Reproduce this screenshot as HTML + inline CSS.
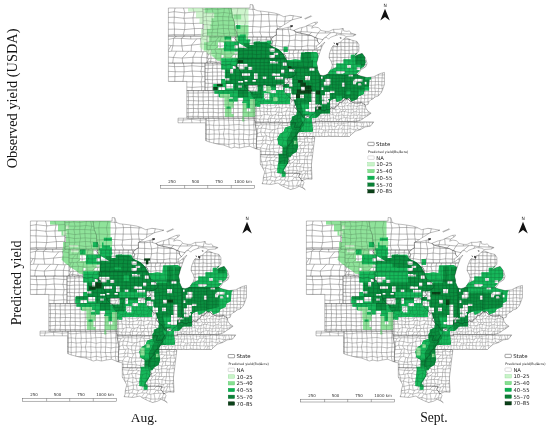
<!DOCTYPE html>
<html><head><meta charset="utf-8"><title>Yield maps</title>
<style>html,body{margin:0;padding:0;background:#fff}body{width:550px;height:430px;overflow:hidden;position:relative}svg{display:block}</style>
</head><body>
<svg width="550" height="430" viewBox="0 0 550 430">
<defs>
<clipPath id="cND"><path d="M168.4,8 231,8 231.7,12.1 232.2,16.3 233.6,19.9 234.5,22.7 234.8,27.3 235.4,30 236.8,32.8 237.2,36.1 168.4,36.1Z"/></clipPath><clipPath id="cSD"><path d="M168.4,36.1 237.2,36.1 235,38.3 236.1,40.9 238.2,42 238.2,58.5 237,60.3 238.2,62.2 237.2,64.5 236.5,66.8 238.2,67.7 235.9,66.6 233.1,65.4 229.4,64.3 224.9,65.1 221.2,64.2 219.3,63.1 168.4,63.1Z"/></clipPath><clipPath id="cNE"><path d="M168.4,63.1 219.3,63.1 221.2,64.2 224.9,65.1 229.4,64.3 233.1,65.4 235.9,66.6 238.2,67.7 239.5,70.4 241.2,72.7 241.4,75.9 242.9,78.7 243.7,81.9 244.4,85.3 246,87.9 248.7,90.6 186.8,90.6 186.8,81.4 168.4,81.4Z"/></clipPath><clipPath id="cKS"><path d="M186.8,90.6 248.7,90.6 251,91.7 252.4,92.9 250.6,94.8 252.4,96.6 255,98.7 255,118.2 186.8,118.2Z"/></clipPath><clipPath id="cOK"><path d="M178,118.2 255,118.2 255,122.8 256.7,132.8 256.3,149 249.6,146.2 244.1,147.1 239.5,148 235,147.1 231.3,148 227.6,146.6 223,144.8 218.4,144.3 212.9,142.9 209.3,142 205.6,140.6 205.6,122.8 178,122.8Z"/></clipPath><clipPath id="cMN"><path d="M237.2,36.1 236.8,32.8 235.4,30 234.8,27.3 234.5,22.7 233.6,19.9 232.2,16.3 231.7,12.1 231,8 250.1,8 250.1,4.5 252.9,4.8 254.2,9.4 257.9,10.8 266.2,11.7 274.4,13 279,14.4 283.6,16.7 290,15.3 296.5,16.3 302,17.2 291.9,19.9 284.5,24.5 278.1,28.7 276.4,29.5 276.4,34.8 274.4,36 271.2,38.8 272.6,41.5 271.9,44.3 271.7,47 274.9,48.9 279,50.4 281.8,53.4 285.4,55.3 286.2,58.5 238.2,58.5 238.2,42 236.1,40.9 235,38.3 237.2,36.1Z"/></clipPath><clipPath id="cIA"><path d="M238.2,58.5 286.2,58.5 286.8,62.2 287.7,65.4 291.5,67.6 294.2,70.4 296,72.7 295.5,74.3 294.2,76.1 291,77.3 287.7,77.8 287.3,79.6 288.7,81.4 287.3,83.3 284.7,85.3 284.3,87.1 283.1,86.2 281.5,85 244.4,85.3 243.7,81.9 242.9,78.7 241.4,75.9 241.2,72.7 239.5,70.4 238.2,67.7 236.5,66.8 237.2,64.5 238.2,62.2 237,60.3 238.2,58.5Z"/></clipPath><clipPath id="cMO"><path d="M244.4,85.3 281.5,85 283.1,86.2 284.3,87.1 283.6,89.2 284.3,91.5 286.4,94.3 290,97.5 291.4,99.8 293.7,100.3 296,101.6 295.5,103.9 294.2,106.7 296.5,109.4 300.1,112.2 302,115.4 302.9,117.2 305.2,118.2 304.7,120.9 302.4,122.8 301.1,125 300.1,127.3 294,127.3 296,122.8 255,122.8 255,98.7 252.4,96.6 250.6,94.8 252.4,92.9 251,91.7 248.7,90.6 246,87.9 244.4,85.3Z"/></clipPath><clipPath id="cAR"><path d="M255,122.8 296,122.8 294,127.3 300.1,127.3 300.6,128.7 298.3,131 296.9,133.3 296,135.1 294.6,136.5 292.3,139.7 291.9,142 288.7,144.8 287.3,148 286.8,151.2 286.8,154.9 260.3,154.7 260.3,149.8 256.3,149 256.7,132.8Z"/></clipPath><clipPath id="cLA"><path d="M260.3,154.7 286.8,154.9 287.3,157.6 289.1,160.8 287.3,163.6 284.5,167.7 283.1,170.5 282.4,173.2 299.9,173.2 298.8,176.5 300.6,178.7 301.8,180.8 302,180 304,182.5 302.3,187.3 305.3,189.7 303.4,188.2 299,186.3 295.7,188.2 290.6,189.5 285.5,187.5 280.5,185 278,183 271.5,184.4 262,183.7 263,181.5 263.4,176.9 264.8,171.9 262.5,167.7 260.3,164.1 260.3,154.7Z"/></clipPath><clipPath id="cMS"><path d="M294.6,136.5 313.9,136.5 314.8,137.4 311.4,165 312.1,179.2 306.6,178.9 301.8,180.8 300.6,178.7 298.8,176.5 299.9,173.2 282.4,173.2 283.1,170.5 284.5,167.7 287.3,163.6 289.1,160.8 287.3,157.6 286.8,154.9 286.8,151.2 287.3,148 288.7,144.8 291.9,142 292.3,139.7 294.6,136.5Z"/></clipPath><clipPath id="cTN"><path d="M294.6,136.5 296,135.1 296.9,133.3 298.3,131 300.6,128.7 300.1,127.3 301.1,125 302.4,122.8 315.3,122.8 315.3,121.3 355.4,121.8 373.8,121.9 370.4,126.2 365.3,126.9 360.7,129.5 355.2,131.3 352,134 349.5,136.5Z"/></clipPath><clipPath id="cKY"><path d="M302.4,122.8 304.7,120.9 305.2,118.2 307,116.3 310.2,117.4 311.6,114.9 314.8,113.6 315.5,110.8 316.7,109.9 319.7,109.4 324,110.8 326.8,109.4 329.5,109.7 331.3,107.6 334.1,109 335.5,106.7 338.7,104.4 339.6,102.4 342.4,102.1 344.9,98.9 347.9,98.9 350.2,101.2 354.3,103 358,103 361.6,102.4 363.5,103.9 365.3,105.1 365.8,108.1 368.1,111.3 371.1,113.2 368.1,115.4 364.4,117.7 362.6,119.1 359.8,120.5 355.4,121.8 315.3,121.3 315.3,122.8Z"/></clipPath><clipPath id="cIL"><path d="M291.5,67.6 317.6,67.8 317.6,69.5 319.4,73.6 320.1,75 320.1,96.6 319.2,98.9 320.3,102.6 318,105.3 316.2,107.6 315.5,110.8 314.8,113.6 311.6,114.9 310.2,117.4 307,116.3 305.2,118.2 302.9,117.2 302,115.4 300.1,112.2 296.5,109.4 294.2,106.7 295.5,103.9 296,101.6 293.7,100.3 291.4,99.8 290,97.5 286.4,94.3 284.3,91.5 283.6,89.2 284.3,87.1 284.7,85.3 287.3,83.3 288.7,81.4 287.3,79.6 287.7,77.8 291,77.3 294.2,76.1 295.5,74.3 296,72.7 294.2,70.4 291.5,67.6Z"/></clipPath><clipPath id="cIN"><path d="M320.1,75 323.1,75.7 326.8,74.5 344.9,75 344.9,98.9 342.4,102.1 339.6,102.4 338.7,104.4 335.5,106.7 334.1,109 331.3,107.6 329.5,109.7 326.8,109.4 324,110.8 319.7,109.4 316.7,109.9 315.5,110.8 316.2,107.6 318,105.3 320.3,102.6 319.2,98.9 320.1,96.6Z"/></clipPath><clipPath id="cOH"><path d="M344.9,75 357.5,74.7 360.7,75.9 363.9,76.8 367.1,77.6 373.6,76.8 380,73.6 384.4,72.4 384.4,84.7 383.7,86.5 382.6,89.7 381.2,92.9 378.2,96.1 374.9,97 373.1,98.9 370.8,99.8 369,101.6 368.1,104.4 365.3,105.1 363.5,103.9 361.6,102.4 358,103 354.3,103 350.2,101.2 347.9,98.9 344.9,98.9Z"/></clipPath><clipPath id="cMI"><path d="M326.8,74.5 344.9,75 357.5,74.7 359.8,71.8 360.7,69.5 363,68.6 366.2,66.3 367,63.1 365.3,57.6 362.1,53.3 358,54.8 353.4,57.1 356.1,54.4 358.9,51.1 358.9,44.7 357,41.5 351.5,40.1 345.6,37.6 343.3,39.2 340.1,42.4 337.8,42.9 337.3,46.6 333.2,45.6 331.8,47.5 329.5,53.4 329.1,57.6 331.3,61.7 332.3,65.4 331.3,68.6 329.5,71.3 326.8,74.5Z"/></clipPath><clipPath id="cUP"><path d="M293.7,30.5 299.2,28.2 304.7,26.8 309.3,24.5 313.9,22.5 317.6,22 316.7,23.6 313,25.9 311.6,28.2 314.8,27.1 318.5,27.7 321.2,30.5 325.8,31.4 329.1,31.4 333.2,29.4 338.7,29.3 343.3,28.5 343.7,30.9 347,31.4 349.2,30.9 351.5,33.2 356.1,34.6 353.4,36 346,36.5 343.3,35.1 338.7,34.6 334.1,36 330.4,37.4 328.6,39.2 326.8,37.4 324.5,37.8 322.2,40.6 319.4,43.8 317.6,41.5 317.1,38.3 314.8,37.4 311.1,35.5 305.6,34.3 296.5,32.3 293.7,30.5Z"/></clipPath><clipPath id="cWI"><path d="M291.5,67.6 287.7,65.4 286.8,62.2 286.2,58.5 285.4,55.3 281.8,53.4 279,50.4 274.9,48.9 271.7,47 271.9,44.3 272.6,41.5 271.2,38.8 274.4,36 276.4,34.8 276.4,29.5 278.1,28.7 282.7,28.7 286.4,27.7 290,26.8 290.5,29.6 293.7,30.5 296.5,32.3 305.6,34.3 311.1,35.5 314.8,37.4 317.1,38.3 317.6,41.5 319.4,43.8 316.7,45.6 315.7,49.1 318,47.9 321.7,44.7 324.9,42.1 322.2,46.1 320.3,51.1 318.5,56.2 316.7,63.1 317.6,67.8Z"/></clipPath><clipPath id="land"><path d="M168.4,8 231,8 231.7,12.1 232.2,16.3 233.6,19.9 234.5,22.7 234.8,27.3 235.4,30 236.8,32.8 237.2,36.1 168.4,36.1ZM168.4,36.1 237.2,36.1 235,38.3 236.1,40.9 238.2,42 238.2,58.5 237,60.3 238.2,62.2 237.2,64.5 236.5,66.8 238.2,67.7 235.9,66.6 233.1,65.4 229.4,64.3 224.9,65.1 221.2,64.2 219.3,63.1 168.4,63.1ZM168.4,63.1 219.3,63.1 221.2,64.2 224.9,65.1 229.4,64.3 233.1,65.4 235.9,66.6 238.2,67.7 239.5,70.4 241.2,72.7 241.4,75.9 242.9,78.7 243.7,81.9 244.4,85.3 246,87.9 248.7,90.6 186.8,90.6 186.8,81.4 168.4,81.4ZM186.8,90.6 248.7,90.6 251,91.7 252.4,92.9 250.6,94.8 252.4,96.6 255,98.7 255,118.2 186.8,118.2ZM178,118.2 255,118.2 255,122.8 256.7,132.8 256.3,149 249.6,146.2 244.1,147.1 239.5,148 235,147.1 231.3,148 227.6,146.6 223,144.8 218.4,144.3 212.9,142.9 209.3,142 205.6,140.6 205.6,122.8 178,122.8ZM237.2,36.1 236.8,32.8 235.4,30 234.8,27.3 234.5,22.7 233.6,19.9 232.2,16.3 231.7,12.1 231,8 250.1,8 250.1,4.5 252.9,4.8 254.2,9.4 257.9,10.8 266.2,11.7 274.4,13 279,14.4 283.6,16.7 290,15.3 296.5,16.3 302,17.2 291.9,19.9 284.5,24.5 278.1,28.7 276.4,29.5 276.4,34.8 274.4,36 271.2,38.8 272.6,41.5 271.9,44.3 271.7,47 274.9,48.9 279,50.4 281.8,53.4 285.4,55.3 286.2,58.5 238.2,58.5 238.2,42 236.1,40.9 235,38.3 237.2,36.1ZM238.2,58.5 286.2,58.5 286.8,62.2 287.7,65.4 291.5,67.6 294.2,70.4 296,72.7 295.5,74.3 294.2,76.1 291,77.3 287.7,77.8 287.3,79.6 288.7,81.4 287.3,83.3 284.7,85.3 284.3,87.1 283.1,86.2 281.5,85 244.4,85.3 243.7,81.9 242.9,78.7 241.4,75.9 241.2,72.7 239.5,70.4 238.2,67.7 236.5,66.8 237.2,64.5 238.2,62.2 237,60.3 238.2,58.5ZM244.4,85.3 281.5,85 283.1,86.2 284.3,87.1 283.6,89.2 284.3,91.5 286.4,94.3 290,97.5 291.4,99.8 293.7,100.3 296,101.6 295.5,103.9 294.2,106.7 296.5,109.4 300.1,112.2 302,115.4 302.9,117.2 305.2,118.2 304.7,120.9 302.4,122.8 301.1,125 300.1,127.3 294,127.3 296,122.8 255,122.8 255,98.7 252.4,96.6 250.6,94.8 252.4,92.9 251,91.7 248.7,90.6 246,87.9 244.4,85.3ZM255,122.8 296,122.8 294,127.3 300.1,127.3 300.6,128.7 298.3,131 296.9,133.3 296,135.1 294.6,136.5 292.3,139.7 291.9,142 288.7,144.8 287.3,148 286.8,151.2 286.8,154.9 260.3,154.7 260.3,149.8 256.3,149 256.7,132.8ZM260.3,154.7 286.8,154.9 287.3,157.6 289.1,160.8 287.3,163.6 284.5,167.7 283.1,170.5 282.4,173.2 299.9,173.2 298.8,176.5 300.6,178.7 301.8,180.8 302,180 304,182.5 302.3,187.3 305.3,189.7 303.4,188.2 299,186.3 295.7,188.2 290.6,189.5 285.5,187.5 280.5,185 278,183 271.5,184.4 262,183.7 263,181.5 263.4,176.9 264.8,171.9 262.5,167.7 260.3,164.1 260.3,154.7ZM294.6,136.5 313.9,136.5 314.8,137.4 311.4,165 312.1,179.2 306.6,178.9 301.8,180.8 300.6,178.7 298.8,176.5 299.9,173.2 282.4,173.2 283.1,170.5 284.5,167.7 287.3,163.6 289.1,160.8 287.3,157.6 286.8,154.9 286.8,151.2 287.3,148 288.7,144.8 291.9,142 292.3,139.7 294.6,136.5ZM294.6,136.5 296,135.1 296.9,133.3 298.3,131 300.6,128.7 300.1,127.3 301.1,125 302.4,122.8 315.3,122.8 315.3,121.3 355.4,121.8 373.8,121.9 370.4,126.2 365.3,126.9 360.7,129.5 355.2,131.3 352,134 349.5,136.5ZM302.4,122.8 304.7,120.9 305.2,118.2 307,116.3 310.2,117.4 311.6,114.9 314.8,113.6 315.5,110.8 316.7,109.9 319.7,109.4 324,110.8 326.8,109.4 329.5,109.7 331.3,107.6 334.1,109 335.5,106.7 338.7,104.4 339.6,102.4 342.4,102.1 344.9,98.9 347.9,98.9 350.2,101.2 354.3,103 358,103 361.6,102.4 363.5,103.9 365.3,105.1 365.8,108.1 368.1,111.3 371.1,113.2 368.1,115.4 364.4,117.7 362.6,119.1 359.8,120.5 355.4,121.8 315.3,121.3 315.3,122.8ZM291.5,67.6 317.6,67.8 317.6,69.5 319.4,73.6 320.1,75 320.1,96.6 319.2,98.9 320.3,102.6 318,105.3 316.2,107.6 315.5,110.8 314.8,113.6 311.6,114.9 310.2,117.4 307,116.3 305.2,118.2 302.9,117.2 302,115.4 300.1,112.2 296.5,109.4 294.2,106.7 295.5,103.9 296,101.6 293.7,100.3 291.4,99.8 290,97.5 286.4,94.3 284.3,91.5 283.6,89.2 284.3,87.1 284.7,85.3 287.3,83.3 288.7,81.4 287.3,79.6 287.7,77.8 291,77.3 294.2,76.1 295.5,74.3 296,72.7 294.2,70.4 291.5,67.6ZM320.1,75 323.1,75.7 326.8,74.5 344.9,75 344.9,98.9 342.4,102.1 339.6,102.4 338.7,104.4 335.5,106.7 334.1,109 331.3,107.6 329.5,109.7 326.8,109.4 324,110.8 319.7,109.4 316.7,109.9 315.5,110.8 316.2,107.6 318,105.3 320.3,102.6 319.2,98.9 320.1,96.6ZM344.9,75 357.5,74.7 360.7,75.9 363.9,76.8 367.1,77.6 373.6,76.8 380,73.6 384.4,72.4 384.4,84.7 383.7,86.5 382.6,89.7 381.2,92.9 378.2,96.1 374.9,97 373.1,98.9 370.8,99.8 369,101.6 368.1,104.4 365.3,105.1 363.5,103.9 361.6,102.4 358,103 354.3,103 350.2,101.2 347.9,98.9 344.9,98.9ZM326.8,74.5 344.9,75 357.5,74.7 359.8,71.8 360.7,69.5 363,68.6 366.2,66.3 367,63.1 365.3,57.6 362.1,53.3 358,54.8 353.4,57.1 356.1,54.4 358.9,51.1 358.9,44.7 357,41.5 351.5,40.1 345.6,37.6 343.3,39.2 340.1,42.4 337.8,42.9 337.3,46.6 333.2,45.6 331.8,47.5 329.5,53.4 329.1,57.6 331.3,61.7 332.3,65.4 331.3,68.6 329.5,71.3 326.8,74.5ZM293.7,30.5 299.2,28.2 304.7,26.8 309.3,24.5 313.9,22.5 317.6,22 316.7,23.6 313,25.9 311.6,28.2 314.8,27.1 318.5,27.7 321.2,30.5 325.8,31.4 329.1,31.4 333.2,29.4 338.7,29.3 343.3,28.5 343.7,30.9 347,31.4 349.2,30.9 351.5,33.2 356.1,34.6 353.4,36 346,36.5 343.3,35.1 338.7,34.6 334.1,36 330.4,37.4 328.6,39.2 326.8,37.4 324.5,37.8 322.2,40.6 319.4,43.8 317.6,41.5 317.1,38.3 314.8,37.4 311.1,35.5 305.6,34.3 296.5,32.3 293.7,30.5ZM291.5,67.6 287.7,65.4 286.8,62.2 286.2,58.5 285.4,55.3 281.8,53.4 279,50.4 274.9,48.9 271.7,47 271.9,44.3 272.6,41.5 271.2,38.8 274.4,36 276.4,34.8 276.4,29.5 278.1,28.7 282.7,28.7 286.4,27.7 290,26.8 290.5,29.6 293.7,30.5 296.5,32.3 305.6,34.3 311.1,35.5 314.8,37.4 317.1,38.3 317.6,41.5 319.4,43.8 316.7,45.6 315.7,49.1 318,47.9 321.7,44.7 324.9,42.1 322.2,46.1 320.3,51.1 318.5,56.2 316.7,63.1 317.6,67.8ZM304.7,18.6 311.1,15.8 311.6,16.3 305.2,19Z"/></clipPath>
<g id="base"><path clip-path="url(#cND)" d="M167.4,7L175.3,7L183.3,7L192.6,7L202,7M167.4,12.7L174.2,11.7L184.8,12.9L194,12L203,11.5M167.4,17.4L174.3,17.2L184,18.3L193,17.9L203,17.6M167.4,22.7L174,22.9L185,23.3L193.3,23.5L203,23.1M167.4,29.3L174.5,29.1L184.6,29.6L194.4,28.6L203,28.4M167.4,35L174.3,34.6L183.3,34.8L194.5,34.7L203,34.3M167.4,37.1L175.4,37.1L185.4,37.1L193.7,37.1L202,37.1M167.4,7L167.4,12.7L167.4,17.4L167.4,22.7L167.4,29.3L167.4,35L167.4,37.1M175.3,7L174.2,11.7L174.3,17.2L174,22.9L174.5,29.1L174.3,34.6L175.4,37.1M183.3,7L184.8,12.9L184,18.3L185,23.3L184.6,29.6L183.3,34.8L185.4,37.1M192.6,7L194,12L193,17.9L193.3,23.5L194.4,28.6L194.5,34.7L193.7,37.1M202,7L203,11.5L203,17.6L203,23.1L203,28.4L203,34.3L202,37.1M203,7L206.6,7L211.6,7L217.5,7L222.9,7L228.6,7L234.6,7L238.2,7M203,9.4L207.3,9.4L212,8.9L217.8,9.4L224.3,8.6L228.7,8.7L234.4,9L238.2,8.7M203,12.9L206.6,13.1L213.1,13.2L218,13.1L223.9,12.5L229.8,13.3L235.4,13.3L238.2,12.9M203,17.2L206.1,16.5L211.9,16.6L217.7,16.5L222.8,16.6L228.6,16.9L234,17.4L238.2,16.6M203,20.8L206.6,20.6L212.9,21.6L217.9,21L222.9,20.6L228.9,20.8L235.3,20.6L238.2,21.5M203,24.6L206.9,24.5L212.4,25.5L218.6,25.2L223.2,24.9L228.7,25.3L234.8,25.3L238.2,24.7M203,29.6L207.3,29.4L212.9,29.3L217.6,29L223.4,28.5L228.4,28.8L234.4,29.2L238.2,29M203,33.6L207.5,32.9L211.9,32.7L217.5,32.7L223.8,33.5L229.7,33L235,33.3L238.2,33.2M203,37.1L207.2,37L211.9,37.1L217.7,37.1L224.3,36.9L229,37.1L235.1,36.6L238.2,36.6M203,7L203,9.4L203,12.9L203,17.2L203,20.8L203,24.6L203,29.6L203,33.6L203,37.1M206.6,7L207.3,9.4L206.6,13.1L206.1,16.5L206.6,20.6L206.9,24.5L207.3,29.4L207.5,32.9L207.2,37M211.6,7L212,8.9L213.1,13.2L211.9,16.6L212.9,21.6L212.4,25.5L212.9,29.3L211.9,32.7L211.9,37.1M217.5,7L217.8,9.4L218,13.1L217.7,16.5L217.9,21L218.6,25.2L217.6,29L217.5,32.7L217.7,37.1M222.9,7L224.3,8.6L223.9,12.5L222.8,16.6L222.9,20.6L223.2,24.9L223.4,28.5L223.8,33.5L224.3,36.9M228.6,7L228.7,8.7L229.8,13.3L228.6,16.9L228.9,20.8L228.7,25.3L228.4,28.8L229.7,33L229,37.1M234.6,7L234.4,9L235.4,13.3L234,17.4L235.3,20.6L234.8,25.3L234.4,29.2L235,33.3L235.1,36.6M238.2,7L238.2,8.7L238.2,12.9L238.2,16.6L238.2,21.5L238.2,24.7L238.2,29L238.2,33.2L238.2,36.6" fill="none" stroke="#606060" stroke-width="0.44"/><path clip-path="url(#cSD)" d="M167.4,35.1L174.1,35.1L181.6,35.1L190.5,35.1L202.5,35.1L207,35.1M167.4,39.6L173.6,38.3L181.3,38.4L190.8,39L200.4,38.7L207,39.7M167.4,45L172.9,45.8L181.9,45.9L191.6,45.1L201.2,44.1L207,44.4M167.4,51.8L171.6,51.2L182.8,51.3L191.1,51.3L201.3,51.8L207,51.4M167.4,57L173.4,57.5L182.3,58L192.9,57.3L201.4,57.4L207,57.8M167.4,63.7L172.5,64.5L182.7,64.4L192.9,63.2L201.3,64.5L207,62.9M167.4,68.7L171.3,68.7L180.8,68.7L192.5,68.7L200.1,68.7L207,68.7M167.4,35.1L167.4,39.6L167.4,45M171.1,45.6L167.4,51.8L167.4,57L167.4,63.7L167.4,68.7M177.6,35.1L173.6,38.3L172.9,45.8L171.6,51.2M176.4,51.3L173.4,57.5L172.5,64.5M177.8,64.4L171.3,68.7M185.5,35.1L181.3,38.4L181.9,45.9L182.8,51.3M188.5,51.3L182.3,58L182.7,64.4L180.8,68.7M190.5,35.1L190.8,39M196.7,38.8L191.6,45.1L191.1,51.3M195.9,51.5L192.9,57.3L192.9,63.2L192.5,68.7M205.5,35.1L200.4,38.7L201.2,44.1L201.3,51.8M203.1,51.7L201.4,57.4L201.3,64.5L200.1,68.7M207,35.1L207,39.7L207,44.4L207,51.4M207,51.4L207,57.8M207,57.8L207,62.9L207,68.7M207,35.1L210.7,35.1L215,35.1L219.9,35.1L225.3,35.1L231,35.1L235.6,35.1L239.2,35.1M207,36.7L211,37.4L215.1,37.3L221.3,36.8L226.1,37.2L230.6,37.8L235.4,37.3L239.2,38M207,41.9L210.9,41.6L215.5,41.2L219.9,41L224.9,41.8L230.2,41L235,41.9L239.2,41.7M207,45.2L210.3,45.5L215.1,45.5L220.2,46.1L226.4,45.6L230.2,46.1L235.3,45.3L239.2,45.4M207,49.6L210.1,49.6L214.8,49.3L220,49.5L224.9,49L230.3,49.3L235.8,49.7L239.2,49.8M207,54.2L210.4,53.5L216.4,53.3L221,53.9L224.9,54.2L231.2,53.9L236,54.1L239.2,53.8M207,58.3L211.1,58.3L215.8,58.4L220.9,58.1L225.2,57.2L230,57.7L235,58.3L239.2,58M207,62.2L210.6,61.3L216.1,62.3L220.6,62L225.9,61.4L231,61.6L234.9,61.6L239.2,61.6M207,66.7L210.6,65.9L215.6,66.3L221,66.2L225.8,65.5L230.1,65.7L236,65.8L239.2,65.4M207,68.7L210.9,68.7L215.9,68.7L220.6,68.7L225.6,68.7L231.2,68.7L236.4,68.7L239.2,68.7M207,35.1L207,36.7L207,41.9L207,45.2L207,49.6M209.1,49.6L207,54.2M208.8,53.8L207,58.3M209.1,58.3L207,62.2L207,66.7M209.3,66.2L207,68.7M210.7,35.1L211,37.4L210.9,41.6M213.9,41.4L210.3,45.5L210.1,49.6M211.6,49.5L210.4,53.5L211.1,58.3L210.6,61.3L210.6,65.9M212.8,66.1L210.9,68.7M215,35.1L215.1,37.3M218.8,37L215.5,41.2L215.1,45.5M218.5,45.9L214.8,49.3L216.4,53.3L215.8,58.4L216.1,62.3L215.6,66.3L215.9,68.7M219.9,35.1L221.3,36.8L219.9,41L220.2,46.1L220,49.5M221.6,49.3L221,53.9L220.9,58.1L220.6,62L221,66.2M223,65.9L220.6,68.7M227.9,35.1L226.1,37.2L224.9,41.8L226.4,45.6L224.9,49L224.9,54.2L225.2,57.2L225.9,61.4L225.8,65.5L225.6,68.7M231,35.1L230.6,37.8L230.2,41L230.2,46.1L230.3,49.3L231.2,53.9M234.4,54.1L230,57.7M232.5,58L231,61.6L230.1,65.7L231.2,68.7M235.6,35.1L235.4,37.3L235,41.9L235.3,45.3L235.8,49.7L236,54.1L235,58.3M236.5,58.2L234.9,61.6M237.7,61.6L236,65.8L236.4,68.7M239.2,35.1L239.2,38L239.2,41.7L239.2,45.4M239.2,45.4L239.2,49.8M239.2,49.8L239.2,53.8M239.2,53.8L239.2,58L239.2,61.6L239.2,65.4L239.2,68.7" fill="none" stroke="#606060" stroke-width="0.44"/><path clip-path="url(#cNE)" d="M167.4,62.1L174.3,62.1L183.2,62.1L192,62.1L201.7,62.1L205,62.1M167.4,66.1L174.5,66.6L184,66.5L191.9,65.8L201.8,66.5L205,66.3M167.4,71.3L175.2,71.7L184.1,71.8L192.2,71.1L201,71.4L205,71.8M167.4,76.7L174.9,76.6L183.6,76.2L192.9,76.4L202.1,76.7L205,76.3M167.4,81.9L174.8,81.5L182.9,81.8L192.7,81.7L201.1,81.9L205,81.6M167.4,87.4L174.8,87.3L183.5,86.8L192.2,87.4L201.8,86.8L205,87M167.4,91.6L174.2,91.6L184.2,91.6L191.9,91.6L201.4,91.6L205,91.6M167.4,62.1L167.4,66.1L167.4,71.3L167.4,76.7L167.4,81.9L167.4,87.4L167.4,91.6M174.3,62.1L174.5,66.6L175.2,71.7L174.9,76.6L174.8,81.5L174.8,87.3L174.2,91.6M183.2,62.1L184,66.5L184.1,71.8L183.6,76.2L182.9,81.8L183.5,86.8L184.2,91.6M192,62.1L191.9,65.8L192.2,71.1L192.9,76.4L192.7,81.7L192.2,87.4L191.9,91.6M201.7,62.1L201.8,66.5L201,71.4L202.1,76.7L201.1,81.9L201.8,86.8L201.4,91.6M205,62.1L205,66.3L205,71.8L205,76.3L205,81.6L205,87L205,91.6M205,62.1L207.8,62.1L212.3,62.1L217.3,62.1L222,62.1L226.1,62.1L230.8,62.1L235.8,62.1L240,62.1L245,62.1L249,62.1M205,65.1L208.2,65L212.9,65.1L217,64.7L222,65L226,64.9L230.8,64.8L235.4,64.7L239.7,64.7L244.6,65.1L249,65.1M205,68.5L208.1,68.7L212.5,68.3L217.1,68.5L222,68.4L226.2,68.8L230.6,68.5L235.7,68.7L239.8,68.3L244.4,68.8L249.1,68.7M205,72.2L207.7,72.5L212.6,72.1L217.3,72.1L221.5,72L226.5,72.5L231,72.5L235.1,72.1L240.1,72.5L245,72.2L249.1,72.2M205,76.2L207.7,76.1L212.7,76.1L217.3,76L221.6,75.8L226.2,76.1L230.6,75.8L235.7,75.8L239.8,75.7L244.7,75.8L249.7,76.2M205,79.5L207.6,79.4L212.5,79.8L217.1,79.5L221.6,79.7L226.4,79.8L231.2,79.7L235.2,79.8L239.9,79.7L244.6,79.8L249.1,79.5M205,83.1L208.2,83.4L212.4,83.3L217.5,83.4L221.5,83.5L226.4,83.6L230.6,83.3L235.7,83.5L240.4,83.1L244.5,83.1L249.1,83.6M205,87.3L207.8,87.3L212.5,86.9L217.3,87.3L221.4,87.1L226.4,86.9L230.8,86.8L235.3,86.9L240.2,87.1L244.5,86.8L249.2,87.2M205,90.6L207.7,90.9L212.5,90.5L216.8,90.7L221.7,90.8L226,90.5L231,90.7L235.3,90.6L240.4,90.6L244.7,90.7L249.2,91M205,62.1L205,65.1L205,68.5L205,72.2L205,76.2L205,79.5L205,83.1L205,87.3L205,90.6M207.8,62.1L208.2,65L208.1,68.7L207.7,72.5L207.7,76.1L207.6,79.4L208.2,83.4L207.8,87.3L207.7,90.9M212.3,62.1L212.9,65.1L212.5,68.3L212.6,72.1L212.7,76.1L212.5,79.8L212.4,83.3L212.5,86.9L212.5,90.5M217.3,62.1L217,64.7L217.1,68.5L217.3,72.1L217.3,76L217.1,79.5L217.5,83.4L217.3,87.3L216.8,90.7M222,62.1L222,65L222,68.4L221.5,72L221.6,75.8L221.6,79.7L221.5,83.5L221.4,87.1L221.7,90.8M226.1,62.1L226,64.9L226.2,68.8L226.5,72.5L226.2,76.1L226.4,79.8L226.4,83.6L226.4,86.9L226,90.5M230.8,62.1L230.8,64.8L230.6,68.5L231,72.5L230.6,75.8L231.2,79.7L230.6,83.3L230.8,86.8L231,90.7M235.8,62.1L235.4,64.7L235.7,68.7L235.1,72.1L235.7,75.8L235.2,79.8L235.7,83.5L235.3,86.9L235.3,90.6M240,62.1L239.7,64.7L239.8,68.3L240.1,72.5L239.8,75.7L239.9,79.7L240.4,83.1L240.2,87.1L240.4,90.6M245,62.1L244.6,65.1L244.4,68.8L245,72.2L244.7,75.8L244.6,79.8L244.5,83.1L244.5,86.8L244.7,90.7M249,62.1L249,65.1L249.1,68.7L249.1,72.2L249.7,76.2L249.1,79.5L249.1,83.6L249.2,87.2L249.2,91" fill="none" stroke="#606060" stroke-width="0.44"/><path clip-path="url(#cKS)" d="M185.8,89.6L188.1,89.6L193.5,89.6L198.5,89.6L203.5,89.6L208.1,89.6L213.3,89.6L218.5,89.6L223.3,89.6L228.3,89.6L233.1,89.6L238.5,89.6L243.3,89.6L248.5,89.6L253,89.6L256,89.6M185.8,93L188.2,93L193.3,93L198.1,93L203.1,92.8L208.5,93L213.1,92.7L218.2,92.9L223.2,92.7L228.1,92.9L233.5,92.6L238.3,93L243,93L248,92.9L253.3,92.9L256,92.8M185.8,96.7L188.4,96.8L193.2,96.6L198.3,96.8L203.1,96.9L208.4,96.8L213.1,96.8L218,96.6L223.2,96.6L228.2,96.8L233,96.8L238,96.9L243.4,96.8L248,96.8L253.2,97L256,97M185.8,100.8L188.5,100.6L193.6,100.7L198.5,100.9L203.1,100.9L208.5,100.5L213.2,100.8L218.1,100.9L223.1,100.9L228.1,100.7L233.5,100.6L238.1,100.7L243.2,100.5L248.1,100.6L253.5,100.8L256,100.6M185.8,104.5L188.3,104.7L193.2,104.8L198.3,104.7L203.5,104.5L208.6,104.7L213.2,104.8L218.1,104.9L223.3,104.6L228.4,104.6L233.1,104.8L238,104.8L243.1,104.7L248.6,104.7L253.4,104.6L256,104.4M185.8,108.7L188.2,108.6L193.5,108.4L198.1,108.7L203,108.4L208.2,108.4L213.2,108.5L218.3,108.6L223.1,108.7L228.3,108.4L233.5,108.5L238.1,108.4L243.4,108.8L248.4,108.6L253.1,108.4L256,108.6M185.8,112.6L188.2,112.8L193.4,112.4L198.5,112.3L203.3,112.5L208.1,112.3L213.4,112.3L218.3,112.8L223.1,112.4L228.3,112.5L233.4,112.7L238.1,112.5L243.1,112.3L248.5,112.7L253.4,112.3L256,112.7M185.8,116.6L188.2,116.4L193,116.4L198,116.4L203.4,116.6L208.5,116.6L213.1,116.5L218.2,116.6L223.3,116.4L228.4,116.7L233.1,116.7L238,116.4L243.1,116.6L248.5,116.6L253.2,116.7L256,116.4M185.8,119.2L188.4,119.2L193.6,119.2L198.5,119.2L203.5,119.2L208.4,119.2L213.2,119.2L218.3,119.2L223.5,119.2L228,119.2L233.5,119.2L238.1,119.2L243,119.2L248.3,119.2L253.4,119.2L256,119.2M185.8,89.6L185.8,93L185.8,96.7L185.8,100.8L185.8,104.5L185.8,108.7L185.8,112.6L185.8,116.6L185.8,119.2M188.1,89.6L188.2,93L188.4,96.8L188.5,100.6L188.3,104.7L188.2,108.6L188.2,112.8L188.2,116.4L188.4,119.2M193.5,89.6L193.3,93L193.2,96.6L193.6,100.7L193.2,104.8L193.5,108.4L193.4,112.4L193,116.4L193.6,119.2M198.5,89.6L198.1,93L198.3,96.8L198.5,100.9L198.3,104.7L198.1,108.7L198.5,112.3L198,116.4L198.5,119.2M203.5,89.6L203.1,92.8L203.1,96.9L203.1,100.9L203.5,104.5L203,108.4L203.3,112.5L203.4,116.6L203.5,119.2M208.1,89.6L208.5,93L208.4,96.8L208.5,100.5L208.6,104.7L208.2,108.4L208.1,112.3L208.5,116.6L208.4,119.2M213.3,89.6L213.1,92.7L213.1,96.8L213.2,100.8L213.2,104.8L213.2,108.5L213.4,112.3L213.1,116.5L213.2,119.2M218.5,89.6L218.2,92.9L218,96.6L218.1,100.9L218.1,104.9L218.3,108.6L218.3,112.8L218.2,116.6L218.3,119.2M223.3,89.6L223.2,92.7L223.2,96.6L223.1,100.9L223.3,104.6L223.1,108.7L223.1,112.4L223.3,116.4L223.5,119.2M228.3,89.6L228.1,92.9L228.2,96.8L228.1,100.7L228.4,104.6L228.3,108.4L228.3,112.5L228.4,116.7L228,119.2M233.1,89.6L233.5,92.6L233,96.8L233.5,100.6L233.1,104.8L233.5,108.5L233.4,112.7L233.1,116.7L233.5,119.2M238.5,89.6L238.3,93L238,96.9L238.1,100.7L238,104.8L238.1,108.4L238.1,112.5L238,116.4L238.1,119.2M243.3,89.6L243,93L243.4,96.8L243.2,100.5L243.1,104.7L243.4,108.8L243.1,112.3L243.1,116.6L243,119.2M248.5,89.6L248,92.9L248,96.8L248.1,100.6L248.6,104.7L248.4,108.6L248.5,112.7L248.5,116.6L248.3,119.2M253,89.6L253.3,92.9L253.2,97L253.5,100.8L253.4,104.6L253.1,108.4L253.4,112.3L253.2,116.7L253.4,119.2M256,89.6L256,92.8L256,97L256,100.6L256,104.4L256,108.6L256,112.7L256,116.4L256,119.2" fill="none" stroke="#606060" stroke-width="0.44"/><path clip-path="url(#cOK)" d="M177,117.1L183.4,117.1L192.8,117.1L200.5,117.1L206,117.1M177,120L183.3,120L191.4,119.4L200.2,120.2L206,119.7M177,123.9L182,124.2L192.3,124.3L200.7,125L206,124.9M177,128.6L182.3,129L192.4,128.9L201.6,129.1L206,129.5M177,134L181.8,133.1L191.2,134L202.2,133.1L206,133.7M177,137.9L182.5,138.1L192.6,138L202.1,138L206,138.5M177,142.4L182.8,142.4L192.5,143.1L201.8,143L206,142.8M177,147.9L181.6,147.9L190.8,147.2L200.6,147.9L206,147.3M177,150L182.5,150L192.4,150L201.5,150L206,150M177,117.1L177,120L177,123.9L177,128.6L177,134L177,137.9L177,142.4L177,147.9L177,150M183.4,117.1L183.3,120L182,124.2L182.3,129L181.8,133.1L182.5,138.1L182.8,142.4L181.6,147.9L182.5,150M192.8,117.1L191.4,119.4L192.3,124.3L192.4,128.9L191.2,134L192.6,138L192.5,143.1L190.8,147.2L192.4,150M200.5,117.1L200.2,120.2L200.7,125L201.6,129.1L202.2,133.1L202.1,138L201.8,143L200.6,147.9L201.5,150M206,117.1L206,119.7L206,124.9L206,129.5L206,133.7L206,138.5L206,142.8L206,147.3L206,150M206,117.1L208.8,117.1L214,117.1L218.8,117.1L223.6,117.1L228.7,117.1L234.3,117.1L238.5,117.1L243.7,117.1L248.5,117.1L253.5,117.1L257.7,117.1M206,119.9L208.8,120.8L214.2,120.6L218.8,120L224.1,119.9L228.5,120.2L233.3,120.2L239.2,120.5L243.9,120.5L248.8,119.9L254,120.2L257.7,120.8M206,125.1L209.2,124.9L213.6,125.3L219.3,125.3L224.1,125.4L229.1,125.2L233.8,124.8L239,124.6L243.8,125.3L249.1,125.2L253.6,124.9L257.7,125.1M206,129.9L209.4,129.3L214.1,130L218.8,129.7L224.5,129.2L228.9,129.3L234.2,130.2L238.9,129.3L244,129.8L249.2,129.7L254.1,130.1L257.7,129.6M206,134.1L209.1,134.3L214.2,134L219.5,134.2L223.4,134.1L228.8,133.9L233.8,134.3L239.1,134.2L243.6,134.1L249.2,134.9L253.9,134.1L257.7,134.3M206,138.7L209.2,139.5L214.1,139.1L219,138.8L224.4,138.9L229.1,139.5L234.3,139.1L238.6,139.2L243.4,139.5L248.7,139.5L253.6,139L257.7,139M206,143.2L209.2,143.6L213.6,143.6L218.9,143.7L224.1,144L228.7,144.3L234.3,143.3L239.3,144.3L244.2,143.4L249.3,144L253.3,143.3L257.7,144M206,148.1L208.5,148.2L214.2,148.3L218.5,149L224.2,148.1L229.4,148.6L234.2,148.7L239.4,148.8L244.3,148.2L249.1,148.5L254.2,148.4L257.7,148.6M206,117.1L206,119.9L206,125.1L206,129.9L206,134.1L206,138.7L206,143.2L206,148.1M208.8,117.1L208.8,120.8L209.2,124.9L209.4,129.3L209.1,134.3L209.2,139.5L209.2,143.6L208.5,148.2M214,117.1L214.2,120.6L213.6,125.3L214.1,130L214.2,134L214.1,139.1L213.6,143.6L214.2,148.3M218.8,117.1L218.8,120L219.3,125.3L218.8,129.7L219.5,134.2L219,138.8L218.9,143.7L218.5,149M223.6,117.1L224.1,119.9L224.1,125.4L224.5,129.2L223.4,134.1L224.4,138.9L224.1,144L224.2,148.1M228.7,117.1L228.5,120.2L229.1,125.2L228.9,129.3L228.8,133.9L229.1,139.5L228.7,144.3L229.4,148.6M234.3,117.1L233.3,120.2L233.8,124.8L234.2,130.2L233.8,134.3L234.3,139.1L234.3,143.3L234.2,148.7M238.5,117.1L239.2,120.5L239,124.6L238.9,129.3L239.1,134.2L238.6,139.2L239.3,144.3L239.4,148.8M243.7,117.1L243.9,120.5L243.8,125.3L244,129.8L243.6,134.1L243.4,139.5L244.2,143.4L244.3,148.2M248.5,117.1L248.8,119.9L249.1,125.2L249.2,129.7L249.2,134.9L248.7,139.5L249.3,144L249.1,148.5M253.5,117.1L254,120.2L253.6,124.9L254.1,130.1L253.9,134.1L253.6,139L253.3,143.3L254.2,148.4M257.7,117.1L257.7,120.8L257.7,125.1L257.7,129.6L257.7,134.3L257.7,139L257.7,144L257.7,148.6" fill="none" stroke="#686868" stroke-width="0.42"/><path clip-path="url(#cMN)" d="M230,3.5L236.1,3.5L244.3,3.5L252.9,3.5L261.6,3.5L269.6,3.5L277.1,3.5L285.6,3.5L292.8,3.5L300.1,3.5L303,3.5M230,9.1L237.8,8.6L245.9,8.8L252.9,9.4L260.1,9.1L269.2,8.6L277.6,8.6L284.9,8.8L293.5,8.4L300.8,8.7L303,9.3M230,15.3L236.8,14.8L244.5,14.8L253.9,15L261.5,14.6L268.6,14.5L277.1,15L285.5,14.1L293.4,15.4L301,14.2L303,14.1M230,21.4L237.2,21L245.5,21.4L253.2,21L261.2,21.1L269.1,21.1L276.4,21L284.9,21.2L292.2,20.4L300.1,21.2L303,21M230,27.3L237.5,26.9L244.5,26.5L252.8,26.5L260.8,27L269.8,26.2L277.1,26.1L284.2,27.3L293.1,27.4L300.8,26.1L303,26.9M230,33.5L236.9,32.7L244.2,33L252.4,32.3L260,32.1L269.3,32.3L277.8,32.2L285.7,32.3L292,33.1L300.5,33.1L303,32.2M230,37L237.6,37L244.2,37L253.4,37L261.8,37L269.8,37L276,37L285.2,37L292.1,37L301.4,37L303,37M230,3.5L230,9.1L230,15.3L230,21.4L230,27.3L230,33.5L230,37M236.1,3.5L237.8,8.6L236.8,14.8L237.2,21L237.5,26.9L236.9,32.7L237.6,37M244.3,3.5L245.9,8.8L244.5,14.8L245.5,21.4L244.5,26.5L244.2,33L244.2,37M252.9,3.5L252.9,9.4L253.9,15L253.2,21L252.8,26.5L252.4,32.3L253.4,37M261.6,3.5L260.1,9.1L261.5,14.6L261.2,21.1L260.8,27L260,32.1L261.8,37M269.6,3.5L269.2,8.6L268.6,14.5L269.1,21.1L269.8,26.2L269.3,32.3L269.8,37M277.1,3.5L277.6,8.6L277.1,15L276.4,21L277.1,26.1L277.8,32.2L276,37M285.6,3.5L284.9,8.8L285.5,14.1L284.9,21.2L284.2,27.3L285.7,32.3L285.2,37M292.8,3.5L293.5,8.4L293.4,15.4L292.2,20.4L293.1,27.4L292,33.1L292.1,37M300.1,3.5L300.8,8.7L301,14.2L300.1,21.2L300.8,26.1L300.5,33.1L301.4,37M303,3.5L303,9.3L303,14.1L303,21L303,26.9L303,32.2L303,37M230,37L234.6,37L239.2,37L243.5,37L247.8,37L252.7,37L257.2,37L261.1,37L266.4,37L270.7,37L275,37L279.7,37L283.7,37L288.8,37L293.1,37L297.8,37L301.6,37L303,37M230,40.2L234.8,39.5L239.2,40.2L243.8,40L247.6,40.2L252.7,40.1L257.3,39.8L260.9,40L266.2,39.7L270.6,40.3L274.6,40L279.6,39.9L283.6,39.7L288.6,40.2L292.8,39.6L297.7,40.2L301.6,40L303,40.3M230,43.5L234.5,43.3L238.5,43.3L243.6,43.4L247.9,43.5L252.4,43.2L256.4,44L261.2,43.2L266,43.8L270,43.6L274.7,43.6L278.9,43.1L284.4,43.9L288.4,43.6L292.6,43.8L297.3,43.9L302.2,43.8L303,43.3M230,46.9L234,46.8L238.4,47.2L243.8,47.1L248.4,47.5L251.9,47.2L256.8,46.8L261.9,46.9L265.9,47.3L270.9,47.3L274.8,47.1L279,47.5L284.4,46.9L287.9,46.9L292.7,47.5L297.8,47.4L301.4,47.4L303,47.3M230.4,50.4L234,51L239.3,50.9L243.2,50.8L248.2,50.4L252.2,50.5L256.5,50.7L261,50.5L265.5,50.9L269.8,50.9L274.5,50.3L279.8,50.5L284.3,51.1L288.8,50.4L292.8,50.4L297.8,51L302,50.7L303,51M230,54.4L234,54.1L238.4,54.5L243.4,54L248.3,54.1L252.3,54L256.6,54.6L261.2,54.1L265.9,54.2L270.8,54L275.4,54L279.8,54.5L283.6,54.3L288.1,54.1L292.6,54.2L297.9,54.8L302.3,54L303,54.7M230,58.1L234.2,58.4L238.4,58.2L243.2,57.6L247.3,58.2L252.4,57.7L256.8,58.3L261.1,58L265.5,57.7L270.7,58.1L274.5,57.6L278.9,58L283.9,57.7L288.1,58L293.1,58.2L297.5,57.7L301.4,58.1L303,58.1M230,59.5L234.2,59.5L239.3,59.5L242.8,59.5L247.8,59.5L252.1,59.5L257.2,59.5L261,59.5L266,59.5L270.4,59.5L274.9,59.5L279.6,59.5L284.3,59.5L288.6,59.5L293.1,59.5L297.8,59.5L301.9,59.5L303,59.5M230,37L230,40.2L230,43.5L230,46.9L230.4,50.4L230,54.4L230,58.1L230,59.5M234.6,37L234.8,39.5L234.5,43.3L234,46.8L234,51L234,54.1L234.2,58.4L234.2,59.5M239.2,37L239.2,40.2L238.5,43.3L238.4,47.2L239.3,50.9L238.4,54.5L238.4,58.2L239.3,59.5M243.5,37L243.8,40L243.6,43.4L243.8,47.1L243.2,50.8L243.4,54L243.2,57.6L242.8,59.5M247.8,37L247.6,40.2L247.9,43.5L248.4,47.5L248.2,50.4L248.3,54.1L247.3,58.2L247.8,59.5M252.7,37L252.7,40.1L252.4,43.2L251.9,47.2L252.2,50.5L252.3,54L252.4,57.7L252.1,59.5M257.2,37L257.3,39.8L256.4,44L256.8,46.8L256.5,50.7L256.6,54.6L256.8,58.3L257.2,59.5M261.1,37L260.9,40L261.2,43.2L261.9,46.9L261,50.5L261.2,54.1L261.1,58L261,59.5M266.4,37L266.2,39.7L266,43.8L265.9,47.3L265.5,50.9L265.9,54.2L265.5,57.7L266,59.5M270.7,37L270.6,40.3L270,43.6L270.9,47.3L269.8,50.9L270.8,54L270.7,58.1L270.4,59.5M275,37L274.6,40L274.7,43.6L274.8,47.1L274.5,50.3L275.4,54L274.5,57.6L274.9,59.5M279.7,37L279.6,39.9L278.9,43.1L279,47.5L279.8,50.5L279.8,54.5L278.9,58L279.6,59.5M283.7,37L283.6,39.7L284.4,43.9L284.4,46.9L284.3,51.1L283.6,54.3L283.9,57.7L284.3,59.5M288.8,37L288.6,40.2L288.4,43.6L287.9,46.9L288.8,50.4L288.1,54.1L288.1,58L288.6,59.5M293.1,37L292.8,39.6L292.6,43.8L292.7,47.5L292.8,50.4L292.6,54.2L293.1,58.2L293.1,59.5M297.8,37L297.7,40.2L297.3,43.9L297.8,47.4L297.8,51L297.9,54.8L297.5,57.7L297.8,59.5M301.6,37L301.6,40L302.2,43.8L301.4,47.4L302,50.7L302.3,54L301.4,58.1L301.9,59.5M303,37L303,40.3L303,43.3L303,47.3L303,51L303,54.7L303,58.1L303,59.5" fill="none" stroke="#606060" stroke-width="0.44"/><path clip-path="url(#cIA)" d="M235.5,57.5L239.4,57.5L243.8,57.5L247.6,57.5L251.7,57.5L256,57.5L260.1,57.5L264,57.5L268.4,57.5L272.2,57.5L276.5,57.5L280.4,57.5L284.5,57.5L288.9,57.5L292.9,57.5L296.8,57.5M235.7,59.2L239.5,59.3L243.7,59.2L248,59.3L251.8,59.1L255.9,59.2L260.3,59.3L264.3,59.3L268.4,59L272.4,59.3L276.7,59.1L280.5,59.2L284.6,59.2L288.6,59.2L292.9,59L296.8,59.3M235.6,62.6L239.6,62.6L243.8,62.6L247.6,62.5L251.8,62.6L255.9,62.5L260.2,62.5L264.1,62.5L268.2,62.6L272.3,62.4L276.5,62.4L280.6,62.6L284.7,62.4L288.8,62.5L292.7,62.4L296.8,62.4M235.5,65.7L239.5,65.7L243.7,65.9L247.8,65.8L251.9,65.7L256.1,65.8L260.1,65.8L264.2,65.7L268.2,65.7L272.4,65.8L276.5,65.6L280.5,65.9L284.6,65.8L288.8,65.7L293.1,65.7L297,65.7M235.5,69.2L239.5,68.9L243.6,69.1L247.9,69L251.8,69.2L256.1,69L260,69L264.2,69.1L268.4,69.2L272.4,69.2L276.6,69.2L280.6,69.2L284.8,69.2L288.6,69.2L292.7,69.2L297,69.1M235.7,72.4L239.5,72.5L243.8,72.4L247.7,72.4L251.9,72.5L255.9,72.4L260.1,72.4L264.1,72.5L268.4,72.4L272.4,72.3L276.4,72.3L280.6,72.4L284.5,72.5L288.7,72.5L293,72.5L296.9,72.4M235.6,75.5L239.4,75.7L243.7,75.8L247.9,75.7L252.1,75.7L256,75.8L260,75.6L264.2,75.6L268.5,75.8L272.4,75.6L276.4,75.7L280.6,75.7L284.8,75.8L288.8,75.7L292.9,75.9L296.9,75.7M235.6,78.9L239.5,79.2L243.8,79L247.6,79.1L252,79.1L256.2,79.1L260,78.9L264.1,79L268.3,78.9L272.2,79L276.5,78.9L280.8,79L284.5,79L288.9,78.9L293,78.8L296.9,79.1M235.5,82.3L239.4,82.3L243.7,82.2L247.8,82.3L252.1,82.3L255.9,82.2L259.9,82.4L264,82.2L268.1,82.3L272.5,82.3L276.6,82.1L280.4,82.4L284.6,82.4L288.7,82.2L292.8,82.2L297,82.3M235.5,85.6L239.5,85.4L243.8,85.6L248,85.6L251.9,85.5L255.8,85.7L260.2,85.5L264.3,85.7L268.2,85.6L272.6,85.6L276.7,85.5L280.5,85.7L284.6,85.5L288.9,85.6L293,85.5L296.8,85.5M235.5,88.1L239.5,88.1L243.5,88.1L247.7,88.1L251.7,88.1L256.1,88.1L260,88.1L264.1,88.1L268.1,88.1L272.3,88.1L276.6,88.1L280.5,88.1L284.5,88.1L288.9,88.1L292.7,88.1L297,88.1M235.5,57.5L235.7,59.2L235.6,62.6L235.5,65.7L235.5,69.2L235.7,72.4L235.6,75.5L235.6,78.9L235.5,82.3L235.5,85.6L235.5,88.1M239.4,57.5L239.5,59.3L239.6,62.6L239.5,65.7L239.5,68.9L239.5,72.5L239.4,75.7L239.5,79.2L239.4,82.3L239.5,85.4L239.5,88.1M243.8,57.5L243.7,59.2L243.8,62.6L243.7,65.9L243.6,69.1L243.8,72.4L243.7,75.8L243.8,79L243.7,82.2L243.8,85.6L243.5,88.1M247.6,57.5L248,59.3L247.6,62.5L247.8,65.8L247.9,69L247.7,72.4L247.9,75.7L247.6,79.1L247.8,82.3L248,85.6L247.7,88.1M251.7,57.5L251.8,59.1L251.8,62.6L251.9,65.7L251.8,69.2L251.9,72.5L252.1,75.7L252,79.1L252.1,82.3L251.9,85.5L251.7,88.1M256,57.5L255.9,59.2L255.9,62.5L256.1,65.8L256.1,69L255.9,72.4L256,75.8L256.2,79.1L255.9,82.2L255.8,85.7L256.1,88.1M260.1,57.5L260.3,59.3L260.2,62.5L260.1,65.8L260,69L260.1,72.4L260,75.6L260,78.9L259.9,82.4L260.2,85.5L260,88.1M264,57.5L264.3,59.3L264.1,62.5L264.2,65.7L264.2,69.1L264.1,72.5L264.2,75.6L264.1,79L264,82.2L264.3,85.7L264.1,88.1M268.4,57.5L268.4,59L268.2,62.6L268.2,65.7L268.4,69.2L268.4,72.4L268.5,75.8L268.3,78.9L268.1,82.3L268.2,85.6L268.1,88.1M272.2,57.5L272.4,59.3L272.3,62.4L272.4,65.8L272.4,69.2L272.4,72.3L272.4,75.6L272.2,79L272.5,82.3L272.6,85.6L272.3,88.1M276.5,57.5L276.7,59.1L276.5,62.4L276.5,65.6L276.6,69.2L276.4,72.3L276.4,75.7L276.5,78.9L276.6,82.1L276.7,85.5L276.6,88.1M280.4,57.5L280.5,59.2L280.6,62.6L280.5,65.9L280.6,69.2L280.6,72.4L280.6,75.7L280.8,79L280.4,82.4L280.5,85.7L280.5,88.1M284.5,57.5L284.6,59.2L284.7,62.4L284.6,65.8L284.8,69.2L284.5,72.5L284.8,75.8L284.5,79L284.6,82.4L284.6,85.5L284.5,88.1M288.9,57.5L288.6,59.2L288.8,62.5L288.8,65.7L288.6,69.2L288.7,72.5L288.8,75.7L288.9,78.9L288.7,82.2L288.9,85.6L288.9,88.1M292.9,57.5L292.9,59L292.7,62.4L293.1,65.7L292.7,69.2L293,72.5L292.9,75.9L293,78.8L292.8,82.2L293,85.5L292.7,88.1M296.8,57.5L296.8,59.3L296.8,62.4L297,65.7L297,69.1L296.9,72.4L296.9,75.7L296.9,79.1L297,82.3L296.8,85.5L297,88.1" fill="none" stroke="#606060" stroke-width="0.44"/><path clip-path="url(#cMO)" d="M243.4,84L244.9,84L248.4,84L252.3,84.3L256.6,84L259.7,84L263.4,84.2L266.9,84L271.3,84L275.4,84L278.9,84L282,84L285.4,84L290.3,84L293.7,84L297.2,84L300.8,84L303.8,84M243.4,86.6L245.7,86.8L248.9,87.8L253.2,87.7L257,86.6L259.8,86.4L264.1,87.4L267.3,87L271.5,87.5L274.5,87.7L278.4,87.4L281.8,86.6L286.7,87.5L290.1,86.4L292.7,86.6L296.6,86.9L300.6,86.4L304.2,87.4M243.4,91.2L245.5,91L248.6,90.6L253,90.4L255.6,91.2L260.6,90.3L263.1,91.2L267.7,90L270.8,90.1L275.4,90.2L279.3,91L281.7,91L285.9,91L290.3,90.3L292.8,91.3L297,91.3L301.1,91L305.1,90.9M243.4,93.5L245.7,94L249.1,94.8L252.1,94.6L255.7,94.5L260.6,93.8L263.9,94.9L267.8,94.2L270.8,93.5L274.7,94L278.2,93.9L281.7,94.5L286.3,93.8L289.3,94.2L293.3,94.8L296.9,93.8L301.5,93.6L304.6,93.9M243.4,97.7L245.8,97.1L249.3,97.8L252.7,98.1L257,97.1L259.8,97.4L263.4,97L267.2,97.2L271.6,97.6L274.3,97.4L278.6,97.4L281.8,97L285.2,98.4L290.1,97L293.8,98.4L297.2,97.1L300.8,97.6L304,97.7M243.4,101.8L245.6,101.4L249.7,101.4L252.3,100.8L255.8,100.4L260.6,101.7L263.5,100.7L267.8,101.7L271.9,100.6L275.4,101.7L279,100.9L281.8,101.7L285.7,101L289.8,101L294,100.8L296.4,101.3L301,101.6L304.9,101.8M243.4,104.6L245.3,104.1L248.7,104.8L252.1,104.9L255.9,104.6L260.9,104L263.1,104.6L267,105L270.4,105.2L275.5,105.1L278.5,104.3L282.6,104.7L285.9,104.4L289.6,104.9L294,105.3L296.6,104.3L300.7,104.8L304.3,104.2M243.4,107.9L245.3,108.9L249.7,108.7L253.5,108.9L256.6,108.6L259.4,108.4L264,107.8L267.7,108.9L271.2,108.4L274.6,107.9L279.3,107.4L281.8,108.4L286,107.5L290,108L293.6,108L297.2,108.3L300.7,107.6L304,108.8M243.4,111.1L245.9,111.3L248.4,111.7L252.3,111.6L256.5,111.2L260.3,111.1L263.9,111.8L266.9,111.5L270.5,111.6L275.5,111.7L279,112.1L281.7,112.4L286.4,111L290.3,111.5L292.9,112.4L297.2,112.1L300.2,112.1L303.8,111.3M243.4,114.4L245.5,114.7L248.7,115.5L252.6,115.8L256.6,115.7L260.2,115.8L264.4,114.6L267.9,114.9L271.7,115.4L275.5,114.6L278.4,115.5L283.1,115.5L285.3,115.3L289.1,115.2L293.9,114.6L297.8,115.4L300.4,114.7L304.5,115.7M243.4,118.1L244.6,118.1L249.5,118.2L252.8,118.3L256.7,118.5L259.6,119.2L263.9,118.9L268,119.3L270.4,118.4L274.4,118.7L279.2,119.1L281.6,118.2L286.6,118.9L289.6,118.6L292.9,119.2L297,119.2L301,118L304.3,118.2M243.4,122.3L244.6,121.6L248.8,122.1L252.9,122L256.2,121.4L260.3,121.9L263.1,122.1L268.3,121.5L270.7,122.4L274.6,121.8L278.6,121.8L282.4,122.2L286.8,122.9L289,122.2L293.9,122.7L297.6,122.4L301.1,121.9L304.2,122.6M243.4,126.3L245.6,125.4L249.5,126L252.8,125.9L256.2,125.7L260,125L263.6,125.4L268.3,125.6L271,125.3L274.5,125.4L278,124.9L282.9,125.6L285.9,125.8L289.4,125.1L292.7,125.4L296.8,126L300.9,126.3L304.3,126.3M243.4,128.3L244.8,128.3L249.8,128.3L253.2,128.3L257,128.3L260.1,128.3L263.5,128.3L266.8,128.3L270.9,128.3L274.5,128.3L278.1,128.3L282.9,128.3L285.5,128.3L290.5,128.3L292.8,128.3L297.7,128.3L300.2,128.3L304.6,128.3M243.4,84L243.4,86.6L243.4,91.2M244.3,91.1L243.4,93.5L243.4,97.7L243.4,101.8L243.4,104.6L243.4,107.9L243.4,111.1M244.6,111.2L243.4,114.4M244.6,114.6L243.4,118.1L243.4,122.3L243.4,126.3L243.4,128.3M244.9,84L245.7,86.8M247.8,87.5L245.5,91L245.7,94L245.8,97.1M247.7,97.5L245.6,101.4L245.3,104.1L245.3,108.9M246.9,108.8L245.9,111.3M247.4,111.5L245.5,114.7M247.5,115.2L244.6,118.1L244.6,121.6L245.6,125.4L244.8,128.3M248.4,84L248.9,87.8L248.6,90.6L249.1,94.8L249.3,97.8L249.7,101.4L248.7,104.8L249.7,108.7L248.4,111.7L248.7,115.5L249.5,118.2L248.8,122.1L249.5,126L249.8,128.3M252.3,84.3L253.2,87.7M254.4,87.4L253,90.4L252.1,94.6L252.7,98.1L252.3,100.8L252.1,104.9L253.5,108.9M255.4,108.7L252.3,111.6M253.6,111.5L252.6,115.8M253.9,115.7L252.8,118.3L252.9,122L252.8,125.9M255.1,125.8L253.2,128.3M257.7,84L257,86.6L255.6,91.2L255.7,94.5M257.2,94.3L257,97.1L255.8,100.4M259.1,101.3L255.9,104.6L256.6,108.6L256.5,111.2L256.6,115.7L256.7,118.5L256.2,121.4L256.2,125.7L257,128.3M259.7,84L259.8,86.4M262.2,87L260.6,90.3L260.6,93.8L259.8,97.4M261.7,97.2L260.6,101.7L260.9,104L259.4,108.4L260.3,111.1L260.2,115.8M261.9,115.3L259.6,119.2L260.3,121.9L260,125M261.4,125.1L260.1,128.3M263.4,84.2L264.1,87.4L263.1,91.2L263.9,94.9M265.9,94.5L263.4,97M265.8,97.1L263.5,100.7L263.1,104.6L264,107.8L263.9,111.8L264.4,114.6L263.9,118.9L263.1,122.1L263.6,125.4L263.5,128.3M266.9,84L267.3,87L267.7,90L267.8,94.2L267.2,97.2L267.8,101.7M270.5,101L267,105L267.7,108.9L266.9,111.5L267.9,114.9M270.3,115.2L268,119.3L268.3,121.5L268.3,125.6M269.3,125.5L266.8,128.3M274,84L271.5,87.5M273.3,87.6L270.8,90.1M272.5,90.1L270.8,93.5L271.6,97.6M272.8,97.5L271.9,100.6L270.4,105.2L271.2,108.4L270.5,111.6L271.7,115.4M273.2,115.1L270.4,118.4L270.7,122.4L271,125.3M272.8,125.3L270.9,128.3M275.4,84L274.5,87.7M275.7,87.6L275.4,90.2L274.7,94L274.3,97.4L275.4,101.7M277.2,101.3L275.5,105.1M276.9,104.7L274.6,107.9M277.3,107.6L275.5,111.7M277.6,111.9L275.5,114.6L274.4,118.7M276.5,118.9L274.6,121.8L274.5,125.4L274.5,128.3M281,84L278.4,87.4L279.3,91L278.2,93.9L278.6,97.4M279.9,97.3L279,100.9M279.9,101.1L278.5,104.3L279.3,107.4L279,112.1L278.4,115.5L279.2,119.1M280.6,118.6L278.6,121.8L278,124.9L278.1,128.3M282,84L281.8,86.6L281.7,91L281.7,94.5L281.8,97L281.8,101.7L282.6,104.7L281.8,108.4L281.7,112.4L283.1,115.5L281.6,118.2L282.4,122.2M285.5,122.7L282.9,125.6M284.6,125.7L282.9,128.3M285.4,84L286.7,87.5L285.9,91L286.3,93.8M287.5,93.9L285.2,98.4M288.4,97.5L285.7,101L285.9,104.4L286,107.5M288.3,107.8L286.4,111L285.3,115.3L286.6,118.9L286.8,122.9L285.9,125.8L285.5,128.3M290.3,84L290.1,86.4L290.3,90.3L289.3,94.2L290.1,97L289.8,101M292.1,100.8L289.6,104.9L290,108L290.3,111.5L289.1,115.2L289.6,118.6L289,122.2L289.4,125.1L290.5,128.3M293.7,84L292.7,86.6L292.8,91.3M295.1,91.3L293.3,94.8L293.8,98.4L294,100.8L294,105.3L293.6,108L292.9,112.4L293.9,114.6M295.3,114.9L292.9,119.2L293.9,122.7L292.7,125.4L292.8,128.3M297.2,84L296.6,86.9M298.1,86.7L297,91.3L296.9,93.8L297.2,97.1L296.4,101.3L296.6,104.3L297.2,108.3L297.2,112.1M298.6,112.1L297.8,115.4L297,119.2L297.6,122.4M298.8,122.2L296.8,126L297.7,128.3M300.8,84L300.6,86.4L301.1,91L301.5,93.6L300.8,97.6M302.3,97.6L301,101.6L300.7,104.8L300.7,107.6L300.2,112.1L300.4,114.7L301,118L301.1,121.9M302.8,122.3L300.9,126.3L300.2,128.3M303.8,84L304.2,87.4L305.1,90.9L304.6,93.9M304.6,93.9L304,97.7L304.9,101.8M304.9,101.8L304.3,104.2L304,108.8L303.8,111.3L304.5,115.7M304.5,115.7L304.3,118.2M304.3,118.2L304.2,122.6L304.3,126.3M304.3,126.3L304.6,128.3" fill="none" stroke="#6c6c6c" stroke-width="0.4"/><path clip-path="url(#cAR)" d="M254,121.7L256.7,121.7L260.8,121.7L265.9,121.7L269.5,121.7L274.3,121.9L277.8,121.9L283.2,121.7L287.4,121.7L290.4,121.7L295.4,121.7L299.9,121.8L301.6,121.7M254,124.9L256.9,125.6L261.1,124.9L266.4,124.8L269.8,124.9L274.8,125.3L279,124.7L281.8,125.3L287.2,125.5L291.9,124.2L295,124.1L300.6,124.1L301.6,125.4M254,128L257.3,129.2L261.2,128L265.9,128.7L270,129.8L274.8,129.6L277.7,128.5L282.8,127.9L288.1,128.4L290.8,128.5L295.1,129.5L300.1,128.8L301.6,128M254,133.4L257.6,133.4L260.7,132.1L264.6,132.8L269.6,132.7L274.1,132.9L278.2,133.3L282.1,133.5L287.2,131.9L290.9,132.8L295.4,132.9L299.6,132.3L301.6,132.3M254,137.2L257.1,136.5L262.2,136.5L266.4,135.8L269.7,136.9L273.2,137.3L277.5,136.8L282.1,137.4L287.2,137.2L291.3,137L296,136.2L299.3,137.3L301.6,137.4M254,139.7L256.1,141.1L262.2,140.4L265.9,140.1L270.7,140.9L273.4,139.7L278.9,139.6L283.5,140.1L286.5,140.7L290.9,140.6L294.9,141.3L299.6,141.2L301.6,141.1M254,144.2L255.9,144.2L261.5,143.9L265.6,143.6L269.8,144.9L274,144.8L277.6,145.1L281.9,145.3L288.1,145.3L291.4,144L295.3,144.9L299.9,145.3L301.6,144.4M254,148.5L257,147.5L260.5,147.9L266.4,149L269.3,149.2L273.1,148.5L279.4,148L283.7,148.6L286.1,148L291.2,147.8L296.2,147.7L300.6,147.9L301.6,148.4M254,152.3L257.6,152.4L261.2,151.3L265.6,151.4L270.2,151.5L274.3,151.9L278.2,152.5L282,151.6L288,151.9L292.1,153L295.6,151.5L299.1,153L301.6,152.2M254,155.4L256.9,155.5L261.3,155.9L265.3,155.5L269.6,155.5L273.3,155.6L279.2,155.9L283.6,155.2L288,155.9L292,155.9L296,155.6L300.5,155.4L301.6,155.2M254,121.7L254,124.9L254,128L254,133.4L254,137.2M255.6,136.9L254,139.7M255.1,140.5L254,144.2L254,148.5L254,152.3M255.4,152.4L254,155.4M256.7,121.7L256.9,125.6M259.2,125.2L257.3,129.2L257.6,133.4L257.1,136.5L256.1,141.1L255.9,144.2L257,147.5L257.6,152.4M260,151.7L256.9,155.5M260.8,121.7L261.1,124.9M263.2,124.8L261.2,128L260.7,132.1L262.2,136.5M264,136.2L262.2,140.4M263.6,140.2L261.5,143.9M263.3,143.8L260.5,147.9L261.2,151.3L261.3,155.9M265.9,121.7L266.4,124.8L265.9,128.7L264.6,132.8L266.4,135.8L265.9,140.1L265.6,143.6M267.9,144.3L266.4,149L265.6,151.4L265.3,155.5M269.5,121.7L269.8,124.9L270,129.8M273.3,129.6L269.6,132.7L269.7,136.9L270.7,140.9M272.4,140.1L269.8,144.9L269.3,149.2L270.2,151.5L269.6,155.5M274.3,121.9L274.8,125.3L274.8,129.6L274.1,132.9L273.2,137.3L273.4,139.7L274,144.8L273.1,148.5L274.3,151.9L273.3,155.6M281.5,121.8L279,124.7L277.7,128.5L278.2,133.3L277.5,136.8M279.2,137.1L278.9,139.6L277.6,145.1M279.8,145.2L279.4,148L278.2,152.5L279.2,155.9M283.2,121.7L281.8,125.3L282.8,127.9L282.1,133.5L282.1,137.4L283.5,140.1L281.9,145.3L283.7,148.6M285,148.3L282,151.6L283.6,155.2M287.4,121.7L287.2,125.5L288.1,128.4L287.2,131.9M289,132.3L287.2,137.2M288.6,137.1L286.5,140.7L288.1,145.3L286.1,148L288,151.9L288,155.9M292.6,121.7L291.9,124.2L290.8,128.5L290.9,132.8L291.3,137M293.2,136.7L290.9,140.6L291.4,144L291.2,147.8L292.1,153L292,155.9M295.4,121.7L295,124.1M298.6,124.1L295.1,129.5M297.1,129.2L295.4,132.9L296,136.2L294.9,141.3M298,141.2L295.3,144.9L296.2,147.7L295.6,151.5L296,155.6M299.9,121.8L300.6,124.1L300.1,128.8L299.6,132.3M300.9,132.3L299.3,137.3M300.5,137.4L299.6,141.2M300.3,141.2L299.9,145.3L300.6,147.9L299.1,153L300.5,155.4M301.6,121.7L301.6,125.4M301.6,125.4L301.6,128L301.6,132.3L301.6,137.4L301.6,141.1L301.6,144.4L301.6,148.4L301.6,152.2M301.6,152.2L301.6,155.2" fill="none" stroke="#707070" stroke-width="0.4"/><path clip-path="url(#cLA)" d="M259.3,153.7L261.3,153.7L266.4,153.9L270.4,153.7L276,153.7L280,153.7L283.7,153.7L288.6,153.8L292.9,153.7L295.6,153.7L300.3,154L306.3,153.7M259.3,157.1L260.5,156.7L266.6,157.3L269.8,157.6L274.3,157.1L279,158L284,157.7L288.4,156.7L293.5,157.4L297.3,156.5L300.4,157.1L306.3,157.6M259.3,160.2L261.6,161.8L265.2,161.5L269.6,160.6L273.7,160.5L278.9,162L284.7,160.3L287.5,162L291.6,160.6L296.6,160.1L300.6,160.7L305.3,162M259.3,164.3L262.6,164.9L266.8,165.3L271.1,164.6L273.9,165.5L279.1,165.1L284,165.5L287.4,164.7L293.4,165L296.3,165.3L300.6,165.6L304.5,165.7M259.3,168.6L262.7,168.4L265.4,168L270.5,169.5L275.2,168.8L279.9,168.1L283.1,169.3L289.1,169.3L292.9,169.6L296.5,170L301.8,168.6L305.3,169.7M259.3,172.3L262.5,173L266,173.4L271.4,172.2L274.4,172L279,173L284.5,173.3L288.2,172.8L292.6,172.5L297.6,173.6L302,172.2L306,173.5M259.3,177.9L262.6,177.5L266.8,177.3L271.3,176.1L275.3,177.4L279.5,176.5L282.5,177.2L288.8,176.5L291.7,176.4L295.8,177.4L302.4,177.6L305.2,177.4M259.3,181.7L261.2,179.9L266.3,180.2L269.8,180L274.7,181.1L279.9,179.9L284.4,180.1L287.3,181.3L292,180.6L297,180.3L301.9,180.3L306.3,181.7M259.3,183.9L262.3,183.9L266,184.8L269.3,185.3L275.3,185.2L278.9,185L283.8,184.4L288.9,186.1L293.1,186L296.4,186.1L300.1,184.9L304.7,184.9M259.3,189.4L261.5,188.6L265.2,188.8L269.8,188.3L275.4,189L279,188.3L284.1,188.3L287.4,189.1L292.9,190L297.4,190L302.2,189.5L306.1,188M259.3,190.7L262.5,190.7L266.3,190.7L270,190.7L275.1,190.7L278.7,190.7L282.8,190.7L289,190.7L292.3,190.7L295.8,190.7L301.9,190.7L306.3,190.7M259.3,153.7L259.3,157.1L259.3,160.2L259.3,164.3M260.4,164.5L259.3,168.6L259.3,172.3L259.3,177.9M260.6,177.7L259.3,181.7M260.5,180.5L259.3,183.9L259.3,189.4L259.3,190.7M261.3,153.7L260.5,156.7L261.6,161.8L262.6,164.9L262.7,168.4L262.5,173M263.6,173.1L262.6,177.5M264.8,177.4L261.2,179.9L262.3,183.9M264.6,184.5L261.5,188.6L262.5,190.7M269,153.8L266.6,157.3L265.2,161.5M267.1,161.1L266.8,165.3L265.4,168L266,173.4L266.8,177.3L266.3,180.2M267.7,180.1L266,184.8L265.2,188.8L266.3,190.7M270.4,153.7L269.8,157.6M271.5,157.4L269.6,160.6L271.1,164.6L270.5,169.5L271.4,172.2L271.3,176.1L269.8,180M272.7,180.6L269.3,185.3M272.3,185.2L269.8,188.3L270,190.7M276,153.7L274.3,157.1M276.9,157.6L273.7,160.5L273.9,165.5L275.2,168.8M278.4,168.3L274.4,172L275.3,177.4M276.9,177L274.7,181.1L275.3,185.2M277,185.1L275.4,189L275.1,190.7M280,153.7L279,158L278.9,162M280.9,161.4L279.1,165.1L279.9,168.1L279,173M280.7,173.1L279.5,176.5M281.5,177L279.9,179.9M282.5,180L278.9,185L279,188.3L278.7,190.7M283.7,153.7L284,157.7M285.3,157.4L284.7,160.3L284,165.5M286.4,164.9L283.1,169.3L284.5,173.3M286.8,173L282.5,177.2M285.7,176.8L284.4,180.1M286.2,180.8L283.8,184.4L284.1,188.3L282.8,190.7M288.6,153.8L288.4,156.7L287.5,162L287.4,164.7L289.1,169.3L288.2,172.8L288.8,176.5L287.3,181.3M288.8,181L288.9,186.1L287.4,189.1L289,190.7M294.6,153.7L293.5,157.4M295.9,156.8L291.6,160.6L293.4,165L292.9,169.6M294.9,169.8L292.6,172.5M295,173L291.7,176.4M294.5,177.1L292,180.6L293.1,186L292.9,190M295.6,190L292.3,190.7M295.6,153.7L297.3,156.5M298.6,156.8L296.6,160.1L296.3,165.3L296.5,170M299.4,169.2L297.6,173.6L295.8,177.4L297,180.3M298.6,180.3L296.4,186.1M298.5,185.4L297.4,190L295.8,190.7M300.3,154L300.4,157.1L300.6,160.7L300.6,165.6L301.8,168.6L302,172.2L302.4,177.6L301.9,180.3L300.1,184.9L302.2,189.5L301.9,190.7M306.3,153.7L306.3,157.6L305.3,162L304.5,165.7L305.3,169.7M305.3,169.7L306,173.5L305.2,177.4L306.3,181.7L304.7,184.9L306.1,188L306.3,190.7" fill="none" stroke="#707070" stroke-width="0.4"/><path clip-path="url(#cMS)" d="M282,135.5L285.8,135.5L289.4,135.5L293.1,135.5L296,135.5L299.4,135.5L304.7,135.5L307.5,135.5L312.1,135.5L315.8,135.5L315.8,135.5M281.4,138.5L284.8,138.4L289.6,137.8L292.7,138.6L296.5,139L300.1,139L304.4,139.1L307.1,137.9L311.3,139L314.6,137.9L315.8,139.1M281.4,141.8L285.3,142.2L289.2,142.3L292.2,141.5L295.6,142.2L299.7,141.5L304.8,142.1L308,142.2L311.8,142.2L315.1,141.2L315.8,141.2M281.4,145L284.4,145.5L289.6,145.8L292.3,145.9L295.9,144.9L299.9,145.4L304.4,145.4L308.2,144.9L312.4,145.3L315.8,144.8L315.8,145.1M281.8,149.6L285.3,148.8L288,148.6L293.3,148.6L296.7,149.3L300.5,148.6L303.4,148.5L308.6,148.9L311.9,149.2L315,148.4L315.8,149.7M281.4,153.5L284.8,153.1L288.2,153.2L292.2,152.5L296.5,152.1L299.8,153.2L303.7,152.5L308.3,152.3L311.1,152.3L315.2,152.5L315.8,152.7M281.9,155.6L285.3,156.9L288.4,155.6L292.5,155.7L296.4,156.7L299.6,155.7L304,155.8L307.4,156.2L311,155.6L315.2,156.3L315.8,156.4M281.4,159.5L285.4,160L289.5,160.7L293.2,159.3L297.2,160L299.8,159.4L304.6,159.5L307.1,159.6L312.3,159.9L315.8,159.2L315.8,159.6M281.4,163.8L284.8,162.9L289.6,163.5L292.1,162.7L296.7,163.5L299.4,163.5L304.4,163.6L307.4,163.5L311.8,163.8L314.8,164L315.8,163.9M281.8,166.9L285.7,166.6L288.4,167.3L293.3,166.5L296,166.4L300.1,166.6L303.5,167.5L308,167.8L311.5,167.4L314.6,167.8L315.8,167.1M281.4,171.4L285,171.5L289,170.3L293.2,170.3L297.3,170.7L299.8,171.5L303.7,170.6L307.6,171L310.8,170.5L314.9,171.2L315.8,170.9M281.4,174.3L285.1,174.7L288.2,173.9L292,175.1L295.8,173.7L300.3,174.5L304.7,173.6L307.4,173.8L311.8,174.2L315.3,174.9L315.8,174.9M282,177.6L285.8,177.8L288.1,178.6L292,177.2L296.1,177.6L301,178.5L303.9,178L308.4,178.4L311.9,177.9L314.8,177.5L315.8,178.1M281.7,181.8L285.8,181L288.1,181.8L292.8,181L296.8,181.1L299.8,181.3L304.1,181.8L307.1,181.8L311.8,181.5L315.7,181.8L315.8,181.5M282,135.5L281.4,138.5L281.4,141.8L281.4,145M283.4,145.3L281.8,149.6L281.4,153.5M283,153.3L281.9,155.6L281.4,159.5M283.3,159.7L281.4,163.8L281.8,166.9L281.4,171.4M283.6,171.5L281.4,174.3L282,177.6L281.7,181.8M287.2,135.5L284.8,138.4M286.8,138.1L285.3,142.2M286.7,142.3L284.4,145.5L285.3,148.8L284.8,153.1M286.6,153.1L285.3,156.9L285.4,160L284.8,162.9L285.7,166.6L285,171.5L285.1,174.7M286.7,174.3L285.8,177.8M287.1,178.2L285.8,181M289.4,135.5L289.6,137.8L289.2,142.3L289.6,145.8L288,148.6L288.2,153.2L288.4,155.6L289.5,160.7L289.6,163.5M291.1,163L288.4,167.3L289,170.3L288.2,173.9L288.1,178.6L288.1,181.8M293.1,135.5L292.7,138.6L292.2,141.5M293.3,141.7L292.3,145.9L293.3,148.6L292.2,152.5L292.5,155.7M293.7,156L293.2,159.3M295.5,159.7L292.1,162.7M293.9,163.1L293.3,166.5L293.2,170.3L292,175.1L292,177.2M293.4,177.3L292.8,181M296,135.5L296.5,139M298.1,139L295.6,142.2L295.9,144.9L296.7,149.3L296.5,152.1L296.4,156.7L297.2,160M298.1,159.8L296.7,163.5M297.6,163.5L296,166.4L297.3,170.7L295.8,173.7L296.1,177.6L296.8,181.1M299.4,135.5L300.1,139L299.7,141.5M303.1,142L299.9,145.4L300.5,148.6M301.6,148.6L299.8,153.2L299.6,155.7L299.8,159.4L299.4,163.5M302.5,163.5L300.1,166.6L299.8,171.5M301.9,171L300.3,174.5M302.8,174L301,178.5L299.8,181.3M305.6,135.5L304.4,139.1L304.8,142.1L304.4,145.4M305.8,145.2L303.4,148.5L303.7,152.5M306.2,152.4L304,155.8M305.4,156L304.6,159.5L304.4,163.6L303.5,167.5L303.7,170.6M306,170.8L304.7,173.6M305.8,173.7L303.9,178L304.1,181.8M307.5,135.5L307.1,137.9L308,142.2M309.6,142.2L308.2,144.9L308.6,148.9L308.3,152.3M309.4,152.3L307.4,156.2L307.1,159.6L307.4,163.5L308,167.8L307.6,171L307.4,173.8L308.4,178.4L307.1,181.8M314.1,135.5L311.3,139M312.3,138.6L311.8,142.2L312.4,145.3M314.7,144.9L311.9,149.2L311.1,152.3L311,155.6M312.5,155.9L312.3,159.9L311.8,163.8L311.5,167.4L310.8,170.5L311.8,174.2L311.9,177.9L311.8,181.5M315.8,135.5L314.6,137.9L315.1,141.2L315.8,144.8L315,148.4M315.3,149L315.2,152.5L315.2,156.3L315.8,159.2L314.8,164L314.6,167.8L314.9,171.2L315.3,174.9L314.8,177.5L315.7,181.8M315.8,135.5L315.8,139.1L315.8,141.2L315.8,145.1M315.8,145.1L315.8,149.7L315.8,152.7M315.8,152.7L315.8,156.4L315.8,159.6L315.8,163.9M315.8,163.9L315.8,167.1L315.8,170.9L315.8,174.9M315.8,174.9L315.8,178.1M315.8,178.1L315.8,181.5" fill="none" stroke="#707070" stroke-width="0.4"/><path clip-path="url(#cTN)" d="M293.6,120.3L295.7,120.3L299.6,120.3L302.2,120.3L306.4,120.3L308.9,120.3L312,120.3L315,120.3L319.1,120.3L322.6,120.3L325.9,120.3L328,120.3L331.9,120.3L334.2,120.3L338.7,120.3L341.7,120.3L344,120.3L347.5,120.3L350.2,120.3L353.7,120.3L357.6,120.3L359.9,120.3L364.1,120.3L366.9,120.3L370.4,120.3L373.8,120.3L374.8,120.3M293.7,122L296.1,122.2L299.3,122.2L302.1,122L306.6,122.3L309.4,123.1L312.8,122L316.2,123L319.5,122.8L322.4,123L324.8,122.7L328.2,123L331,122.5L334.5,123L337.7,123L341.7,123.1L343.8,123.2L348,122.7L351,121.6L354.6,122.5L357.1,122.2L360.8,122.9L364.2,121.9L366.5,122L369.3,122.1L372.4,123L374.8,121.7M293.6,126.4L295.9,125.9L299.4,126.5L303.5,125.6L306.2,126.6L309.1,126.6L312.7,125.6L316.2,126.1L318.1,126.1L322.5,126L325.1,125.8L329,126.2L331.1,125.7L334.5,126.7L338.3,125.3L341.8,125.1L344.5,125.8L347.9,125.8L350.1,126L354.5,126.4L356.9,125.5L360.8,126.5L363.1,126.6L367.6,125.8L369.8,126.3L373.9,125.4L374.8,125.6M293.6,128.9L296.4,129.4L299.8,128.8L303.5,130.3L306.1,130L308.7,130.2L312.4,129.9L316.2,129.2L319.4,128.9L321.2,129.4L325.8,130.1L329.1,129.5L332.3,129.5L334.2,129.7L338.4,129.3L341.3,129L344,129.3L347.6,129.4L350.1,128.6L353.7,129.8L357.6,129L360,129.5L363,129.6L367.4,128.9L370.1,129.8L373.6,129.8L374.8,129M293.7,133.7L295.6,133.7L299.5,132.2L302.1,133.5L306.2,132.3L309.1,133.2L313.2,132.7L316,132.5L318.3,132.3L321.8,133.1L324.8,132.3L327.9,132.2L331.1,132.6L334.8,132.4L337.9,132.8L341.9,132.9L345.1,132.9L347.1,133.1L350.2,132.4L353.3,133.3L357.9,132.8L360.1,132.8L363.3,133.3L366.6,132.3L370.5,133.1L372.4,133.5L374.8,132.7M293.6,137.2L296.2,136.3L299.2,136.5L303,136.8L306.7,135.8L308.9,137.1L312.8,136.6L315.8,136.2L319.5,136.5L321.8,135.9L324.5,137.1L328.8,135.6L331.3,136.4L334.8,136.2L338.6,136.2L341.2,137.2L344.6,136.4L347.3,136.2L350.9,136.9L353.6,136.2L357,136.2L361,136.5L363.2,136.1L367.3,135.8L370.3,135.6L372.7,135.7L374.8,135.8M294.3,120.3L293.7,122L293.6,126.4L293.6,128.9L293.7,133.7L293.6,137.2M295.7,120.3L296.1,122.2L295.9,125.9M298.2,126.3L296.4,129.4L295.6,133.7M297.9,132.8L296.2,136.3M299.6,120.3L299.3,122.2M301.2,122.1L299.4,126.5L299.8,128.8L299.5,132.2L299.2,136.5M303.7,120.3L302.1,122M304.8,122.1L303.5,125.6L303.5,130.3M304.4,130.2L302.1,133.5M304.3,132.8L303,136.8M306.4,120.3L306.6,122.3L306.2,126.6L306.1,130L306.2,132.3L306.7,135.8M311,120.3L309.4,123.1L309.1,126.6L308.7,130.2M310.1,130.1L309.1,133.2M310.9,132.9L308.9,137.1M313.5,120.3L312.8,122L312.7,125.6M314.4,125.8L312.4,129.9L313.2,132.7L312.8,136.6M315,120.3L316.2,123L316.2,126.1L316.2,129.2L316,132.5L315.8,136.2M319.1,120.3L319.5,122.8L318.1,126.1M319.7,126L319.4,128.9L318.3,132.3L319.5,136.5M322.6,120.3L322.4,123L322.5,126L321.2,129.4M324.1,129.9L321.8,133.1L321.8,135.9M325.9,120.3L324.8,122.7L325.1,125.8L325.8,130.1L324.8,132.3L324.5,137.1M328,120.3L328.2,123L329,126.2L329.1,129.5L327.9,132.2L328.8,135.6M331.9,120.3L331,122.5L331.1,125.7L332.3,129.5L331.1,132.6L331.3,136.4M334.2,120.3L334.5,123L334.5,126.7M336.9,125.8L334.2,129.7L334.8,132.4L334.8,136.2M340.7,120.3L337.7,123L338.3,125.3M340.4,125.2L338.4,129.3L337.9,132.8L338.6,136.2M341.7,120.3L341.7,123.1L341.8,125.1M343.5,125.5L341.3,129M342.4,129.1L341.9,132.9M344,132.9L341.2,137.2M344,120.3L343.8,123.2L344.5,125.8L344,129.3L345.1,132.9M346.1,133L344.6,136.4M349,120.3L348,122.7L347.9,125.8L347.6,129.4L347.1,133.1L347.3,136.2M350.2,120.3L351,121.6L350.1,126L350.1,128.6L350.2,132.4L350.9,136.9M353.7,120.3L354.6,122.5L354.5,126.4L353.7,129.8M356,129.3L353.3,133.3M355.9,133L353.6,136.2M357.6,120.3L357.1,122.2L356.9,125.5L357.6,129M358.9,129.2L357.9,132.8L357,136.2M359.9,120.3L360.8,122.9M362.5,122.4L360.8,126.5M362.3,126.6L360,129.5L360.1,132.8M361.7,133L361,136.5M364.1,120.3L364.2,121.9L363.1,126.6L363,129.6L363.3,133.3M364.5,132.9L363.2,136.1M368.2,120.3L366.5,122L367.6,125.8L367.4,128.9M369.2,129.5L366.6,132.3L367.3,135.8M370.4,120.3L369.3,122.1L369.8,126.3M372.5,125.7L370.1,129.8L370.5,133.1L370.3,135.6M373.8,120.3L372.4,123L373.9,125.4L373.6,129.8L372.4,133.5M374,133L372.7,135.7M374.8,120.3L374.8,121.7L374.8,125.6M374.8,125.6L374.8,129L374.8,132.7L374.8,135.8" fill="none" stroke="#787878" stroke-width="0.38"/><path clip-path="url(#cKY)" d="M301.4,97.9L303.6,97.9L306.9,97.9L309.5,97.9L312.9,97.9L315.8,97.9L319.2,97.9L322.2,97.9L323.8,97.9L328,97.9L330.3,97.9L332.4,97.9L335.4,97.9L339.1,97.9L342.5,97.9L344.5,97.9L347.8,97.9L351.1,97.9L353.2,97.9L356,97.9L358.8,97.9L361.4,97.9L365.1,97.9L367.9,97.9L371.3,97.9L372.1,97.9M302,100.2L304.4,99.1L306.3,99.8L310.6,99.6L312.9,99.1L315.6,100.6L318.7,100.5L320.7,99.4L323.9,100.5L326.7,100.6L329.8,100.6L333.1,99.6L336.7,99.8L339.2,99.2L342.3,100.7L344.1,100.3L347.2,99.3L350.3,100.2L354.1,100.7L357.1,100.1L359.4,99.4L362.4,100L364.8,100.6L367.5,99.3L370.3,99.3L372.1,100.4M301.4,103L304.2,103.1L306.9,103.1L309.1,102.3L312.7,102.6L316.1,102.6L319.1,102.6L320.9,103L324.2,102.7L327.7,102.6L330.5,103.6L333,103L336.7,103.2L338.4,102.3L341.1,102.7L344.1,103.3L347.5,102.7L350.5,103.8L353,102.4L356,102.7L359.8,103.4L362,102.5L364.3,102.4L368.4,103.3L370.3,103.2L372.1,103M301.4,105.5L304.5,106.5L307,105.6L310.2,106L313,105.4L316.3,105.3L318.2,106L321,105.4L324.7,106.9L327,105.7L330.5,105.7L332.9,106.4L335.9,105.5L338.2,106.2L342.6,106.8L344.1,106.1L347.6,105.6L350.8,106.1L353.9,105.8L357,106.6L359.2,105.5L362.1,105.5L365.3,106.5L368,106.9L370.1,106.5L372.1,105.5M301.4,108.5L304.2,109.6L306.8,109.5L309.7,109.6L312.4,110L315.6,108.4L318,109.6L322.1,109.5L323.9,109.8L327.6,108.6L330,109.5L332.3,108.5L335.8,109.8L339.7,108.9L342.4,109.7L345.3,109.4L348.3,109.5L351.2,109.3L352.9,109.3L356.3,108.9L359,109.2L362.2,108.8L364.6,109.2L367.9,109.1L371.1,108.7L372.1,108.8M301.6,112.7L304.5,112.4L306.6,113L309.9,112.1L312.5,112.2L316,112.9L318.6,112.7L321,112.2L324.2,112L327.1,112.7L330.6,111.8L332.7,112.8L336.2,112.6L339.1,112.6L341.4,111.6L344.5,111.5L348.3,112.4L350.8,113.1L353.9,111.9L356,111.7L359.7,112.7L362.1,112.1L364.6,112.3L368.2,113L371.3,112.9L372.1,112.2M301.4,116.2L303.6,114.8L306.7,116.1L310.4,115.1L313.3,116.1L315.6,114.9L319,115.2L320.9,116.1L324.3,115.3L327.4,115L329.4,115.2L332.9,114.6L335.8,115.9L338.6,115.7L342,114.9L343.9,115.7L347.8,115.1L350,116L354,115L356.4,115.5L358.9,114.6L361.8,115.7L365.2,115.4L367.3,114.9L370.5,115.3L372.1,116.1M301.4,119.3L303.7,119.1L306.6,118.7L309.7,117.7L313.3,119L315.3,119L318.6,119.3L320.8,118.3L324,118.7L327.7,119.1L330.3,118.3L333.6,117.9L335.6,118.9L338.8,119.3L341.2,118.5L344.2,117.7L347,117.8L350.3,118.4L353.4,118.2L356.6,118.5L359.9,118L362.1,118.5L364.8,119.1L367.4,119.2L370.6,118.2L372.1,118.6M301.4,120.9L304.8,121.4L306.4,121.9L309.9,121.3L312.5,122.2L315.4,121.5L319.3,121.4L321.3,121.1L324.6,121.9L327.2,121.5L329.8,122.1L333,122.2L335.8,122L338.2,121.2L342.5,121.9L345,121.6L347.6,121.1L350,121.9L353.7,121.2L356.5,121L359.4,121.1L362.1,121.3L365.1,121L367.9,121.8L370.2,121.3L372.1,121.7M301.4,123.8L304.2,123.8L306.9,123.8L310,123.8L312.6,123.8L316.4,123.8L318.8,123.8L321.7,123.8L325.1,123.8L327.7,123.8L330.7,123.8L333.6,123.8L335.2,123.8L338.8,123.8L342.1,123.8L345.3,123.8L348.2,123.8L349.8,123.8L352.7,123.8L356.5,123.8L358.7,123.8L361.7,123.8L365.6,123.8L368.7,123.8L371.3,123.8L372.1,123.8M301.4,97.9L302,100.2M302.8,99.8L301.4,103L301.4,105.5L301.4,108.5L301.6,112.7L301.4,116.2M302.7,115.4L301.4,119.3L301.4,120.9L301.4,123.8M305.9,97.9L304.4,99.1L304.2,103.1L304.5,106.5L304.2,109.6M305.7,109.6L304.5,112.4L303.6,114.8M304.8,115.3L303.7,119.1L304.8,121.4L304.2,123.8M306.9,97.9L306.3,99.8M308.9,99.7L306.9,103.1L307,105.6L306.8,109.5L306.6,113M308.1,112.6L306.7,116.1L306.6,118.7L306.4,121.9L306.9,123.8M311.8,97.9L310.6,99.6L309.1,102.3L310.2,106L309.7,109.6M311.3,109.8L309.9,112.1L310.4,115.1L309.7,117.7M311.2,118.3L309.9,121.3L310,123.8M312.9,97.9L312.9,99.1L312.7,102.6M314.3,102.6L313,105.4M315.1,105.3L312.4,110L312.5,112.2L313.3,116.1L313.3,119L312.5,122.2L312.6,123.8M315.8,97.9L315.6,100.6L316.1,102.6L316.3,105.3L315.6,108.4L316,112.9L315.6,114.9L315.3,119L315.4,121.5L316.4,123.8M320.6,97.9L318.7,100.5L319.1,102.6M319.8,102.7L318.2,106L318,109.6L318.6,112.7M319.5,112.5L319,115.2L318.6,119.3M319.7,118.8L319.3,121.4L318.8,123.8M322.2,97.9L320.7,99.4L320.9,103M323.1,102.8L321,105.4M322.2,105.9L322.1,109.5L321,112.2L320.9,116.1L320.8,118.3M322.7,118.6L321.3,121.1L321.7,123.8M326.1,97.9L323.9,100.5L324.2,102.7L324.7,106.9L323.9,109.8M326,109.1L324.2,112L324.3,115.3M325.9,115.1L324,118.7L324.6,121.9M326.3,121.6L325.1,123.8M328.9,97.9L326.7,100.6M327.9,100.6L327.7,102.6M329.1,103.1L327,105.7L327.6,108.6L327.1,112.7L327.4,115L327.7,119.1L327.2,121.5L327.7,123.8M330.9,97.9L329.8,100.6L330.5,103.6M331.9,103.3L330.5,105.7L330,109.5L330.6,111.8M331.2,112.1L329.4,115.2L330.3,118.3L329.8,122.1L330.7,123.8M332.4,97.9L333.1,99.6M335.6,99.7L333,103L332.9,106.4L332.3,108.5L332.7,112.8L332.9,114.6L333.6,117.9L333,122.2M334.3,122.1L333.6,123.8M335.4,97.9L336.7,99.8L336.7,103.2L335.9,105.5L335.8,109.8L336.2,112.6M337.7,112.6L335.8,115.9L335.6,118.9M337,119.1L335.8,122L335.2,123.8M341,97.9L339.2,99.2L338.4,102.3L338.2,106.2L339.7,108.9M340.8,109.2L339.1,112.6L338.6,115.7L338.8,119.3M340.1,118.9L338.2,121.2L338.8,123.8M343.4,97.9L342.3,100.7L341.1,102.7L342.6,106.8L342.4,109.7M344,109.5L341.4,111.6L342,114.9L341.2,118.5L342.5,121.9L342.1,123.8M346.4,97.9L344.1,100.3M346.2,99.7L344.1,103.3M346.1,102.9L344.1,106.1L345.3,109.4M346.7,109.4L344.5,111.5L343.9,115.7L344.2,117.7M345.6,117.8L345,121.6L345.3,123.8M347.8,97.9L347.2,99.3L347.5,102.7M349.6,103.4L347.6,105.6L348.3,109.5L348.3,112.4L347.8,115.1L347,117.8L347.6,121.1L348.2,123.8M352.1,97.9L350.3,100.2L350.5,103.8M351.7,103.1L350.8,106.1L351.2,109.3L350.8,113.1M352.3,112.5L350,116L350.3,118.4L350,121.9L349.8,123.8M353.2,97.9L354.1,100.7L353,102.4M354.4,102.6L353.9,105.8L352.9,109.3L353.9,111.9L354,115L353.4,118.2M355.6,118.4L353.7,121.2M354.9,121.1L352.7,123.8M357.2,97.9L357.1,100.1M358.2,99.7L356,102.7M357.4,103L357,106.6M357.7,106.3L356.3,108.9M357.3,109.1L356,111.7L356.4,115.5M358,115L356.6,118.5L356.5,121L356.5,123.8M358.8,97.9L359.4,99.4M361.2,99.7L359.8,103.4M361.3,102.8L359.2,105.5L359,109.2L359.7,112.7L358.9,114.6M359.9,115L359.9,118L359.4,121.1L358.7,123.8M361.4,97.9L362.4,100L362,102.5M363.1,102.4L362.1,105.5L362.2,108.8L362.1,112.1L361.8,115.7L362.1,118.5L362.1,121.3M363.9,121.1L361.7,123.8M366.1,97.9L364.8,100.6L364.3,102.4L365.3,106.5L364.6,109.2L364.6,112.3L365.2,115.4L364.8,119.1L365.1,121L365.6,123.8M367.9,97.9L367.5,99.3L368.4,103.3L368,106.9L367.9,109.1L368.2,113M370.4,113L367.3,114.9L367.4,119.2L367.9,121.8L368.7,123.8M371.3,97.9L370.3,99.3M371,99.8L370.3,103.2L370.1,106.5M371.1,106L371.1,108.7L371.3,112.9M371.8,112.5L370.5,115.3M371.3,115.7L370.6,118.2L370.2,121.3L371.3,123.8M372.1,97.9L372.1,100.4L372.1,103L372.1,105.5L372.1,108.8L372.1,112.2L372.1,116.1L372.1,118.6L372.1,121.7L372.1,123.8" fill="none" stroke="#787878" stroke-width="0.38"/><path clip-path="url(#cIL)" d="M282.7,66.6L286.5,66.6L290,66.6L293.6,66.6L297.5,66.6L301.2,66.6L304.8,66.6L308,66.6L312.2,66.6L315.9,66.6L318.9,66.6L321.3,66.6M282.6,68.1L285.6,68.7L289.4,68.8L293.2,68.8L296.9,68.2L300.7,68L304.4,68.3L307.7,68.8L311.7,68L316,68.2L319,68L321.3,68.7M282.6,72.1L285.7,71.9L290.1,71.9L293.9,72.5L296.7,72.4L300.3,72.3L304.8,72.3L308.2,72.4L311.5,72.1L315.3,72L318.9,72.3L321.3,72.4M282.6,75.8L286.4,76L289.7,75.5L293.8,75.5L296.6,75.5L301,76.1L304.6,75.8L308.6,75.9L311.8,75.6L315.8,75.5L318.9,75.8L321.3,75.4M282.6,79.7L285.6,78.9L289.7,79.1L293.8,79.8L297,79.6L300.9,78.9L305,78.9L307.7,79.2L311.4,79.2L315.5,79.7L319.2,79.6L321.3,79.4M282.6,82.7L286,82.8L289.8,82.9L293.2,83L297.6,82.6L300.6,82.4L304,82.4L308.1,83.2L312.1,83.3L315.9,83L319.3,82.4L321.3,82.6M282.6,86L286,86.3L289.7,86.4L292.9,86.7L297.4,86.6L300.4,86.6L304.8,87L308.4,86L312.3,86.6L315.3,86.9L319.6,86.9L321.3,86.5M282.6,89.9L286.2,90.2L289.5,90.1L293.8,90.1L297.5,90.1L301.3,89.6L304.4,90.1L308.4,90.5L312,90L315.7,90.1L319.5,90.5L321.3,89.9M282.7,93.2L286.3,93.2L289.8,94L293.1,93.5L296.8,93.9L300.8,93.8L304.3,93.8L308.6,94L312.3,93.4L315.6,93.6L319.1,94L321.3,93.7M282.6,97.7L285.5,97L289.7,97.7L293,97.6L297,97.3L301.2,96.8L304.3,96.9L307.8,97.1L312.1,97.4L315.2,97.6L319.3,96.9L321.3,97.6M282.6,101.3L286.3,100.6L289.1,101.2L293.7,100.5L297.3,101.1L300.9,101.2L305,100.7L308.5,101.3L311.7,101.1L315.8,101.2L319.3,100.6L321.3,100.9M282.6,104.8L286.4,104.2L289.9,104.6L293,104.7L297.3,104.3L300.3,104.2L304.7,104.4L308.5,104.1L311.5,104.3L316,104.1L318.8,104.7L321.3,104.6M282.6,107.8L286.1,108.4L289.6,108L292.9,107.9L296.8,108.4L301,108.4L304.5,108.3L307.8,108L311.6,107.8L315.8,107.8L319.1,107.8L321.3,108.2M282.6,111.5L286.4,112.1L289.6,111.7L293.7,111.4L296.8,111.3L300.8,111.9L304.1,111.6L308.7,111.7L311.7,112L316,111.5L318.9,111.8L321.3,112.1M282.6,115.1L286,115.1L289.6,115.2L293.8,115.7L297.5,115.2L301.2,114.9L304.9,115.4L308.5,115.2L312.4,114.8L315.9,115.6L319.1,115.6L321.3,115.5M282.6,118.8L285.6,119.2L289.9,118.5L293.9,118.6L296.9,118.8L300.8,119.2L304.9,119L308,118.5L311.4,118.9L315.6,118.8L319.8,118.8L321.3,118.8M282.7,66.6L282.6,68.1L282.6,72.1L282.6,75.8L282.6,79.7L282.6,82.7L282.6,86L282.6,89.9L282.7,93.2L282.6,97.7L282.6,101.3L282.6,104.8L282.6,107.8L282.6,111.5L282.6,115.1L282.6,118.8M286.5,66.6L285.6,68.7L285.7,71.9L286.4,76L285.6,78.9L286,82.8L286,86.3L286.2,90.2L286.3,93.2L285.5,97L286.3,100.6L286.4,104.2L286.1,108.4L286.4,112.1L286,115.1L285.6,119.2M290,66.6L289.4,68.8L290.1,71.9L289.7,75.5L289.7,79.1L289.8,82.9L289.7,86.4L289.5,90.1L289.8,94L289.7,97.7L289.1,101.2L289.9,104.6L289.6,108L289.6,111.7L289.6,115.2L289.9,118.5M293.6,66.6L293.2,68.8L293.9,72.5L293.8,75.5L293.8,79.8L293.2,83L292.9,86.7L293.8,90.1L293.1,93.5L293,97.6L293.7,100.5L293,104.7L292.9,107.9L293.7,111.4L293.8,115.7L293.9,118.6M297.5,66.6L296.9,68.2L296.7,72.4L296.6,75.5L297,79.6L297.6,82.6L297.4,86.6L297.5,90.1L296.8,93.9L297,97.3L297.3,101.1L297.3,104.3L296.8,108.4L296.8,111.3L297.5,115.2L296.9,118.8M301.2,66.6L300.7,68L300.3,72.3L301,76.1L300.9,78.9L300.6,82.4L300.4,86.6L301.3,89.6L300.8,93.8L301.2,96.8L300.9,101.2L300.3,104.2L301,108.4L300.8,111.9L301.2,114.9L300.8,119.2M304.8,66.6L304.4,68.3L304.8,72.3L304.6,75.8L305,78.9L304,82.4L304.8,87L304.4,90.1L304.3,93.8L304.3,96.9L305,100.7L304.7,104.4L304.5,108.3L304.1,111.6L304.9,115.4L304.9,119M308,66.6L307.7,68.8L308.2,72.4L308.6,75.9L307.7,79.2L308.1,83.2L308.4,86L308.4,90.5L308.6,94L307.8,97.1L308.5,101.3L308.5,104.1L307.8,108L308.7,111.7L308.5,115.2L308,118.5M312.2,66.6L311.7,68L311.5,72.1L311.8,75.6L311.4,79.2L312.1,83.3L312.3,86.6L312,90L312.3,93.4L312.1,97.4L311.7,101.1L311.5,104.3L311.6,107.8L311.7,112L312.4,114.8L311.4,118.9M315.9,66.6L316,68.2L315.3,72L315.8,75.5L315.5,79.7L315.9,83L315.3,86.9L315.7,90.1L315.6,93.6L315.2,97.6L315.8,101.2L316,104.1L315.8,107.8L316,111.5L315.9,115.6L315.6,118.8M318.9,66.6L319,68L318.9,72.3L318.9,75.8L319.2,79.6L319.3,82.4L319.6,86.9L319.5,90.5L319.1,94L319.3,96.9L319.3,100.6L318.8,104.7L319.1,107.8L318.9,111.8L319.1,115.6L319.8,118.8M321.3,66.6L321.3,68.7L321.3,72.4L321.3,75.4L321.3,79.4L321.3,82.6L321.3,86.5L321.3,89.9L321.3,93.7L321.3,97.6L321.3,100.9L321.3,104.6L321.3,108.2L321.3,112.1L321.3,115.5L321.3,118.8" fill="none" stroke="#666" stroke-width="0.42"/><path clip-path="url(#cIN)" d="M314.5,73.5L317.2,73.5L320.3,73.5L323.5,73.5L326.6,73.5L329.4,73.5L332.7,73.5L336.2,73.5L339.2,73.5L342.1,73.5L344.9,73.5L345.9,73.5M314.5,75.5L317.5,75L320.1,75.2L323.6,74.9L326.3,75.2L329.4,75.3L332.9,75L335.9,75L338.8,74.9L342.3,75.1L345.4,75L345.9,75.2M314.5,78.3L317.3,78.1L320.7,78.5L323.5,78.5L326.3,78.2L329.5,78.6L332.4,78.3L336.2,78.6L339.2,78.2L341.9,78.5L345,78.5L345.9,78.6M314.5,81.8L317.7,81.5L320.8,81.2L323.8,81.2L326.6,81.5L329.9,81.4L332.6,81.8L335.9,81.8L339,81.2L342.3,81.3L345.2,81.2L345.9,81.7M314.5,84.9L317.3,84.9L320.5,84.5L323.5,84.8L326.8,84.5L329.6,84.6L332.5,84.6L336.1,84.8L338.8,84.9L341.8,85L344.9,84.5L345.9,84.8M314.5,88.3L317.6,87.8L320.6,88.1L323.5,87.8L326.9,88.3L329.3,87.8L332.7,87.7L335.8,88.3L338.6,88.2L342,87.6L345.5,87.8L345.9,87.7M314.5,90.9L317.1,91L320.5,91.1L323.4,91.2L326.8,91.3L329.6,91.5L333,91.2L335.9,91L338.7,91.5L342.2,90.9L345.5,91.5L345.9,91.3M314.5,94.4L317.5,94.2L320.4,94.5L323.3,94.5L326.5,94.7L329.5,94.5L332.5,94.2L335.6,94.1L339,94.1L342.3,94.1L345.3,94.6L345.9,94.1M314.5,97.5L317.6,97.4L320.3,97.9L323.4,97.9L326.9,97.3L329.7,97.9L332.5,97.8L336.1,97.8L339.1,97.3L342.4,97.3L345.4,97.7L345.9,97.7M314.5,101L317,101.1L320.3,101L323.5,101L326.4,100.8L329.3,100.8L332.5,101L336,100.7L339.4,101.1L342.4,100.4L345.3,100.9L345.9,100.4M314.5,103.9L317.4,104.2L320.2,103.6L323.8,103.8L326.3,103.7L330.1,104.1L332.6,103.7L336.2,104.1L339.1,103.7L342,104.3L344.8,103.9L345.9,104.3M314.5,107.5L317.6,107.3L320.1,107.3L323.5,107.2L326.3,107.2L329.9,106.9L333.1,107.1L335.7,107L339,107.3L342.1,107.5L345.2,107.2L345.9,106.9M314.5,110.2L317.2,110.1L320.3,110L323.8,110.3L326.9,110.5L329.9,110.6L332.6,110.5L335.7,110.4L339.1,110.6L341.9,110.2L345.4,110.6L345.9,110.1M314.5,73.5L314.5,75.5L314.5,78.3L314.5,81.8L314.5,84.9L314.5,88.3L314.5,90.9L314.5,94.4L314.5,97.5L314.5,101L314.5,103.9L314.5,107.5L314.5,110.2M317.2,73.5L317.5,75L317.3,78.1L317.7,81.5L317.3,84.9L317.6,87.8L317.1,91L317.5,94.2L317.6,97.4L317,101.1L317.4,104.2L317.6,107.3L317.2,110.1M320.3,73.5L320.1,75.2L320.7,78.5L320.8,81.2L320.5,84.5L320.6,88.1L320.5,91.1L320.4,94.5L320.3,97.9L320.3,101L320.2,103.6L320.1,107.3L320.3,110M323.5,73.5L323.6,74.9L323.5,78.5L323.8,81.2L323.5,84.8L323.5,87.8L323.4,91.2L323.3,94.5L323.4,97.9L323.5,101L323.8,103.8L323.5,107.2L323.8,110.3M326.6,73.5L326.3,75.2L326.3,78.2L326.6,81.5L326.8,84.5L326.9,88.3L326.8,91.3L326.5,94.7L326.9,97.3L326.4,100.8L326.3,103.7L326.3,107.2L326.9,110.5M329.4,73.5L329.4,75.3L329.5,78.6L329.9,81.4L329.6,84.6L329.3,87.8L329.6,91.5L329.5,94.5L329.7,97.9L329.3,100.8L330.1,104.1L329.9,106.9L329.9,110.6M332.7,73.5L332.9,75L332.4,78.3L332.6,81.8L332.5,84.6L332.7,87.7L333,91.2L332.5,94.2L332.5,97.8L332.5,101L332.6,103.7L333.1,107.1L332.6,110.5M336.2,73.5L335.9,75L336.2,78.6L335.9,81.8L336.1,84.8L335.8,88.3L335.9,91L335.6,94.1L336.1,97.8L336,100.7L336.2,104.1L335.7,107L335.7,110.4M339.2,73.5L338.8,74.9L339.2,78.2L339,81.2L338.8,84.9L338.6,88.2L338.7,91.5L339,94.1L339.1,97.3L339.4,101.1L339.1,103.7L339,107.3L339.1,110.6M342.1,73.5L342.3,75.1L341.9,78.5L342.3,81.3L341.8,85L342,87.6L342.2,90.9L342.3,94.1L342.4,97.3L342.4,100.4L342,104.3L342.1,107.5L341.9,110.2M344.9,73.5L345.4,75L345,78.5L345.2,81.2L344.9,84.5L345.5,87.8L345.5,91.5L345.3,94.6L345.4,97.7L345.3,100.9L344.8,103.9L345.2,107.2L345.4,110.6M345.9,73.5L345.9,75.2L345.9,78.6L345.9,81.7L345.9,84.8L345.9,87.7L345.9,91.3L345.9,94.1L345.9,97.7L345.9,100.4L345.9,104.3L345.9,106.9L345.9,110.1" fill="none" stroke="#6a6a6a" stroke-width="0.4"/><path clip-path="url(#cOH)" d="M343.9,71.5L347.2,71.5L350.6,71.4L354.4,71.4L357.7,71.4L361.1,71.5L364.6,71.4L368,71.4L371.5,71.4L374.9,71.4L378.5,71.4L382.5,71.4L385.2,71.4M343.9,74.6L347.1,74.6L350.3,74.3L354.4,75L357.4,74.6L360.9,74.3L364.9,74.9L367.8,74.5L371.7,74.9L375,74.6L378.3,74.9L382.4,75L385.2,74.7M344,78.2L347,77.8L350.2,78.3L353.7,78.3L357.7,78L361.4,78.4L364.7,77.7L368.1,78L371.4,78.4L375.3,77.8L378.3,77.9L382.1,77.9L385.4,78.3M343.9,81.6L346.9,81.8L350.9,81.3L354.2,81.1L357.5,81.6L361.2,81.3L364.2,81.2L368.1,81.2L371.4,81.6L375.4,81.5L378.4,81.5L381.9,81.7L385.3,81.3M343.9,85.2L346.8,84.6L350.3,84.6L353.9,84.8L357.8,84.8L361,84.8L364.8,85.2L368,85.2L371.4,85.3L375.1,85L378.5,84.7L381.8,85.2L385.4,85M343.9,88.3L346.8,88L350.4,88.4L354.1,87.9L357.7,88.2L360.7,88.1L364.3,88.5L368.1,88.1L371.4,88.1L374.9,88.1L378.8,88.5L382.2,88.6L385.4,87.9M343.9,91.4L346.9,91.7L350.8,91.7L354,91.5L358,91.9L360.9,91.3L365,91.5L368.4,91.4L371.7,91.5L375.4,91.5L378.2,91.4L382.3,92.1L385.4,91.8M343.9,94.9L346.7,95.5L350.2,95.2L353.9,94.8L357.5,95.4L360.9,94.8L364.7,95.2L368.1,94.8L371.9,94.7L374.8,94.9L378.6,95L382.1,95.2L385.4,95M343.9,98.7L346.7,98.3L350.3,98.5L354.3,98.2L357.4,98.7L361.2,98.1L364.7,98.7L368,98.2L371.7,98.3L374.8,98.2L378.5,98.2L382,98.5L385.4,98.4M343.9,101.5L346.9,102.2L350.9,102.2L354.3,101.9L357.8,101.9L360.7,101.7L364.2,102.2L367.9,101.8L371.6,101.5L375.2,102.1L378.8,102.2L381.9,101.6L385.4,102M343.9,105.1L346.8,105.5L350.5,105.5L353.9,105.1L357.6,105.5L361.4,105.1L364.7,105.2L368.4,105.5L371.6,105.2L374.9,105.6L378.8,105.1L381.7,105L385.4,104.9M343.9,106.1L347.1,106.1L350.5,106.1L353.7,106.1L357.2,106.1L361.2,106.1L364.8,106.1L368.4,106.1L371.2,106.1L375.3,106.1L378.6,106.1L381.8,106.1L385.4,106.1M343.9,71.5L343.9,74.6L344,78.2L343.9,81.6L343.9,85.2L343.9,88.3L343.9,91.4L343.9,94.9L343.9,98.7L343.9,101.5L343.9,105.1L343.9,106.1M347.2,71.5L347.1,74.6L347,77.8L346.9,81.8L346.8,84.6L346.8,88L346.9,91.7L346.7,95.5L346.7,98.3L346.9,102.2L346.8,105.5L347.1,106.1M350.6,71.4L350.3,74.3L350.2,78.3L350.9,81.3L350.3,84.6L350.4,88.4L350.8,91.7L350.2,95.2L350.3,98.5L350.9,102.2L350.5,105.5L350.5,106.1M354.4,71.4L354.4,75L353.7,78.3L354.2,81.1L353.9,84.8L354.1,87.9L354,91.5L353.9,94.8L354.3,98.2L354.3,101.9L353.9,105.1L353.7,106.1M357.7,71.4L357.4,74.6L357.7,78L357.5,81.6L357.8,84.8L357.7,88.2L358,91.9L357.5,95.4L357.4,98.7L357.8,101.9L357.6,105.5L357.2,106.1M361.1,71.5L360.9,74.3L361.4,78.4L361.2,81.3L361,84.8L360.7,88.1L360.9,91.3L360.9,94.8L361.2,98.1L360.7,101.7L361.4,105.1L361.2,106.1M364.6,71.4L364.9,74.9L364.7,77.7L364.2,81.2L364.8,85.2L364.3,88.5L365,91.5L364.7,95.2L364.7,98.7L364.2,102.2L364.7,105.2L364.8,106.1M368,71.4L367.8,74.5L368.1,78L368.1,81.2L368,85.2L368.1,88.1L368.4,91.4L368.1,94.8L368,98.2L367.9,101.8L368.4,105.5L368.4,106.1M371.5,71.4L371.7,74.9L371.4,78.4L371.4,81.6L371.4,85.3L371.4,88.1L371.7,91.5L371.9,94.7L371.7,98.3L371.6,101.5L371.6,105.2L371.2,106.1M374.9,71.4L375,74.6L375.3,77.8L375.4,81.5L375.1,85L374.9,88.1L375.4,91.5L374.8,94.9L374.8,98.2L375.2,102.1L374.9,105.6L375.3,106.1M378.5,71.4L378.3,74.9L378.3,77.9L378.4,81.5L378.5,84.7L378.8,88.5L378.2,91.4L378.6,95L378.5,98.2L378.8,102.2L378.8,105.1L378.6,106.1M382.5,71.4L382.4,75L382.1,77.9L381.9,81.7L381.8,85.2L382.2,88.6L382.3,92.1L382.1,95.2L382,98.5L381.9,101.6L381.7,105L381.8,106.1M385.2,71.4L385.2,74.7L385.4,78.3L385.3,81.3L385.4,85L385.4,87.9L385.4,91.8L385.4,95L385.4,98.4L385.4,102L385.4,104.9L385.4,106.1" fill="none" stroke="#6a6a6a" stroke-width="0.4"/><path clip-path="url(#cMI)" d="M325.7,36.5L329.1,36.5L332.8,36.5L337,36.5L340.9,36.5L345.1,36.5L349,36.5L353,36.5L356.7,36.5L361.1,36.5L365.2,36.5L368,36.5M325.7,39.2L329.2,39.4L332.7,39.1L336.7,39.3L340.9,39.2L344.9,39.1L349.2,39.5L353,39.3L356.9,39.3L360.9,39.5L365.2,39.4L368,39.1M325.7,42.8L328.7,42.9L333.2,43.1L337.2,42.8L340.8,42.7L344.8,42.7L349,42.8L353.1,42.9L357,42.8L361.1,43L365.1,42.9L368,42.8M325.7,46.5L329,46.3L333.2,46.7L337.2,46.7L341,46.3L344.8,46.6L349.2,46.3L352.7,46.4L356.9,46.5L360.7,46.7L364.9,46.7L368,46.4M325.7,50.3L329,50.3L332.7,50.1L337.1,50.3L341.2,49.9L344.9,50.3L349,50.3L352.8,49.9L357.2,50L361,50L365,50.3L368,50.3M325.7,53.9L328.7,53.7L333.2,53.6L336.9,53.7L340.8,53.8L345,53.5L349.2,53.5L353.1,53.6L356.8,53.5L361.2,53.8L364.9,53.8L368,53.9M325.7,57.2L329,57.5L333.1,57.4L337.2,57.3L341,57.5L344.8,57.5L348.7,57.3L353,57.1L357.2,57.3L360.8,57.3L365,57.3L368,57.1M325.7,60.7L328.8,61.1L333.2,61.1L336.8,60.6L341.1,60.9L344.9,60.7L348.9,60.8L353,61.1L356.8,60.7L361.1,60.7L364.8,60.9L368,60.8M325.7,64.5L328.8,64.4L333.1,64.4L337.1,64.3L340.7,64.6L344.9,64.7L348.7,64.6L353.1,64.4L356.8,64.6L361.1,64.5L364.9,64.6L368,64.5M325.7,68.1L329,68.3L333.2,68.1L336.9,68L341,68.2L344.8,68.2L349.2,68L353.2,68.1L357,68.3L360.8,68L365.2,67.9L368,68.1M325.7,71.8L329.2,71.8L332.7,71.5L336.7,71.7L340.7,71.7L345,71.5L349.2,71.7L353.2,71.6L357,71.7L360.8,71.8L364.7,71.6L368,71.9M325.7,75.1L328.8,75.4L333.1,75.1L337.1,75.2L341,75.3L344.9,75.5L349.2,75.5L353.1,75.4L356.8,75.1L361.1,75.4L365,75.2L368,75.5M325.7,36.5L325.7,39.2L325.7,42.8L325.7,46.5L325.7,50.3L325.7,53.9L325.7,57.2L325.7,60.7L325.7,64.5L325.7,68.1L325.7,71.8L325.7,75.1M329.1,36.5L329.2,39.4L328.7,42.9L329,46.3L329,50.3L328.7,53.7L329,57.5L328.8,61.1L328.8,64.4L329,68.3L329.2,71.8L328.8,75.4M332.8,36.5L332.7,39.1L333.2,43.1L333.2,46.7L332.7,50.1L333.2,53.6L333.1,57.4L333.2,61.1L333.1,64.4L333.2,68.1L332.7,71.5L333.1,75.1M337,36.5L336.7,39.3L337.2,42.8L337.2,46.7L337.1,50.3L336.9,53.7L337.2,57.3L336.8,60.6L337.1,64.3L336.9,68L336.7,71.7L337.1,75.2M340.9,36.5L340.9,39.2L340.8,42.7L341,46.3L341.2,49.9L340.8,53.8L341,57.5L341.1,60.9L340.7,64.6L341,68.2L340.7,71.7L341,75.3M345.1,36.5L344.9,39.1L344.8,42.7L344.8,46.6L344.9,50.3L345,53.5L344.8,57.5L344.9,60.7L344.9,64.7L344.8,68.2L345,71.5L344.9,75.5M349,36.5L349.2,39.5L349,42.8L349.2,46.3L349,50.3L349.2,53.5L348.7,57.3L348.9,60.8L348.7,64.6L349.2,68L349.2,71.7L349.2,75.5M353,36.5L353,39.3L353.1,42.9L352.7,46.4L352.8,49.9L353.1,53.6L353,57.1L353,61.1L353.1,64.4L353.2,68.1L353.2,71.6L353.1,75.4M356.7,36.5L356.9,39.3L357,42.8L356.9,46.5L357.2,50L356.8,53.5L357.2,57.3L356.8,60.7L356.8,64.6L357,68.3L357,71.7L356.8,75.1M361.1,36.5L360.9,39.5L361.1,43L360.7,46.7L361,50L361.2,53.8L360.8,57.3L361.1,60.7L361.1,64.5L360.8,68L360.8,71.8L361.1,75.4M365.2,36.5L365.2,39.4L365.1,42.9L364.9,46.7L365,50.3L364.9,53.8L365,57.3L364.8,60.9L364.9,64.6L365.2,67.9L364.7,71.6L365,75.2M368,36.5L368,39.1L368,42.8L368,46.4L368,50.3L368,53.9L368,57.1L368,60.8L368,64.5L368,68.1L368,71.9L368,75.5" fill="none" stroke="#606060" stroke-width="0.44"/><path clip-path="url(#cUP)" d="M292.7,21L297.1,22.4L309.2,21.9L313.8,21L322.8,21.7L334.3,21.9L342.7,21L347.9,21L357.1,22M292.7,26.2L300.5,25.8L306.7,25.5L318,26.7L325.6,27.9L333.3,28.4L342.6,28.3L351.9,25.7L357.1,26.2M292.7,32.5L301,31.7L307.2,31.9L318.1,33L325.3,33L334.1,32.5L341.1,33.7L350.8,34.1L357.1,34M292.7,39.2L298.6,39.2L305.6,37.8L315.1,37.9L322.5,39.6L333.9,39.3L340.2,39.7L351.3,39.3L357.1,39.2M292.7,44.3L297.5,44.8L308,44.8L314.6,44.3L324.5,43.7L332.1,44.8L341.4,44.8L350.3,44.8L357.1,44.8M292.7,21L292.7,26.2M298.1,26L292.7,32.5L292.7,39.2M294.7,39.2L292.7,44.3M297.1,22.4L300.5,25.8M302.4,25.7L301,31.7L298.6,39.2M301.4,38.6L297.5,44.8M310.6,21.7L306.7,25.5L307.2,31.9M311.8,32.3L305.6,37.8L308,44.8M313.8,21L318,26.7M322.8,27.5L318.1,33L315.1,37.9L314.6,44.3M330.4,21.8L325.6,27.9L325.3,33M330.8,32.7L322.5,39.6L324.5,43.7M334.3,21.9L333.3,28.4L334.1,32.5M337.1,33L333.9,39.3L332.1,44.8M342.7,21L342.6,28.3L341.1,33.7L340.2,39.7M343.6,39.6L341.4,44.8M347.9,21L351.9,25.7L350.8,34.1M354.7,34.1L351.3,39.3M353.9,39.3L350.3,44.8M357.1,22L357.1,26.2L357.1,34L357.1,39.2L357.1,44.8" fill="none" stroke="#606060" stroke-width="0.44"/><path clip-path="url(#cWI)" d="M270.2,25.8L275.7,25.8L282.8,25.8L288.3,25.8L295.6,25.8L301.9,25.8L308.8,25.8L314.9,25.8L321,25.8L325.9,25.8M270.2,29.9L275.2,29.4L282.5,29.8L288.1,29.2L295.5,29.9L301.2,30.1L308,29.9L314.9,29.5L322.1,29.6L325.9,29.8M270.2,35.9L276.3,35.3L282.7,35.4L289.6,35.9L295.8,34.9L302,35.2L308,35.6L314.4,35.5L321.4,35.1L325.9,35.5M270.2,41.4L276.3,40.4L282.6,40.7L289.6,40.7L295.1,40.1L301.8,40.8L308.1,40.2L314.8,40.2L320.9,40.7L325.9,40.7M270.2,46.1L275.3,45.6L282.5,46.9L288.5,46L295.1,46.6L301.9,46.6L307.6,45.8L314.4,46.1L321.2,46.1L325.9,46.2M270.2,50L276.1,50L282.9,50L288.1,50L295.4,50L301.2,50L308.2,50L314.5,50L321.2,50L325.9,50M270.2,25.8L270.2,29.9L270.2,35.9L270.2,41.4L270.2,46.1L270.2,50M275.7,25.8L275.2,29.4L276.3,35.3L276.3,40.4L275.3,45.6L276.1,50M282.8,25.8L282.5,29.8L282.7,35.4L282.6,40.7L282.5,46.9L282.9,50M288.3,25.8L288.1,29.2L289.6,35.9L289.6,40.7L288.5,46L288.1,50M295.6,25.8L295.5,29.9L295.8,34.9L295.1,40.1L295.1,46.6L295.4,50M301.9,25.8L301.2,30.1L302,35.2L301.8,40.8L301.9,46.6L301.2,50M308.8,25.8L308,29.9L308,35.6L308.1,40.2L307.6,45.8L308.2,50M314.9,25.8L314.9,29.5L314.4,35.5L314.8,40.2L314.4,46.1L314.5,50M321,25.8L322.1,29.6L321.4,35.1L320.9,40.7L321.2,46.1L321.2,50M325.9,25.8L325.9,29.8L325.9,35.5L325.9,40.7L325.9,46.2L325.9,50M270.2,50L274,50L278.7,50L284.3,50L289.1,50L294,50L298.7,50L303.6,50L307.7,50L312.8,50L317.2,50L322.5,50L325.9,50M270.2,52.9L274.1,53.8L279.4,53.3L284.1,53.7L289.3,53.4L293,53.7L298,53.1L302.7,53.3L308.1,53.3L312.7,52.9L317.8,53.4L322.1,53.7L325.9,53.8M270.2,57.3L274.2,57.7L278.9,58L284.4,57.3L288.8,58.2L294,57.7L297.9,57.7L303.2,58L307.6,57.5L313.3,57.2L317.7,57.3L322.7,57.6L325.9,57.4M270.2,61.8L273.8,61.7L278.7,62L284.5,62L289,61.6L293.6,62.2L297.9,62.2L303.1,61.9L308.3,62.3L312.3,61.7L317.1,61.9L322.5,62.6L325.9,62.5M270.2,66.8L274.7,66.5L279.7,66.6L283.5,66.2L288.3,66.6L293.7,66.9L297.8,66L303.7,66.3L307.7,66.9L312.3,66.8L318,66.6L322.5,66L325.9,66.6M270.2,68.8L273.9,68.8L279.3,68.8L283.5,68.8L289.1,68.8L293.4,68.8L298.5,68.8L303.2,68.8L307.8,68.8L312.9,68.8L317.7,68.8L322.5,68.8L325.9,68.8M270.2,50L270.2,52.9L270.2,57.3L270.2,61.8L270.2,66.8L270.2,68.8M274,50L274.1,53.8L274.2,57.7L273.8,61.7L274.7,66.5L273.9,68.8M278.7,50L279.4,53.3L278.9,58L278.7,62L279.7,66.6L279.3,68.8M284.3,50L284.1,53.7L284.4,57.3L284.5,62L283.5,66.2L283.5,68.8M289.1,50L289.3,53.4L288.8,58.2L289,61.6L288.3,66.6L289.1,68.8M294,50L293,53.7L294,57.7L293.6,62.2L293.7,66.9L293.4,68.8M298.7,50L298,53.1L297.9,57.7L297.9,62.2L297.8,66L298.5,68.8M303.6,50L302.7,53.3L303.2,58L303.1,61.9L303.7,66.3L303.2,68.8M307.7,50L308.1,53.3L307.6,57.5L308.3,62.3L307.7,66.9L307.8,68.8M312.8,50L312.7,52.9L313.3,57.2L312.3,61.7L312.3,66.8L312.9,68.8M317.2,50L317.8,53.4L317.7,57.3L317.1,61.9L318,66.6L317.7,68.8M322.5,50L322.1,53.7L322.7,57.6L322.5,62.6L322.5,66L322.5,68.8M325.9,50L325.9,53.8L325.9,57.4L325.9,62.5L325.9,66.6L325.9,68.8" fill="none" stroke="#606060" stroke-width="0.44"/><path d="M304.7,18.6 311.1,15.8 311.6,16.3 305.2,19Z" fill="#fff"/><path d="M336,42.8 338.4,43.4 338,45.6 336.4,45Z" fill="#333"/><path d="M333.4,42.6 334.8,42.9 334.5,44.2Z" fill="#333"/><path d="M339.5,37.3 341.5,37.7 341,39Z" fill="#333"/><path d="M290,25.6 292.6,25 293,26.6 290.6,27.4Z" fill="#333"/><path d="M168.4,8 231,8 231.7,12.1 232.2,16.3 233.6,19.9 234.5,22.7 234.8,27.3 235.4,30 236.8,32.8 237.2,36.1 168.4,36.1ZM168.4,36.1 237.2,36.1 235,38.3 236.1,40.9 238.2,42 238.2,58.5 237,60.3 238.2,62.2 237.2,64.5 236.5,66.8 238.2,67.7 235.9,66.6 233.1,65.4 229.4,64.3 224.9,65.1 221.2,64.2 219.3,63.1 168.4,63.1ZM168.4,63.1 219.3,63.1 221.2,64.2 224.9,65.1 229.4,64.3 233.1,65.4 235.9,66.6 238.2,67.7 239.5,70.4 241.2,72.7 241.4,75.9 242.9,78.7 243.7,81.9 244.4,85.3 246,87.9 248.7,90.6 186.8,90.6 186.8,81.4 168.4,81.4ZM186.8,90.6 248.7,90.6 251,91.7 252.4,92.9 250.6,94.8 252.4,96.6 255,98.7 255,118.2 186.8,118.2ZM178,118.2 255,118.2 255,122.8 256.7,132.8 256.3,149 249.6,146.2 244.1,147.1 239.5,148 235,147.1 231.3,148 227.6,146.6 223,144.8 218.4,144.3 212.9,142.9 209.3,142 205.6,140.6 205.6,122.8 178,122.8ZM237.2,36.1 236.8,32.8 235.4,30 234.8,27.3 234.5,22.7 233.6,19.9 232.2,16.3 231.7,12.1 231,8 250.1,8 250.1,4.5 252.9,4.8 254.2,9.4 257.9,10.8 266.2,11.7 274.4,13 279,14.4 283.6,16.7 290,15.3 296.5,16.3 302,17.2 291.9,19.9 284.5,24.5 278.1,28.7 276.4,29.5 276.4,34.8 274.4,36 271.2,38.8 272.6,41.5 271.9,44.3 271.7,47 274.9,48.9 279,50.4 281.8,53.4 285.4,55.3 286.2,58.5 238.2,58.5 238.2,42 236.1,40.9 235,38.3 237.2,36.1ZM238.2,58.5 286.2,58.5 286.8,62.2 287.7,65.4 291.5,67.6 294.2,70.4 296,72.7 295.5,74.3 294.2,76.1 291,77.3 287.7,77.8 287.3,79.6 288.7,81.4 287.3,83.3 284.7,85.3 284.3,87.1 283.1,86.2 281.5,85 244.4,85.3 243.7,81.9 242.9,78.7 241.4,75.9 241.2,72.7 239.5,70.4 238.2,67.7 236.5,66.8 237.2,64.5 238.2,62.2 237,60.3 238.2,58.5ZM244.4,85.3 281.5,85 283.1,86.2 284.3,87.1 283.6,89.2 284.3,91.5 286.4,94.3 290,97.5 291.4,99.8 293.7,100.3 296,101.6 295.5,103.9 294.2,106.7 296.5,109.4 300.1,112.2 302,115.4 302.9,117.2 305.2,118.2 304.7,120.9 302.4,122.8 301.1,125 300.1,127.3 294,127.3 296,122.8 255,122.8 255,98.7 252.4,96.6 250.6,94.8 252.4,92.9 251,91.7 248.7,90.6 246,87.9 244.4,85.3ZM255,122.8 296,122.8 294,127.3 300.1,127.3 300.6,128.7 298.3,131 296.9,133.3 296,135.1 294.6,136.5 292.3,139.7 291.9,142 288.7,144.8 287.3,148 286.8,151.2 286.8,154.9 260.3,154.7 260.3,149.8 256.3,149 256.7,132.8ZM260.3,154.7 286.8,154.9 287.3,157.6 289.1,160.8 287.3,163.6 284.5,167.7 283.1,170.5 282.4,173.2 299.9,173.2 298.8,176.5 300.6,178.7 301.8,180.8 302,180 304,182.5 302.3,187.3 305.3,189.7 303.4,188.2 299,186.3 295.7,188.2 290.6,189.5 285.5,187.5 280.5,185 278,183 271.5,184.4 262,183.7 263,181.5 263.4,176.9 264.8,171.9 262.5,167.7 260.3,164.1 260.3,154.7ZM294.6,136.5 313.9,136.5 314.8,137.4 311.4,165 312.1,179.2 306.6,178.9 301.8,180.8 300.6,178.7 298.8,176.5 299.9,173.2 282.4,173.2 283.1,170.5 284.5,167.7 287.3,163.6 289.1,160.8 287.3,157.6 286.8,154.9 286.8,151.2 287.3,148 288.7,144.8 291.9,142 292.3,139.7 294.6,136.5ZM294.6,136.5 296,135.1 296.9,133.3 298.3,131 300.6,128.7 300.1,127.3 301.1,125 302.4,122.8 315.3,122.8 315.3,121.3 355.4,121.8 373.8,121.9 370.4,126.2 365.3,126.9 360.7,129.5 355.2,131.3 352,134 349.5,136.5ZM302.4,122.8 304.7,120.9 305.2,118.2 307,116.3 310.2,117.4 311.6,114.9 314.8,113.6 315.5,110.8 316.7,109.9 319.7,109.4 324,110.8 326.8,109.4 329.5,109.7 331.3,107.6 334.1,109 335.5,106.7 338.7,104.4 339.6,102.4 342.4,102.1 344.9,98.9 347.9,98.9 350.2,101.2 354.3,103 358,103 361.6,102.4 363.5,103.9 365.3,105.1 365.8,108.1 368.1,111.3 371.1,113.2 368.1,115.4 364.4,117.7 362.6,119.1 359.8,120.5 355.4,121.8 315.3,121.3 315.3,122.8ZM291.5,67.6 317.6,67.8 317.6,69.5 319.4,73.6 320.1,75 320.1,96.6 319.2,98.9 320.3,102.6 318,105.3 316.2,107.6 315.5,110.8 314.8,113.6 311.6,114.9 310.2,117.4 307,116.3 305.2,118.2 302.9,117.2 302,115.4 300.1,112.2 296.5,109.4 294.2,106.7 295.5,103.9 296,101.6 293.7,100.3 291.4,99.8 290,97.5 286.4,94.3 284.3,91.5 283.6,89.2 284.3,87.1 284.7,85.3 287.3,83.3 288.7,81.4 287.3,79.6 287.7,77.8 291,77.3 294.2,76.1 295.5,74.3 296,72.7 294.2,70.4 291.5,67.6ZM320.1,75 323.1,75.7 326.8,74.5 344.9,75 344.9,98.9 342.4,102.1 339.6,102.4 338.7,104.4 335.5,106.7 334.1,109 331.3,107.6 329.5,109.7 326.8,109.4 324,110.8 319.7,109.4 316.7,109.9 315.5,110.8 316.2,107.6 318,105.3 320.3,102.6 319.2,98.9 320.1,96.6ZM344.9,75 357.5,74.7 360.7,75.9 363.9,76.8 367.1,77.6 373.6,76.8 380,73.6 384.4,72.4 384.4,84.7 383.7,86.5 382.6,89.7 381.2,92.9 378.2,96.1 374.9,97 373.1,98.9 370.8,99.8 369,101.6 368.1,104.4 365.3,105.1 363.5,103.9 361.6,102.4 358,103 354.3,103 350.2,101.2 347.9,98.9 344.9,98.9ZM326.8,74.5 344.9,75 357.5,74.7 359.8,71.8 360.7,69.5 363,68.6 366.2,66.3 367,63.1 365.3,57.6 362.1,53.3 358,54.8 353.4,57.1 356.1,54.4 358.9,51.1 358.9,44.7 357,41.5 351.5,40.1 345.6,37.6 343.3,39.2 340.1,42.4 337.8,42.9 337.3,46.6 333.2,45.6 331.8,47.5 329.5,53.4 329.1,57.6 331.3,61.7 332.3,65.4 331.3,68.6 329.5,71.3 326.8,74.5ZM293.7,30.5 299.2,28.2 304.7,26.8 309.3,24.5 313.9,22.5 317.6,22 316.7,23.6 313,25.9 311.6,28.2 314.8,27.1 318.5,27.7 321.2,30.5 325.8,31.4 329.1,31.4 333.2,29.4 338.7,29.3 343.3,28.5 343.7,30.9 347,31.4 349.2,30.9 351.5,33.2 356.1,34.6 353.4,36 346,36.5 343.3,35.1 338.7,34.6 334.1,36 330.4,37.4 328.6,39.2 326.8,37.4 324.5,37.8 322.2,40.6 319.4,43.8 317.6,41.5 317.1,38.3 314.8,37.4 311.1,35.5 305.6,34.3 296.5,32.3 293.7,30.5ZM291.5,67.6 287.7,65.4 286.8,62.2 286.2,58.5 285.4,55.3 281.8,53.4 279,50.4 274.9,48.9 271.7,47 271.9,44.3 272.6,41.5 271.2,38.8 274.4,36 276.4,34.8 276.4,29.5 278.1,28.7 282.7,28.7 286.4,27.7 290,26.8 290.5,29.6 293.7,30.5 296.5,32.3 305.6,34.3 311.1,35.5 314.8,37.4 317.1,38.3 317.6,41.5 319.4,43.8 316.7,45.6 315.7,49.1 318,47.9 321.7,44.7 324.9,42.1 322.2,46.1 320.3,51.1 318.5,56.2 316.7,63.1 317.6,67.8ZM304.7,18.6 311.1,15.8 311.6,16.3 305.2,19Z" fill="none" stroke="#3a3a3a" stroke-width=".33" stroke-linejoin="round"/></g>

<g id="Gtop"><path d="M188,8 231.6,8 233.1,16 234.5,21.8 236,29.1 236.7,35.6 238.2,37.8 238.2,62 223.6,62 220,60.4 214.9,58.2 209.1,54.5 203.3,50.2 199.6,46.5 201.1,41.5 200.4,35.6 201.1,35.6 201.1,29.1 204,29.1 204,24 199.6,24 199.6,18.2 196,18.2 196,11.6 188,11.6Z" fill="#cdf4cc"/><path d="M231.6,8 248.4,8 248.4,24 235.3,24 234.5,21.8 233.1,16Z" fill="#cdf4cc"/><path d="M204.7,8 231.6,8 233.1,16 234.5,21.8 236,29.1 236.7,35.6 206.9,35.6 206.9,29.1 210.5,29.1 210.5,24 211.3,24 211.3,18.2 214.2,18.2 214.2,12.8 204.7,12.8Z" fill="#8fe39a"/><path d="M209.1,35.6 236.7,35.6 238.2,37.8 238.2,62 223.6,62 220,60.4 214.9,58.2 214.9,54.5 211.3,54.5 211.3,50.2 204,50.2 204,42.2 209.1,42.2Z" fill="#8fe39a"/><path d="M233.5,14.5 241.1,14.5 241.1,19.6 234.1,19.6Z" fill="#8fe39a"/><path d="M237.5,24.7 248.4,24.7 248.4,35.6 237.5,35.6 236,29.1Z" fill="#8fe39a"/><path d="M240,29.4 248,29.4 248,39.5 240,39.5Z" fill="#8fe39a"/><path d="M211.8,55 221.3,55 221.3,60.8 217.6,60.8Z" fill="#8fe39a"/><path d="M224.9,98.6 233.6,98.6 233.6,117 224.9,117Z" fill="#8fe39a"/><path d="M243.8,98.6 254,98.6 254,117 243.8,117Z" fill="#8fe39a"/><path d="M224.5,96.6 228.9,96.6 228.9,106.8 231.8,106.8 231.8,117 226.7,117 226.7,106.8 224.5,106.8Z" fill="#8fe39a"/><path d="M242.7,98.8 254.4,98.8 254.4,117 242.7,117Z" fill="#8fe39a"/><path d="M242.3,117.3 244.2,117.3 244.2,121.4 242.3,121.4Z" fill="#8fe39a"/><path d="M236,25 240.4,25 240.4,29.1 236.4,29.1Z" fill="#16b85a"/><path d="M224.4,36.4 230.9,36.4 230.9,39.6 224.4,39.6Z" fill="#16b85a"/><path d="M224.4,41.5 238.2,41.5 237.5,35.6 244,34.9 244.7,41.5 249.8,41.5 249.8,43.6 260,42.2 260,62 223.6,62 226.5,58.2 224.4,54.5 223.6,48Z" fill="#16b85a"/><path d="M240,34.5 245.8,34.5 245.8,39.5 250.2,39.5 250.2,43.9 253.8,41.7 269.1,41.7 271.3,46.1 277.8,49 281.5,51.9 283.6,54.8 286.5,59.9 290.9,59.9 295.3,59.2 300.4,59.9 301.1,52.6 315.6,51.9 317.8,53.4 319.3,59.9 320,73 320,87 240,87Z" fill="#16b85a"/><path d="M283.6,46.8 287.7,46.8 287.7,51.9 283.6,51.9Z" fill="#16b85a"/><path d="M266.9,40.7 271.3,40.7 271.3,43.9 266.9,43.9Z" fill="#16b85a"/><path d="M328.3,75.2 328.3,70.1 331.2,69.4 336.3,67.2 336.3,63.5 343.5,63.5 343.5,59.2 350.8,59.2 350.8,54.8 355.2,54.8 355.9,53.4 363.2,53.4 364.6,56.3 365.4,62.8 363.9,66.5 361,68.6 358.8,71.5 356.6,73.7 355.2,75.2 369,76.6 369,87 322.5,87 322.5,75.2Z" fill="#16b85a"/><path d="M310.8,51.9 316.6,51.9 316.6,59.9 317.4,59.9 317.8,67.2 313,67.2 313,59.9 310.8,59.9Z" fill="#16b85a"/><path d="M250,84.5 287.8,85.3 293.6,99.1 290.7,99.1 286.4,101.3 279.1,102 274.7,104.2 268.9,102.7 258.7,103.5 255.8,106.4 250,106.4Z" fill="#16b85a"/><path d="M221.3,55 270,55 270,86.3 259.8,86.3 259.8,97.2 254,97.2 254,103 233.6,103 233.6,97.2 219.1,97.2 219.1,90.6 213.3,90.6 213.3,84.1 221.3,84.1 221.3,79 224.9,79 224.9,69.5 221.3,69.5Z" fill="#16b85a"/><path d="M214.4,90.8 228.9,90.8 228.9,93.7 224.5,93.7 224.5,96.6 218.7,96.6 218.7,93.7 214.4,93.7Z" fill="#16b85a"/><path d="M228.9,98.8 233.3,98.8 233.3,101.7 228.9,101.7Z" fill="#16b85a"/><path d="M246.4,99.5 250.7,99.5 250.7,108.3 246.4,108.3Z" fill="#16b85a"/><path d="M233.3,90.8 256.5,90.8 256.5,93.7 260.2,93.7 260.2,96.6 290,96.6 290,103.9 260.2,103.9 260.2,106.8 256.5,106.8 256.5,99.5 233.3,99.5Z" fill="#16b85a"/><path d="M270,97.9 284.5,97.9 288.9,102.3 278.7,103.7 270,102.3Z" fill="#16b85a"/><path d="M238.2,48 244,48 244,43.6 249.8,43.6 252.7,42.2 260,41.5 260,62 238.2,62Z" fill="#0a8f3f"/><path d="M240,49 250.2,49 250.2,43.9 253.8,42.2 266.9,42.2 271.3,46.1 277.8,49 281.5,51.9 283.6,54.8 286.5,59.9 288,61.4 301.1,61.4 301.1,52.9 311.3,52.9 311.3,59.9 312.7,59.9 312.7,67.2 317.8,67.2 317.8,73 320,73 320,87 240,87Z" fill="#0a8f3f"/><path d="M355.2,54.8 355.9,53.4 363.2,53.4 364.6,56.3 365.4,62.8 363.9,66.5 361,66.5 361,64.3 355.2,64.3Z" fill="#0a8f3f"/><path d="M322.5,75.2 363.2,75.2 363.2,87 322.5,87Z" fill="#0a8f3f"/><path d="M305,51.9 310.8,51.9 310.8,59.9 313,59.9 313,67.2 317.4,67.2 318.1,73 319.5,75.2 322.5,75.2 322.5,87 305,87Z" fill="#0a8f3f"/><path d="M329.5,74.5 363,74.5 365.2,75.9 371,76.6 369.5,79.5 368.8,88.3 364.5,90.5 363.7,94.1 358.6,96.3 357.2,99.2 351.4,101.4 349.2,97.7 346.3,99.2 344.1,97.7 341.2,99.9 336.8,102.1 335.4,98.5 331,99.9 327.4,104.3 323.7,105.7 322.3,110.1 320.1,114.5 317.2,117.4 315,118.1 315,76.6 317.9,75.2 323.7,74.5Z" fill="#0a8f3f"/><path d="M250,70 318.4,70 318.4,74.4 330,74.4 330,113.6 311.1,113.6 311.1,118 308.2,118 308.2,132 293.6,132 293.6,118 298,118 296.5,107.8 293.6,99.1 287.8,85.3 250,85.3Z" fill="#0a8f3f"/><path d="M250,84.5 258.7,84.5 258.7,88.9 250,88.9Z" fill="#0a8f3f"/><path d="M236.5,55 270,55 270,86.3 262.7,86.3 262.7,98.6 254.7,98.6 252.5,95.7 248.2,89.9 248.2,97.2 238,97.2 238,89.9 233.6,89.9 233.6,84.1 225.6,84.1 225.6,69.5 233.6,69.5 236.5,63.7Z" fill="#0a8f3f"/><path d="M294,95 328.2,95 327.5,103.7 326,109.5 323.8,112.5 319.5,113.9 316.5,116.8 313.6,114.6 311.5,116.8 310.7,121.9 291.8,121.9 291.8,116.8 296.9,114.6 299.1,112.5 297.6,109.5 294.7,103.7Z" fill="#0a8f3f"/><path d="M296.5,112.3 306.8,112.3 308.5,115.7 312,117.5 312,122.6 312.9,131.3 310.3,132.1 304.2,132.1 300.8,129.5 299,132.1 297.3,134.7 297.3,141.6 298.2,146.8 296.5,152 292.1,154.6 290.4,157.2 287.8,157.2 287.8,163.2 285.2,167.6 283.5,168.9 278.3,168.9 278.3,164.1 279.2,155.5 282.6,154.6 282.6,146.8 278.3,144.2 277.5,138.2 280,133.9 283.5,132.1 285.2,127.8 290.4,126.1 290.4,120.9 293.9,117.5 296.5,115.7Z" fill="#0a8f3f"/><path d="M278.5,153.8 279.2,162.7 277.9,164 288,164 288.3,160.8 288.7,155 286.8,153.8Z" fill="#0a8f3f"/><path d="M277.9,164 277.3,169 277.3,172.9 281.7,173.5 281.7,176.7 285.5,176.7 285.5,172.3 283.6,171 284.9,167.8 286.8,164Z" fill="#16b85a"/><path d="M221,51.3 238,51.3 238,58.3 221,58.3Z" fill="#8fe39a"/><path d="M365.2,76.6 371,76.6 371,79.5 365.2,79.5Z" fill="#16b85a"/><path d="M364.5,86.8 369.1,86.8 369.1,90.5 364.5,90.5Z" fill="#16b85a"/><path d="M336.1,96.3 341.9,96.3 341.9,99.9 336.8,102.1Z" fill="#16b85a"/><path d="M346.3,91.2 350.6,91.2 350.6,94.1 346.3,94.1Z" fill="#16b85a"/><path d="M358.6,90.5 363.7,90.5 363.7,94.1 358.6,96.3Z" fill="#16b85a"/><path d="M250,99.1 255.1,99.1 255.1,116.5 250,116.5Z" fill="#8fe39a"/><path d="M266,86 270.4,86 270.4,91.8 266,91.8Z" fill="#8fe39a"/><path d="M273.3,96.9 276.9,96.9 276.9,101.3 273.3,101.3Z" fill="#8fe39a"/><path d="M298,80 303,80 303,82.7 298,82.7Z" fill="#0a4519"/><path d="M300.5,82.7 306,82.7 306,86.8 300.5,86.8Z" fill="#0a4519"/><path d="M304.5,85.5 311.4,85.5 311.4,89.5 304.5,89.5Z" fill="#0a4519"/><path d="M296.8,89.5 312,89.5 312,93.6 296.8,93.6Z" fill="#0a4519"/><path d="M296,93.6 300,93.6 300,98 296,98Z" fill="#0a4519"/><path d="M316,90.5 320,90.5 320,94.5 316,94.5Z" fill="#0a4519"/><path d="M287.7,66.4 291.4,66.4 291.4,68.2 287.7,68.2Z" fill="#0a4519"/><path d="M318.4,107.1 321.3,107.1 321.3,109.3 318.4,109.3Z" fill="#0a4519"/><path d="M308.2,112.2 315.5,112.2 315.5,118 308.2,118Z" fill="#16b85a"/><path d="M238,60.1 243.1,60.1 243.1,63 238,63Z" fill="#0a4519"/><path d="M216.9,84.1 222.7,84.1 222.7,86.3 216.9,86.3Z" fill="#0a4519"/><path d="M213.3,87 217.6,87 217.6,89.9 213.3,89.9Z" fill="#0a4519"/><path d="M220,94 230,94 230,97.8 220,97.8Z" fill="#8fe39a"/><path d="M226.5,106.5 230.6,106.5 230.6,108.7 226.5,108.7Z" fill="#16b85a"/><path d="M267.5,87.2 271.1,87.2 271.1,92.3 267.5,92.3Z" fill="#8fe39a"/><path d="M274,97.4 277.6,97.4 277.6,101 274,101Z" fill="#8fe39a"/><path d="M301.3,103.7 309.3,103.7 309.3,113.9 303.5,113.9Z" fill="#16b85a"/><path d="M318.3,106.2 320.9,106.2 320.9,108.8 318.3,108.8Z" fill="#0a4519"/><path d="M278.3,144.2 277.5,138.2 280,133.9 283.5,132.1 285.2,127.8 290.4,126.1 292.1,129.5 289.5,134.7 287,139.9 287,146 282.6,146.8Z" fill="#16b85a"/><path d="M300.8,117.5 312,117.5 312,122.6 312.9,131.3 310.3,132.1 304.2,132.1 300.8,129.5 304.2,124.4Z" fill="#16b85a"/><path d="M278.3,164.1 282.6,164.1 283.5,168.9 278.3,168.9Z" fill="#16b85a"/><path d="M293.9,140.8 296.5,140.8 296.5,144.2 293.9,144.2Z" fill="#8fe39a"/></g><mask id="Mtop" maskUnits="userSpaceOnUse" x="150" y="0" width="250" height="200"><rect x="150" y="0" width="250" height="200" fill="#fff"/><path d="M234.5,45 238.2,45 238.2,48.6 234.5,48.6ZM249.5,41.4 253.6,41.4 253.6,45 249.5,45ZM234.5,51.8 237.7,51.8 237.7,54.5 234.5,54.5ZM232.3,55 237.7,55 237.7,57.7 232.3,57.7ZM236.8,63.8 247.7,63.8 247.7,66.8 236.8,66.8ZM238.6,66.8 244.5,66.8 244.5,69.5 238.6,69.5ZM248.2,66.8 252.3,66.8 252.3,70 248.2,70ZM232.7,66 236,66 236,69 232.7,69ZM230,69 233.2,69 233.2,73.6 230,73.6ZM241.8,73.2 250,73.2 250,76 241.8,76ZM254,73.2 257.7,73.2 257.7,79 254,79ZM262.7,76.4 266.4,76.4 266.4,79 262.7,79ZM269.5,48.2 275,48.2 275,51.4 269.5,51.4ZM269.5,55 275,55 275,57.7 269.5,57.7ZM270,61 275,61 275,63.6 270,63.6ZM272.3,73.2 275,73.2 275,76 272.3,76ZM270,49 274.5,49 274.5,51.8 270,51.8ZM273.6,52.7 278.2,52.7 278.2,55 273.6,55ZM270,55.5 274.5,55.5 274.5,58.2 270,58.2ZM270,61.4 278.2,61.4 278.2,63.6 270,63.6ZM282.7,62.3 286.8,62.3 286.8,66 282.7,66ZM281,69.5 284.5,69.5 284.5,73.2 281,73.2ZM271.8,73.6 280,73.6 280,76 271.8,76ZM289,69 294.5,69 294.5,71.8 289,71.8ZM305,76 310,76 310,80.3 305,80.3ZM309.5,67.7 313.2,67.7 313.2,70 309.5,70ZM225,78.2 229.5,78.2 229.5,80.5 225,80.5ZM238.2,81 243.2,81 243.2,82.7 238.2,82.7ZM244.5,80 247.7,80 247.7,81.8 244.5,81.8ZM252.3,80 256,80 256,81.8 252.3,81.8ZM226,84 233.2,84 233.2,88.6 226,88.6ZM238.2,85.5 241.8,85.5 241.8,87.7 238.2,87.7ZM248.2,85 257.7,85 257.7,91.4 248.2,91.4ZM263.2,85 266,85 266,91 263.2,91ZM271.4,90 275,90 275,92.7 271.4,92.7ZM264,93.2 268.6,93.2 268.6,98.6 264,98.6ZM237.7,97.7 243.2,97.7 243.2,101.4 237.7,101.4ZM234,101.4 242.3,101.4 242.3,107.7 234,107.7ZM231.4,107.7 236.8,107.7 236.8,114 231.4,114ZM246.8,108.2 250.5,108.2 250.5,111.4 246.8,111.4ZM275,76.8 283.2,76.8 283.2,79.5 275,79.5ZM284.5,78.2 292.3,78.2 292.3,84 284.5,84ZM289,84 292.7,84 292.7,86.8 289,86.8ZM276,84.5 283.2,84.5 283.2,90 276,90ZM270.5,90 276,90 276,93.2 270.5,93.2ZM265,93.2 269.5,93.2 269.5,99.5 265,99.5ZM284.5,88.6 291.4,88.6 291.4,93.2 284.5,93.2ZM291.4,94.5 296,94.5 296,99.5 291.4,99.5ZM301,86.8 305,86.8 305,90.5 301,90.5ZM300,94.5 304,94.5 304,98.2 300,98.2ZM311.4,91.4 315.5,91.4 315.5,104 311.4,104ZM321,76.4 322.7,76.4 322.7,79 321,79ZM321.4,87.3 323.6,87.3 323.6,90 321.4,90ZM285,88 288.6,88 288.6,91.8 285,91.8ZM238.6,42.7 247.7,48.2 238.6,47.7ZM218.1,42.2 223.6,42.2 223.6,48 218.1,48ZM221.2,55 223.6,55 223.6,57.9 221.2,57.9ZM231.6,37.1 236,37.1 236,41.5 231.6,41.5ZM218,43 224,43 224,47.5 218,47.5ZM231.4,36.4 235.6,36.4 235.6,40.6 231.4,40.6ZM309.4,67.9 314.5,67.9 314.5,70.8 309.4,70.8ZM305,75.9 310.1,75.9 310.1,79.5 305,79.5ZM347.2,65 350.8,65 350.8,67.9 347.2,67.9ZM356.6,67.2 360.3,67.2 360.3,70.1 356.6,70.1ZM336.3,71.5 343.5,71.5 343.5,73.7 336.3,73.7ZM348.6,74.5 353,74.5 353,76.6 348.6,76.6ZM325.4,78.8 330.5,78.8 330.5,84.6 325.4,84.6ZM355.2,78.8 362.5,78.8 362.5,81.7 355.2,81.7ZM353,81 355.9,81 355.9,84.6 353,84.6ZM358.1,83.2 361,83.2 361,85.4 358.1,85.4ZM336.1,71.1 344.8,71.1 344.8,73 336.1,73ZM348.5,74.9 352.8,74.9 352.8,76.3 348.5,76.3ZM323.7,81.7 329.5,81.7 329.5,85.4 323.7,85.4ZM341.9,82.5 344.8,82.5 344.8,86.8 341.9,86.8ZM353.5,79.5 357.2,79.5 357.2,82.5 353.5,82.5ZM357.9,78.8 362.3,78.8 362.3,81 357.9,81ZM364.5,81.7 366.6,81.7 366.6,84.6 364.5,84.6ZM357.9,83.9 361.5,83.9 361.5,85.4 357.9,85.4ZM331,90.9 333.9,90.9 333.9,92.9 331,92.9ZM322,100.5 327.1,100.5 327.1,104.2 322,104.2ZM324.9,91.8 330,91.8 330,99.1 324.9,99.1ZM314,104.2 319.8,104.2 319.8,106.4 314,106.4ZM218.4,87 224.9,87 224.9,89.9 218.4,89.9ZM310.7,103 315.1,103 315.1,106.6 310.7,106.6ZM304.9,115.4 309.3,115.4 309.3,118.3 304.9,118.3ZM309.5,103 315.5,103 315.5,107.5 309.5,107.5ZM305.5,109 309,109 309,111.6 305.5,111.6ZM305,115.7 307.7,115.7 307.7,118 305,118ZM321.8,95.3 328,95.3 328,99.8 321.8,99.8ZM324.5,99.8 329,99.8 329,102.5 324.5,102.5ZM330,90.7 334.5,90.7 334.5,93 330,93ZM300,94.4 303.6,94.4 303.6,98 300,98ZM316.4,105.7 318.2,105.7 318.2,109.8 316.4,109.8ZM318.2,105.2 321.6,105.2 321.6,106.6 318.2,106.6ZM290.5,93.5 292,93.5 292,99.5 290.5,99.5ZM309,102 315,102 315,112 309,112Z" fill="#000"/></mask><g id="Gaug"><path d="M188,8 231.6,8 233.1,16 234.5,21.8 236,29.1 236.7,35.6 238.2,37.8 238.2,62 223.6,62 220,60.4 214.9,58.2 209.1,54.5 203.3,50.2 199.6,46.5 201.1,41.5 200.4,35.6 201.1,35.6 201.1,29.1 204,29.1 204,24 199.6,24 199.6,18.2 196,18.2 196,11.6 188,11.6Z" fill="#8fe39a"/><path d="M231.6,8 248.4,8 248.4,24 249.8,24 249.8,35.6 237.5,35.6 236,29.1 234.5,21.8 233.1,16Z" fill="#8fe39a"/><path d="M204.7,8 231.6,8 233.1,16 234.5,21.8 236,29.1 236.7,35.6 206.9,35.6 206.9,29.1 210.5,29.1 210.5,24 211.3,24 211.3,18.2 214.2,18.2 214.2,12.8 204.7,12.8Z" fill="#8fe39a"/><path d="M209.1,35.6 236.7,35.6 238.2,37.8 238.2,62 223.6,62 220,60.4 214.9,58.2 214.9,54.5 211.3,54.5 211.3,50.2 204,50.2 204,42.2 209.1,42.2Z" fill="#8fe39a"/><path d="M240,29.4 248,29.4 248,39.5 240,39.5Z" fill="#16b85a"/><path d="M211.8,55 221.3,55 221.3,60.8 217.6,60.8Z" fill="#8fe39a"/><path d="M224.9,98.6 233.6,98.6 233.6,117 224.9,117Z" fill="#8fe39a"/><path d="M243.8,98.6 254,98.6 254,117 243.8,117Z" fill="#8fe39a"/><path d="M224.5,96.6 228.9,96.6 228.9,106.8 231.8,106.8 231.8,117 226.7,117 226.7,106.8 224.5,106.8Z" fill="#8fe39a"/><path d="M242.7,98.8 254.4,98.8 254.4,117 242.7,117Z" fill="#8fe39a"/><path d="M242.3,117.3 244.2,117.3 244.2,121.4 242.3,121.4Z" fill="#8fe39a"/><path d="M224.4,41.5 238.2,41.5 237.5,35.6 244,34.9 244.7,41.5 249.8,41.5 249.8,43.6 260,42.2 260,62 223.6,62 226.5,58.2 224.4,54.5 223.6,48Z" fill="#16b85a"/><path d="M237.5,35.6 249.8,34.2 249.8,42.2 238.2,42.2Z" fill="#16b85a"/><path d="M240,34.5 245.8,34.5 245.8,39.5 250.2,39.5 250.2,43.9 253.8,41.7 269.1,41.7 271.3,46.1 277.8,49 281.5,51.9 283.6,54.8 286.5,59.9 290.9,59.9 295.3,59.2 300.4,59.9 301.1,52.6 315.6,51.9 317.8,53.4 319.3,59.9 320,73 320,87 240,87Z" fill="#16b85a"/><path d="M328.3,75.2 328.3,70.1 331.2,69.4 336.3,67.2 336.3,63.5 343.5,63.5 343.5,59.2 350.8,59.2 350.8,54.8 355.2,54.8 355.9,53.4 363.2,53.4 364.6,56.3 365.4,62.8 363.9,66.5 361,68.6 358.8,71.5 356.6,73.7 355.2,75.2 369,76.6 369,87 322.5,87 322.5,75.2Z" fill="#16b85a"/><path d="M250,84.5 287.8,85.3 293.6,99.1 290.7,99.1 286.4,101.3 279.1,102 274.7,104.2 268.9,102.7 258.7,103.5 255.8,106.4 250,106.4Z" fill="#16b85a"/><path d="M221.3,55 270,55 270,86.3 259.8,86.3 259.8,97.2 254,97.2 254,103 233.6,103 233.6,97.2 219.1,97.2 219.1,90.6 213.3,90.6 213.3,84.1 221.3,84.1 221.3,79 224.9,79 224.9,69.5 221.3,69.5Z" fill="#16b85a"/><path d="M214.4,90.8 228.9,90.8 228.9,93.7 224.5,93.7 224.5,96.6 218.7,96.6 218.7,93.7 214.4,93.7Z" fill="#16b85a"/><path d="M228.9,98.8 233.3,98.8 233.3,101.7 228.9,101.7Z" fill="#16b85a"/><path d="M246.4,99.5 250.7,99.5 250.7,108.3 246.4,108.3Z" fill="#16b85a"/><path d="M233.3,90.8 256.5,90.8 256.5,93.7 260.2,93.7 260.2,96.6 290,96.6 290,103.9 260.2,103.9 260.2,106.8 256.5,106.8 256.5,99.5 233.3,99.5Z" fill="#16b85a"/><path d="M270,97.9 284.5,97.9 288.9,102.3 278.7,103.7 270,102.3Z" fill="#16b85a"/><path d="M238.2,48 244,48 244,43.6 249.8,43.6 252.7,42.2 260,41.5 260,62 238.2,62Z" fill="#0a8f3f"/><path d="M248.7,49 250.2,49 250.2,43.9 253.8,42.2 266.9,42.2 271.3,46.1 277.8,49 281.5,51.9 283.6,54.8 286.5,59.9 289.5,67.2 298.2,71.5 309.8,73 320,73 320,87 240,87 240,56.3 248.7,56.3Z" fill="#0a8f3f"/><path d="M355.9,53.4 363.2,53.4 363.9,59.9 355.9,59.9Z" fill="#0a8f3f"/><path d="M305,53.4 311.5,53.4 311.5,67.2 317.4,67.2 318.1,73 319.5,75.2 322.5,75.2 322.5,87 305,87Z" fill="#0a8f3f"/><path d="M329.5,74.5 363,74.5 365.2,75.9 371,76.6 369.5,79.5 368.8,88.3 364.5,90.5 363.7,94.1 358.6,96.3 357.2,99.2 351.4,101.4 349.2,97.7 346.3,99.2 344.1,97.7 341.2,99.9 336.8,102.1 335.4,98.5 331,99.9 327.4,104.3 323.7,105.7 322.3,110.1 320.1,114.5 317.2,117.4 315,118.1 315,76.6 317.9,75.2 323.7,74.5Z" fill="#16b85a"/><path d="M250,70 318.4,70 318.4,74.4 330,74.4 330,113.6 311.1,113.6 311.1,118 308.2,118 308.2,132 293.6,132 293.6,118 298,118 296.5,107.8 293.6,99.1 287.8,85.3 250,85.3Z" fill="#0a8f3f"/><path d="M250,84.5 258.7,84.5 258.7,88.9 250,88.9Z" fill="#0a8f3f"/><path d="M236.5,55 270,55 270,86.3 262.7,86.3 262.7,98.6 254.7,98.6 252.5,95.7 248.2,89.9 248.2,97.2 238,97.2 238,89.9 233.6,89.9 233.6,84.1 225.6,84.1 225.6,69.5 233.6,69.5 236.5,63.7Z" fill="#0a8f3f"/><path d="M294,95 328.2,95 327.5,103.7 326,109.5 323.8,112.5 319.5,113.9 316.5,116.8 313.6,114.6 311.5,116.8 310.7,121.9 291.8,121.9 291.8,116.8 296.9,114.6 299.1,112.5 297.6,109.5 294.7,103.7Z" fill="#0a8f3f"/><path d="M296.5,112.3 306.8,112.3 308.5,115.7 312,117.5 312,122.6 312.9,131.3 310.3,132.1 304.2,132.1 300.8,129.5 299,132.1 297.3,134.7 297.3,141.6 298.2,146.8 296.5,152 292.1,154.6 290.4,157.2 287.8,157.2 287.8,163.2 285.2,167.6 283.5,168.9 278.3,168.9 278.3,164.1 279.2,155.5 282.6,154.6 282.6,146.8 278.3,144.2 277.5,138.2 280,133.9 283.5,132.1 285.2,127.8 290.4,126.1 290.4,120.9 293.9,117.5 296.5,115.7Z" fill="#0a8f3f"/><path d="M278.5,153.8 279.2,162.7 277.9,164 288,164 288.3,160.8 288.7,155 286.8,153.8Z" fill="#16b85a"/><path d="M277.9,164 277.3,169 277.3,172.9 281.7,173.5 281.7,176.7 285.5,176.7 285.5,172.3 283.6,171 284.9,167.8 286.8,164Z" fill="#16b85a"/><path d="M221,51.3 238,51.3 238,58.3 221,58.3Z" fill="#8fe39a"/><path d="M282.2,45.4 288,45.4 288,47.5 286.3,47.5 286.3,51.2 283.9,51.2 283.9,47.5 282.2,47.5Z" fill="#0a4519"/><path d="M322.3,74 357.2,74 357.2,94.1 344.1,97 335.4,97.7 331,99.9 327.4,104.3 323.7,105.7 322.3,110.1 320.1,114.5 317.2,117.4 315,118.1 315,76.6Z" fill="#0a8f3f"/><path d="M250,99.1 255.1,99.1 255.1,116.5 250,116.5Z" fill="#8fe39a"/><path d="M305.3,86.7 311.1,86.7 311.1,89.6 305.3,89.6Z" fill="#0a4519"/><path d="M308.2,112.2 315.5,112.2 315.5,118 308.2,118Z" fill="#16b85a"/><path d="M227.1,73.2 233.6,73.2 233.6,76.8 227.1,76.8Z" fill="#0a4519"/><path d="M232.2,69.5 239.5,69.5 239.5,75.4 232.2,75.4Z" fill="#0a4519"/><path d="M220,94 230,94 230,97.8 220,97.8Z" fill="#8fe39a"/><path d="M226.5,106.5 230.6,106.5 230.6,108.7 226.5,108.7Z" fill="#16b85a"/><path d="M301.3,103.7 309.3,103.7 309.3,113.9 303.5,113.9Z" fill="#16b85a"/><path d="M278.3,144.2 277.5,138.2 280,133.9 283.5,132.1 285.2,127.8 290.4,126.1 292.1,129.5 289.5,134.7 287,139.9 287,146 282.6,146.8Z" fill="#16b85a"/><path d="M300.8,117.5 312,117.5 312,122.6 312.9,131.3 310.3,132.1 304.2,132.1 300.8,129.5 304.2,124.4Z" fill="#16b85a"/><path d="M278.3,164.1 282.6,164.1 283.5,168.9 278.3,168.9Z" fill="#16b85a"/><path d="M293.9,140.8 296.5,140.8 296.5,144.2 293.9,144.2Z" fill="#8fe39a"/><path d="M279.2,155.5 282.6,154.6 287.8,157.2 287.8,163.2 285.2,167.6 283.5,168.9 278.3,168.9 278.3,164.1Z" fill="#16b85a"/><path d="M241.8,24.7 249.8,24.7 249.8,29.1 241.8,29.1Z" fill="#16b85a"/><path d="M230.9,29.1 236,29.1 236,34.2 230.9,34.2Z" fill="#16b85a"/><path d="M217.8,36.4 223.6,36.4 223.6,41.5 217.8,41.5Z" fill="#16b85a"/><path d="M204,12.4 206.9,12.4 206.9,16 204,16Z" fill="#cdf4cc"/><path d="M201.1,18.2 204.7,18.2 204.7,21.8 201.1,21.8Z" fill="#cdf4cc"/><path d="M206.9,32 216.4,32 216.4,34.2 206.9,34.2Z" fill="#cdf4cc"/><path d="M209.1,36.4 216.4,36.4 216.4,39.3 209.1,39.3Z" fill="#cdf4cc"/><path d="M241.5,27.9 250.2,27.9 250.2,32.3 241.5,32.3Z" fill="#8fe39a"/><path d="M261.8,62.1 266.9,62.1 266.9,67.9 261.8,67.9Z" fill="#16b85a"/><path d="M252.4,54.1 258.9,54.1 258.9,56.3 252.4,56.3Z" fill="#16b85a"/><path d="M312.7,54.1 320,54.1 320,67.2 312.7,67.2Z" fill="#0a8f3f"/><path d="M257.3,78.7 283.5,78.7 283.5,84.5 257.3,84.5Z" fill="#16b85a"/><path d="M214,83.4 225.6,83.4 225.6,86.3 214,86.3Z" fill="#0a8f3f"/><path d="M278.3,134.7 282.6,134.7 282.6,142.5 278.3,142.5Z" fill="#8fe39a"/><path d="M284.4,131.3 287.8,131.3 287.8,134.7 284.4,134.7Z" fill="#8fe39a"/></g><mask id="Maug" maskUnits="userSpaceOnUse" x="150" y="0" width="250" height="200"><rect x="150" y="0" width="250" height="200" fill="#fff"/><path d="M234.5,45 238.2,45 238.2,48.6 234.5,48.6ZM249.5,41.4 253.6,41.4 253.6,45 249.5,45ZM234.5,51.8 237.7,51.8 237.7,54.5 234.5,54.5ZM232.3,55 237.7,55 237.7,57.7 232.3,57.7ZM236.8,63.8 247.7,63.8 247.7,66.8 236.8,66.8ZM238.6,66.8 244.5,66.8 244.5,69.5 238.6,69.5ZM248.2,66.8 252.3,66.8 252.3,70 248.2,70ZM232.7,66 236,66 236,69 232.7,69ZM230,69 233.2,69 233.2,73.6 230,73.6ZM241.8,73.2 250,73.2 250,76 241.8,76ZM254,73.2 257.7,73.2 257.7,79 254,79ZM262.7,76.4 266.4,76.4 266.4,79 262.7,79ZM269.5,48.2 275,48.2 275,51.4 269.5,51.4ZM269.5,55 275,55 275,57.7 269.5,57.7ZM270,61 275,61 275,63.6 270,63.6ZM272.3,73.2 275,73.2 275,76 272.3,76ZM270,49 274.5,49 274.5,51.8 270,51.8ZM273.6,52.7 278.2,52.7 278.2,55 273.6,55ZM270,55.5 274.5,55.5 274.5,58.2 270,58.2ZM270,61.4 278.2,61.4 278.2,63.6 270,63.6ZM282.7,62.3 286.8,62.3 286.8,66 282.7,66ZM281,69.5 284.5,69.5 284.5,73.2 281,73.2ZM271.8,73.6 280,73.6 280,76 271.8,76ZM289,69 294.5,69 294.5,71.8 289,71.8ZM305,76 310,76 310,80.3 305,80.3ZM309.5,67.7 313.2,67.7 313.2,70 309.5,70ZM225,78.2 229.5,78.2 229.5,80.5 225,80.5ZM238.2,81 243.2,81 243.2,82.7 238.2,82.7ZM244.5,80 247.7,80 247.7,81.8 244.5,81.8ZM252.3,80 256,80 256,81.8 252.3,81.8ZM226,84 233.2,84 233.2,88.6 226,88.6ZM238.2,85.5 241.8,85.5 241.8,87.7 238.2,87.7ZM248.2,85 257.7,85 257.7,91.4 248.2,91.4ZM263.2,85 266,85 266,91 263.2,91ZM271.4,90 275,90 275,92.7 271.4,92.7ZM264,93.2 268.6,93.2 268.6,98.6 264,98.6ZM237.7,97.7 243.2,97.7 243.2,101.4 237.7,101.4ZM234,101.4 242.3,101.4 242.3,107.7 234,107.7ZM231.4,107.7 236.8,107.7 236.8,114 231.4,114ZM246.8,108.2 250.5,108.2 250.5,111.4 246.8,111.4ZM275,76.8 283.2,76.8 283.2,79.5 275,79.5ZM284.5,78.2 292.3,78.2 292.3,84 284.5,84ZM289,84 292.7,84 292.7,86.8 289,86.8ZM276,84.5 283.2,84.5 283.2,90 276,90ZM270.5,90 276,90 276,93.2 270.5,93.2ZM265,93.2 269.5,93.2 269.5,99.5 265,99.5ZM284.5,88.6 291.4,88.6 291.4,93.2 284.5,93.2ZM291.4,94.5 296,94.5 296,99.5 291.4,99.5ZM301,86.8 305,86.8 305,90.5 301,90.5ZM300,94.5 304,94.5 304,98.2 300,98.2ZM311.4,91.4 315.5,91.4 315.5,104 311.4,104ZM321,76.4 322.7,76.4 322.7,79 321,79ZM321.4,87.3 323.6,87.3 323.6,90 321.4,90ZM285,88 288.6,88 288.6,91.8 285,91.8ZM238.6,42.7 247.7,48.2 238.6,47.7ZM198.9,22.5 204,22.5 204,27.6 198.9,27.6ZM218.1,42.2 223.6,42.2 223.6,48 218.1,48ZM221.2,55 223.6,55 223.6,57.9 221.2,57.9ZM231.6,37.1 236,37.1 236,41.5 231.6,41.5ZM218,43 224,43 224,47.5 218,47.5ZM231.4,36.4 235.6,36.4 235.6,40.6 231.4,40.6ZM309.4,67.9 314.5,67.9 314.5,70.8 309.4,70.8ZM305,75.9 310.1,75.9 310.1,79.5 305,79.5ZM347.2,65 350.8,65 350.8,67.9 347.2,67.9ZM356.6,67.2 360.3,67.2 360.3,70.1 356.6,70.1ZM336.3,71.5 343.5,71.5 343.5,73.7 336.3,73.7ZM348.6,74.5 353,74.5 353,76.6 348.6,76.6ZM325.4,78.8 330.5,78.8 330.5,84.6 325.4,84.6ZM355.2,78.8 362.5,78.8 362.5,81.7 355.2,81.7ZM353,81 355.9,81 355.9,84.6 353,84.6ZM358.1,83.2 361,83.2 361,85.4 358.1,85.4ZM336.1,71.1 344.8,71.1 344.8,73 336.1,73ZM348.5,74.9 352.8,74.9 352.8,76.3 348.5,76.3ZM323.7,81.7 329.5,81.7 329.5,85.4 323.7,85.4ZM341.9,82.5 344.8,82.5 344.8,86.8 341.9,86.8ZM353.5,79.5 357.2,79.5 357.2,82.5 353.5,82.5ZM357.9,78.8 362.3,78.8 362.3,81 357.9,81ZM364.5,81.7 366.6,81.7 366.6,84.6 364.5,84.6ZM357.9,83.9 361.5,83.9 361.5,85.4 357.9,85.4ZM331,90.9 333.9,90.9 333.9,92.9 331,92.9ZM322,100.5 327.1,100.5 327.1,104.2 322,104.2ZM324.9,91.8 330,91.8 330,99.1 324.9,99.1ZM314,104.2 319.8,104.2 319.8,106.4 314,106.4ZM218.4,87 224.9,87 224.9,89.9 218.4,89.9ZM310.7,103 315.1,103 315.1,106.6 310.7,106.6ZM304.9,115.4 309.3,115.4 309.3,118.3 304.9,118.3ZM309.5,103 315.5,103 315.5,107.5 309.5,107.5ZM305.5,109 309,109 309,111.6 305.5,111.6ZM305,115.7 307.7,115.7 307.7,118 305,118ZM321.8,95.3 328,95.3 328,99.8 321.8,99.8ZM324.5,99.8 329,99.8 329,102.5 324.5,102.5ZM330,90.7 334.5,90.7 334.5,93 330,93ZM300,94.4 303.6,94.4 303.6,98 300,98ZM316.4,105.7 318.2,105.7 318.2,109.8 316.4,109.8ZM318.2,105.2 321.6,105.2 321.6,106.6 318.2,106.6ZM290.5,93.5 292,93.5 292,99.5 290.5,99.5ZM309,102 315,102 315,112 309,112Z" fill="#000"/></mask><g id="Gsep"><path d="M188,8 231.6,8 233.1,16 234.5,21.8 236,29.1 236.7,35.6 238.2,37.8 238.2,62 223.6,62 220,60.4 214.9,58.2 209.1,54.5 203.3,50.2 199.6,46.5 201.1,41.5 200.4,35.6 201.1,35.6 201.1,29.1 204,29.1 204,24 199.6,24 199.6,18.2 196,18.2 196,11.6 188,11.6Z" fill="#8fe39a"/><path d="M231.6,8 248.4,8 248.4,24 249.8,24 249.8,35.6 237.5,35.6 236,29.1 234.5,21.8 233.1,16Z" fill="#8fe39a"/><path d="M204.7,8 231.6,8 233.1,16 234.5,21.8 236,29.1 236.7,35.6 206.9,35.6 206.9,29.1 210.5,29.1 210.5,24 211.3,24 211.3,18.2 214.2,18.2 214.2,12.8 204.7,12.8Z" fill="#8fe39a"/><path d="M209.1,35.6 236.7,35.6 238.2,37.8 238.2,62 223.6,62 220,60.4 214.9,58.2 214.9,54.5 211.3,54.5 211.3,50.2 204,50.2 204,42.2 209.1,42.2Z" fill="#8fe39a"/><path d="M240,29.4 248,29.4 248,39.5 240,39.5Z" fill="#16b85a"/><path d="M211.8,55 221.3,55 221.3,60.8 217.6,60.8Z" fill="#8fe39a"/><path d="M224.9,98.6 233.6,98.6 233.6,117 224.9,117Z" fill="#8fe39a"/><path d="M243.8,98.6 254,98.6 254,117 243.8,117Z" fill="#8fe39a"/><path d="M224.5,96.6 228.9,96.6 228.9,106.8 231.8,106.8 231.8,117 226.7,117 226.7,106.8 224.5,106.8Z" fill="#8fe39a"/><path d="M242.7,98.8 254.4,98.8 254.4,117 242.7,117Z" fill="#8fe39a"/><path d="M242.3,117.3 244.2,117.3 244.2,121.4 242.3,121.4Z" fill="#8fe39a"/><path d="M224.4,41.5 238.2,41.5 237.5,35.6 244,34.9 244.7,41.5 249.8,41.5 249.8,43.6 260,42.2 260,62 223.6,62 226.5,58.2 224.4,54.5 223.6,48Z" fill="#16b85a"/><path d="M237.5,35.6 249.8,34.2 249.8,42.2 238.2,42.2Z" fill="#16b85a"/><path d="M240,34.5 245.8,34.5 245.8,39.5 250.2,39.5 250.2,43.9 253.8,41.7 269.1,41.7 271.3,46.1 277.8,49 281.5,51.9 283.6,54.8 286.5,59.9 290.9,59.9 295.3,59.2 300.4,59.9 301.1,52.6 315.6,51.9 317.8,53.4 319.3,59.9 320,73 320,87 240,87Z" fill="#16b85a"/><path d="M328.3,75.2 328.3,70.1 331.2,69.4 336.3,67.2 336.3,63.5 343.5,63.5 343.5,59.2 350.8,59.2 350.8,54.8 355.2,54.8 355.9,53.4 363.2,53.4 364.6,56.3 365.4,62.8 363.9,66.5 361,68.6 358.8,71.5 356.6,73.7 355.2,75.2 369,76.6 369,87 322.5,87 322.5,75.2Z" fill="#16b85a"/><path d="M250,84.5 287.8,85.3 293.6,99.1 290.7,99.1 286.4,101.3 279.1,102 274.7,104.2 268.9,102.7 258.7,103.5 255.8,106.4 250,106.4Z" fill="#16b85a"/><path d="M221.3,55 270,55 270,86.3 259.8,86.3 259.8,97.2 254,97.2 254,103 233.6,103 233.6,97.2 219.1,97.2 219.1,90.6 213.3,90.6 213.3,84.1 221.3,84.1 221.3,79 224.9,79 224.9,69.5 221.3,69.5Z" fill="#16b85a"/><path d="M214.4,90.8 228.9,90.8 228.9,93.7 224.5,93.7 224.5,96.6 218.7,96.6 218.7,93.7 214.4,93.7Z" fill="#16b85a"/><path d="M228.9,98.8 233.3,98.8 233.3,101.7 228.9,101.7Z" fill="#16b85a"/><path d="M246.4,99.5 250.7,99.5 250.7,108.3 246.4,108.3Z" fill="#16b85a"/><path d="M233.3,90.8 256.5,90.8 256.5,93.7 260.2,93.7 260.2,96.6 290,96.6 290,103.9 260.2,103.9 260.2,106.8 256.5,106.8 256.5,99.5 233.3,99.5Z" fill="#16b85a"/><path d="M270,97.9 284.5,97.9 288.9,102.3 278.7,103.7 270,102.3Z" fill="#16b85a"/><path d="M238.2,48 244,48 244,43.6 249.8,43.6 252.7,42.2 260,41.5 260,62 238.2,62Z" fill="#0a8f3f"/><path d="M248.7,49 250.2,49 250.2,43.9 253.8,42.2 266.9,42.2 271.3,46.1 277.8,49 281.5,51.9 283.6,54.8 286.5,59.9 289.5,67.2 298.2,71.5 309.8,73 320,73 320,87 240,87 240,56.3 248.7,56.3Z" fill="#0a8f3f"/><path d="M305,53.4 311.5,53.4 311.5,67.2 317.4,67.2 318.1,73 319.5,75.2 322.5,75.2 322.5,87 305,87Z" fill="#0a8f3f"/><path d="M329.5,74.5 363,74.5 365.2,75.9 371,76.6 369.5,79.5 368.8,88.3 364.5,90.5 363.7,94.1 358.6,96.3 357.2,99.2 351.4,101.4 349.2,97.7 346.3,99.2 344.1,97.7 341.2,99.9 336.8,102.1 335.4,98.5 331,99.9 327.4,104.3 323.7,105.7 322.3,110.1 320.1,114.5 317.2,117.4 315,118.1 315,76.6 317.9,75.2 323.7,74.5Z" fill="#16b85a"/><path d="M250,70 318.4,70 318.4,74.4 330,74.4 330,113.6 311.1,113.6 311.1,118 308.2,118 308.2,132 293.6,132 293.6,118 298,118 296.5,107.8 293.6,99.1 287.8,85.3 250,85.3Z" fill="#0a8f3f"/><path d="M250,84.5 258.7,84.5 258.7,88.9 250,88.9Z" fill="#0a8f3f"/><path d="M236.5,55 270,55 270,86.3 262.7,86.3 262.7,98.6 254.7,98.6 252.5,95.7 248.2,89.9 248.2,97.2 238,97.2 238,89.9 233.6,89.9 233.6,84.1 225.6,84.1 225.6,69.5 233.6,69.5 236.5,63.7Z" fill="#0a8f3f"/><path d="M294,95 328.2,95 327.5,103.7 326,109.5 323.8,112.5 319.5,113.9 316.5,116.8 313.6,114.6 311.5,116.8 310.7,121.9 291.8,121.9 291.8,116.8 296.9,114.6 299.1,112.5 297.6,109.5 294.7,103.7Z" fill="#0a8f3f"/><path d="M296.5,112.3 306.8,112.3 308.5,115.7 312,117.5 312,122.6 312.9,131.3 310.3,132.1 304.2,132.1 300.8,129.5 299,132.1 297.3,134.7 297.3,141.6 298.2,146.8 296.5,152 292.1,154.6 290.4,157.2 287.8,157.2 287.8,163.2 285.2,167.6 283.5,168.9 278.3,168.9 278.3,164.1 279.2,155.5 282.6,154.6 282.6,146.8 278.3,144.2 277.5,138.2 280,133.9 283.5,132.1 285.2,127.8 290.4,126.1 290.4,120.9 293.9,117.5 296.5,115.7Z" fill="#0a8f3f"/><path d="M278.5,153.8 279.2,162.7 277.9,164 288,164 288.3,160.8 288.7,155 286.8,153.8Z" fill="#16b85a"/><path d="M277.9,164 277.3,169 277.3,172.9 281.7,173.5 281.7,176.7 285.5,176.7 285.5,172.3 283.6,171 284.9,167.8 286.8,164Z" fill="#16b85a"/><path d="M221,51.3 238,51.3 238,58.3 221,58.3Z" fill="#8fe39a"/><path d="M322.3,79.5 365.2,79.5 364.5,94.1 344.1,97 335.4,97.7 331,99.9 327.4,104.3 323.7,105.7 322.3,110.1 320.1,114.5 317.2,117.4 315,118.1 315,76.6Z" fill="#0a8f3f"/><path d="M250,99.1 255.1,99.1 255.1,116.5 250,116.5Z" fill="#8fe39a"/><path d="M308.2,112.2 315.5,112.2 315.5,118 308.2,118Z" fill="#16b85a"/><path d="M220,94 230,94 230,97.8 220,97.8Z" fill="#8fe39a"/><path d="M226.5,106.5 230.6,106.5 230.6,108.7 226.5,108.7Z" fill="#16b85a"/><path d="M301.3,103.7 309.3,103.7 309.3,113.9 303.5,113.9Z" fill="#16b85a"/><path d="M278.3,144.2 277.5,138.2 280,133.9 283.5,132.1 285.2,127.8 290.4,126.1 292.1,129.5 289.5,134.7 287,139.9 287,146 282.6,146.8Z" fill="#16b85a"/><path d="M300.8,117.5 312,117.5 312,122.6 312.9,131.3 310.3,132.1 304.2,132.1 300.8,129.5 304.2,124.4Z" fill="#16b85a"/><path d="M278.3,164.1 282.6,164.1 283.5,168.9 278.3,168.9Z" fill="#16b85a"/><path d="M237,50.4 254.4,50.4 254.4,54.7 270,54.7 270,69.4 237,69.4Z" fill="#16b85a"/><path d="M294,79 302.5,79 302.5,81.5 294,81.5Z" fill="#0a4519"/><path d="M308,86.5 311.5,86.5 311.5,92 308,92Z" fill="#0a4519"/><path d="M293.9,140.8 296.5,140.8 296.5,144.2 293.9,144.2Z" fill="#8fe39a"/><path d="M279.2,155.5 282.6,154.6 287.8,157.2 287.8,163.2 285.2,167.6 283.5,168.9 278.3,168.9 278.3,164.1Z" fill="#16b85a"/><path d="M241.8,24.7 249.8,24.7 249.8,29.1 241.8,29.1Z" fill="#16b85a"/><path d="M230.9,29.1 236,29.1 236,34.2 230.9,34.2Z" fill="#16b85a"/><path d="M217.8,36.4 223.6,36.4 223.6,41.5 217.8,41.5Z" fill="#16b85a"/><path d="M204,12.4 206.9,12.4 206.9,16 204,16Z" fill="#cdf4cc"/><path d="M201.1,18.2 204.7,18.2 204.7,21.8 201.1,21.8Z" fill="#cdf4cc"/><path d="M206.9,32 216.4,32 216.4,34.2 206.9,34.2Z" fill="#cdf4cc"/><path d="M209.1,36.4 216.4,36.4 216.4,39.3 209.1,39.3Z" fill="#cdf4cc"/><path d="M241.5,27.9 250.2,27.9 250.2,32.3 241.5,32.3Z" fill="#8fe39a"/><path d="M283.6,46.1 288,46.1 288,51.9 283.6,51.9Z" fill="#16b85a"/><path d="M261.8,62.1 266.9,62.1 266.9,67.9 261.8,67.9Z" fill="#16b85a"/><path d="M252.4,54.1 258.9,54.1 258.9,56.3 252.4,56.3Z" fill="#16b85a"/><path d="M312.7,54.1 320,54.1 320,67.2 312.7,67.2Z" fill="#0a8f3f"/><path d="M257.3,78.7 283.5,78.7 283.5,84.5 257.3,84.5Z" fill="#16b85a"/><path d="M214,83.4 225.6,83.4 225.6,86.3 214,86.3Z" fill="#0a8f3f"/><path d="M278.3,134.7 282.6,134.7 282.6,142.5 278.3,142.5Z" fill="#8fe39a"/><path d="M284.4,131.3 287.8,131.3 287.8,134.7 284.4,134.7Z" fill="#8fe39a"/></g><mask id="Msep" maskUnits="userSpaceOnUse" x="150" y="0" width="250" height="200"><rect x="150" y="0" width="250" height="200" fill="#fff"/><path d="M234.5,45 238.2,45 238.2,48.6 234.5,48.6ZM249.5,41.4 253.6,41.4 253.6,45 249.5,45ZM234.5,51.8 237.7,51.8 237.7,54.5 234.5,54.5ZM232.3,55 237.7,55 237.7,57.7 232.3,57.7ZM236.8,63.8 247.7,63.8 247.7,66.8 236.8,66.8ZM238.6,66.8 244.5,66.8 244.5,69.5 238.6,69.5ZM248.2,66.8 252.3,66.8 252.3,70 248.2,70ZM232.7,66 236,66 236,69 232.7,69ZM230,69 233.2,69 233.2,73.6 230,73.6ZM241.8,73.2 250,73.2 250,76 241.8,76ZM254,73.2 257.7,73.2 257.7,79 254,79ZM262.7,76.4 266.4,76.4 266.4,79 262.7,79ZM269.5,48.2 275,48.2 275,51.4 269.5,51.4ZM269.5,55 275,55 275,57.7 269.5,57.7ZM270,61 275,61 275,63.6 270,63.6ZM272.3,73.2 275,73.2 275,76 272.3,76ZM270,49 274.5,49 274.5,51.8 270,51.8ZM273.6,52.7 278.2,52.7 278.2,55 273.6,55ZM270,55.5 274.5,55.5 274.5,58.2 270,58.2ZM270,61.4 278.2,61.4 278.2,63.6 270,63.6ZM282.7,62.3 286.8,62.3 286.8,66 282.7,66ZM281,69.5 284.5,69.5 284.5,73.2 281,73.2ZM271.8,73.6 280,73.6 280,76 271.8,76ZM289,69 294.5,69 294.5,71.8 289,71.8ZM305,76 310,76 310,80.3 305,80.3ZM309.5,67.7 313.2,67.7 313.2,70 309.5,70ZM225,78.2 229.5,78.2 229.5,80.5 225,80.5ZM238.2,81 243.2,81 243.2,82.7 238.2,82.7ZM244.5,80 247.7,80 247.7,81.8 244.5,81.8ZM252.3,80 256,80 256,81.8 252.3,81.8ZM226,84 233.2,84 233.2,88.6 226,88.6ZM238.2,85.5 241.8,85.5 241.8,87.7 238.2,87.7ZM248.2,85 257.7,85 257.7,91.4 248.2,91.4ZM263.2,85 266,85 266,91 263.2,91ZM271.4,90 275,90 275,92.7 271.4,92.7ZM264,93.2 268.6,93.2 268.6,98.6 264,98.6ZM237.7,97.7 243.2,97.7 243.2,101.4 237.7,101.4ZM234,101.4 242.3,101.4 242.3,107.7 234,107.7ZM231.4,107.7 236.8,107.7 236.8,114 231.4,114ZM246.8,108.2 250.5,108.2 250.5,111.4 246.8,111.4ZM275,76.8 283.2,76.8 283.2,79.5 275,79.5ZM284.5,78.2 292.3,78.2 292.3,84 284.5,84ZM289,84 292.7,84 292.7,86.8 289,86.8ZM276,84.5 283.2,84.5 283.2,90 276,90ZM270.5,90 276,90 276,93.2 270.5,93.2ZM265,93.2 269.5,93.2 269.5,99.5 265,99.5ZM284.5,88.6 291.4,88.6 291.4,93.2 284.5,93.2ZM291.4,94.5 296,94.5 296,99.5 291.4,99.5ZM301,86.8 305,86.8 305,90.5 301,90.5ZM300,94.5 304,94.5 304,98.2 300,98.2ZM311.4,91.4 315.5,91.4 315.5,104 311.4,104ZM321,76.4 322.7,76.4 322.7,79 321,79ZM321.4,87.3 323.6,87.3 323.6,90 321.4,90ZM285,88 288.6,88 288.6,91.8 285,91.8ZM238.6,42.7 247.7,48.2 238.6,47.7ZM198.9,22.5 204,22.5 204,27.6 198.9,27.6ZM218.1,42.2 223.6,42.2 223.6,48 218.1,48ZM221.2,55 223.6,55 223.6,57.9 221.2,57.9ZM231.6,37.1 236,37.1 236,41.5 231.6,41.5ZM218,43 224,43 224,47.5 218,47.5ZM231.4,36.4 235.6,36.4 235.6,40.6 231.4,40.6ZM309.4,67.9 314.5,67.9 314.5,70.8 309.4,70.8ZM305,75.9 310.1,75.9 310.1,79.5 305,79.5ZM347.2,65 350.8,65 350.8,67.9 347.2,67.9ZM356.6,67.2 360.3,67.2 360.3,70.1 356.6,70.1ZM336.3,71.5 343.5,71.5 343.5,73.7 336.3,73.7ZM348.6,74.5 353,74.5 353,76.6 348.6,76.6ZM325.4,78.8 330.5,78.8 330.5,84.6 325.4,84.6ZM355.2,78.8 362.5,78.8 362.5,81.7 355.2,81.7ZM353,81 355.9,81 355.9,84.6 353,84.6ZM358.1,83.2 361,83.2 361,85.4 358.1,85.4ZM336.1,71.1 344.8,71.1 344.8,73 336.1,73ZM348.5,74.9 352.8,74.9 352.8,76.3 348.5,76.3ZM323.7,81.7 329.5,81.7 329.5,85.4 323.7,85.4ZM341.9,82.5 344.8,82.5 344.8,86.8 341.9,86.8ZM353.5,79.5 357.2,79.5 357.2,82.5 353.5,82.5ZM357.9,78.8 362.3,78.8 362.3,81 357.9,81ZM364.5,81.7 366.6,81.7 366.6,84.6 364.5,84.6ZM357.9,83.9 361.5,83.9 361.5,85.4 357.9,85.4ZM331,90.9 333.9,90.9 333.9,92.9 331,92.9ZM322,100.5 327.1,100.5 327.1,104.2 322,104.2ZM324.9,91.8 330,91.8 330,99.1 324.9,99.1ZM314,104.2 319.8,104.2 319.8,106.4 314,106.4ZM218.4,87 224.9,87 224.9,89.9 218.4,89.9ZM310.7,103 315.1,103 315.1,106.6 310.7,106.6ZM304.9,115.4 309.3,115.4 309.3,118.3 304.9,118.3ZM309.5,103 315.5,103 315.5,107.5 309.5,107.5ZM305.5,109 309,109 309,111.6 305.5,111.6ZM305,115.7 307.7,115.7 307.7,118 305,118ZM321.8,95.3 328,95.3 328,99.8 321.8,99.8ZM324.5,99.8 329,99.8 329,102.5 324.5,102.5ZM330,90.7 334.5,90.7 334.5,93 330,93ZM300,94.4 303.6,94.4 303.6,98 300,98ZM316.4,105.7 318.2,105.7 318.2,109.8 316.4,109.8ZM318.2,105.2 321.6,105.2 321.6,106.6 318.2,106.6ZM290.5,93.5 292,93.5 292,99.5 290.5,99.5ZM309,102 315,102 315,112 309,112Z" fill="#000"/></mask>
</defs>
<rect width="550" height="430" fill="#fff"/>
<g><use href="#base"/><g style="mix-blend-mode:multiply"><g clip-path="url(#land)"><g mask="url(#Mtop)"><use href="#Gtop"/></g></g></g><g opacity=".45"><g clip-path="url(#land)"><g mask="url(#Mtop)"><use href="#Gtop"/></g></g></g><g font-family="'DejaVu Sans','Liberation Sans',sans-serif" fill="#222">
<rect x="367.8" y="142.3" width="6.4" height="3.3" rx=".6" fill="#fff" stroke="#333" stroke-width=".45"/>
<text x="376" y="146" font-size="5.4">State</text>
<text x="368" y="152.9" font-size="3.35">Predicted yield(Bu/Acre)</text>
<rect x="367.8" y="155.9" width="6.4" height="3.5" rx=".6" fill="#fff" stroke="#aaa" stroke-width=".4"/>
<text x="376.2" y="159.8" font-size="5.3">NA</text>
<rect x="367.8" y="162.6" width="6.4" height="3.4" fill="#c9f3c8" stroke="#8fd996" stroke-width=".4"/>
<text x="376.2" y="166.4" font-size="5.3">10–25</text>
<rect x="367.8" y="169.4" width="6.4" height="3.4" fill="#86e090" stroke="#5cc86e" stroke-width=".4"/>
<text x="376.2" y="173.1" font-size="5.3">25–40</text>
<rect x="367.8" y="176.1" width="6.4" height="3.4" fill="#0bb04f" stroke="#089a44" stroke-width=".4"/>
<text x="376.2" y="179.9" font-size="5.3">40–55</text>
<rect x="367.8" y="182.9" width="6.4" height="3.4" fill="#0a8036" stroke="#07692b" stroke-width=".4"/>
<text x="376.2" y="186.6" font-size="5.3">55–70</text>
<rect x="367.8" y="189.6" width="6.4" height="3.4" fill="#0a4018" stroke="#052a0e" stroke-width=".4"/>
<text x="376.2" y="193.4" font-size="5.3">70–85</text>
</g><g font-family="'DejaVu Sans','Liberation Sans',sans-serif" fill="#333" font-size="4" text-anchor="middle">
<rect x="160.7" y="185.4" width="93.6" height="2.8" fill="#fff" stroke="#555" stroke-width=".45"/>
<path d="M184.6,185.4v2.8M207.7,185.4v2.8M231.3,185.4v2.8" stroke="#555" stroke-width=".45"/>
<text x="172" y="183.2">250</text><text x="195.6" y="183.2">500</text><text x="219" y="183.2">750</text><text x="243.1" y="183.2">1000 km</text>
</g><g><text x="385.1" y="7.3" font-family="'DejaVu Sans','Liberation Sans',sans-serif" font-size="4.4" text-anchor="middle" fill="#222">N</text>
<path d="M385,8.7L389.8,20.6L385,16.9L380.3,20.6Z" fill="#111"/></g></g>
<g transform="translate(-138,213)"><use href="#base"/><g style="mix-blend-mode:multiply"><g clip-path="url(#land)"><g mask="url(#Maug)"><use href="#Gaug"/></g></g></g><g opacity=".45"><g clip-path="url(#land)"><g mask="url(#Maug)"><use href="#Gaug"/></g></g></g></g>
<g transform="translate(-139.6,212.2)"><g font-family="'DejaVu Sans','Liberation Sans',sans-serif" fill="#222">
<rect x="367.8" y="142.3" width="6.4" height="3.3" rx=".6" fill="#fff" stroke="#333" stroke-width=".45"/>
<text x="376" y="146" font-size="5.4">State</text>
<text x="368" y="152.9" font-size="3.35">Predicted yield(Bu/Acre)</text>
<rect x="367.8" y="155.9" width="6.4" height="3.5" rx=".6" fill="#fff" stroke="#aaa" stroke-width=".4"/>
<text x="376.2" y="159.8" font-size="5.3">NA</text>
<rect x="367.8" y="162.6" width="6.4" height="3.4" fill="#c9f3c8" stroke="#8fd996" stroke-width=".4"/>
<text x="376.2" y="166.4" font-size="5.3">10–25</text>
<rect x="367.8" y="169.4" width="6.4" height="3.4" fill="#86e090" stroke="#5cc86e" stroke-width=".4"/>
<text x="376.2" y="173.1" font-size="5.3">25–40</text>
<rect x="367.8" y="176.1" width="6.4" height="3.4" fill="#0bb04f" stroke="#089a44" stroke-width=".4"/>
<text x="376.2" y="179.9" font-size="5.3">40–55</text>
<rect x="367.8" y="182.9" width="6.4" height="3.4" fill="#0a8036" stroke="#07692b" stroke-width=".4"/>
<text x="376.2" y="186.6" font-size="5.3">55–70</text>
<rect x="367.8" y="189.6" width="6.4" height="3.4" fill="#0a4018" stroke="#052a0e" stroke-width=".4"/>
<text x="376.2" y="193.4" font-size="5.3">70–85</text>
</g></g><g transform="translate(-138,213)"><g font-family="'DejaVu Sans','Liberation Sans',sans-serif" fill="#333" font-size="4" text-anchor="middle">
<rect x="160.7" y="185.4" width="93.6" height="2.8" fill="#fff" stroke="#555" stroke-width=".45"/>
<path d="M184.6,185.4v2.8M207.7,185.4v2.8M231.3,185.4v2.8" stroke="#555" stroke-width=".45"/>
<text x="172" y="183.2">250</text><text x="195.6" y="183.2">500</text><text x="219" y="183.2">750</text><text x="243.1" y="183.2">1000 km</text>
</g><g><text x="385.1" y="7.3" font-family="'DejaVu Sans','Liberation Sans',sans-serif" font-size="4.4" text-anchor="middle" fill="#222">N</text>
<path d="M385,8.7L389.8,20.6L385,16.9L380.3,20.6Z" fill="#111"/></g></g>
<g transform="translate(138,213)"><use href="#base"/><g style="mix-blend-mode:multiply"><g clip-path="url(#land)"><g mask="url(#Msep)"><use href="#Gsep"/></g></g></g><g opacity=".45"><g clip-path="url(#land)"><g mask="url(#Msep)"><use href="#Gsep"/></g></g></g></g>
<g transform="translate(137.2,212)"><g font-family="'DejaVu Sans','Liberation Sans',sans-serif" fill="#222">
<rect x="367.8" y="142.3" width="6.4" height="3.3" rx=".6" fill="#fff" stroke="#333" stroke-width=".45"/>
<text x="376" y="146" font-size="5.4">State</text>
<text x="368" y="152.9" font-size="3.35">Predicted yield(Bu/Acre)</text>
<rect x="367.8" y="155.9" width="6.4" height="3.5" rx=".6" fill="#fff" stroke="#aaa" stroke-width=".4"/>
<text x="376.2" y="159.8" font-size="5.3">NA</text>
<rect x="367.8" y="162.6" width="6.4" height="3.4" fill="#c9f3c8" stroke="#8fd996" stroke-width=".4"/>
<text x="376.2" y="166.4" font-size="5.3">10–25</text>
<rect x="367.8" y="169.4" width="6.4" height="3.4" fill="#86e090" stroke="#5cc86e" stroke-width=".4"/>
<text x="376.2" y="173.1" font-size="5.3">25–40</text>
<rect x="367.8" y="176.1" width="6.4" height="3.4" fill="#0bb04f" stroke="#089a44" stroke-width=".4"/>
<text x="376.2" y="179.9" font-size="5.3">40–55</text>
<rect x="367.8" y="182.9" width="6.4" height="3.4" fill="#0a8036" stroke="#07692b" stroke-width=".4"/>
<text x="376.2" y="186.6" font-size="5.3">55–70</text>
<rect x="367.8" y="189.6" width="6.4" height="3.4" fill="#0a4018" stroke="#052a0e" stroke-width=".4"/>
<text x="376.2" y="193.4" font-size="5.3">70–85</text>
</g></g><g transform="translate(140,213.8)"><g font-family="'DejaVu Sans','Liberation Sans',sans-serif" fill="#333" font-size="4" text-anchor="middle">
<rect x="160.7" y="185.4" width="93.6" height="2.8" fill="#fff" stroke="#555" stroke-width=".45"/>
<path d="M184.6,185.4v2.8M207.7,185.4v2.8M231.3,185.4v2.8" stroke="#555" stroke-width=".45"/>
<text x="172" y="183.2">250</text><text x="195.6" y="183.2">500</text><text x="219" y="183.2">750</text><text x="243.1" y="183.2">1000 km</text>
</g></g><g transform="translate(138,213)"><g><text x="385.1" y="7.3" font-family="'DejaVu Sans','Liberation Sans',sans-serif" font-size="4.4" text-anchor="middle" fill="#222">N</text>
<path d="M385,8.7L389.8,20.6L385,16.9L380.3,20.6Z" fill="#111"/></g></g>
<g font-family="'Liberation Serif',serif" fill="#111">
<text transform="translate(17.2,98.4) rotate(-90)" font-size="14.4" text-anchor="middle">Observed yield (USDA)</text>
<text transform="translate(20.6,282.8) rotate(-90)" font-size="14.1" text-anchor="middle">Predicted yield</text>
<text x="144.1" y="422" font-size="13.5" text-anchor="middle">Aug.</text>
<text x="434" y="422" font-size="13.6" text-anchor="middle">Sept.</text>
</g>
</svg>
</body></html>
